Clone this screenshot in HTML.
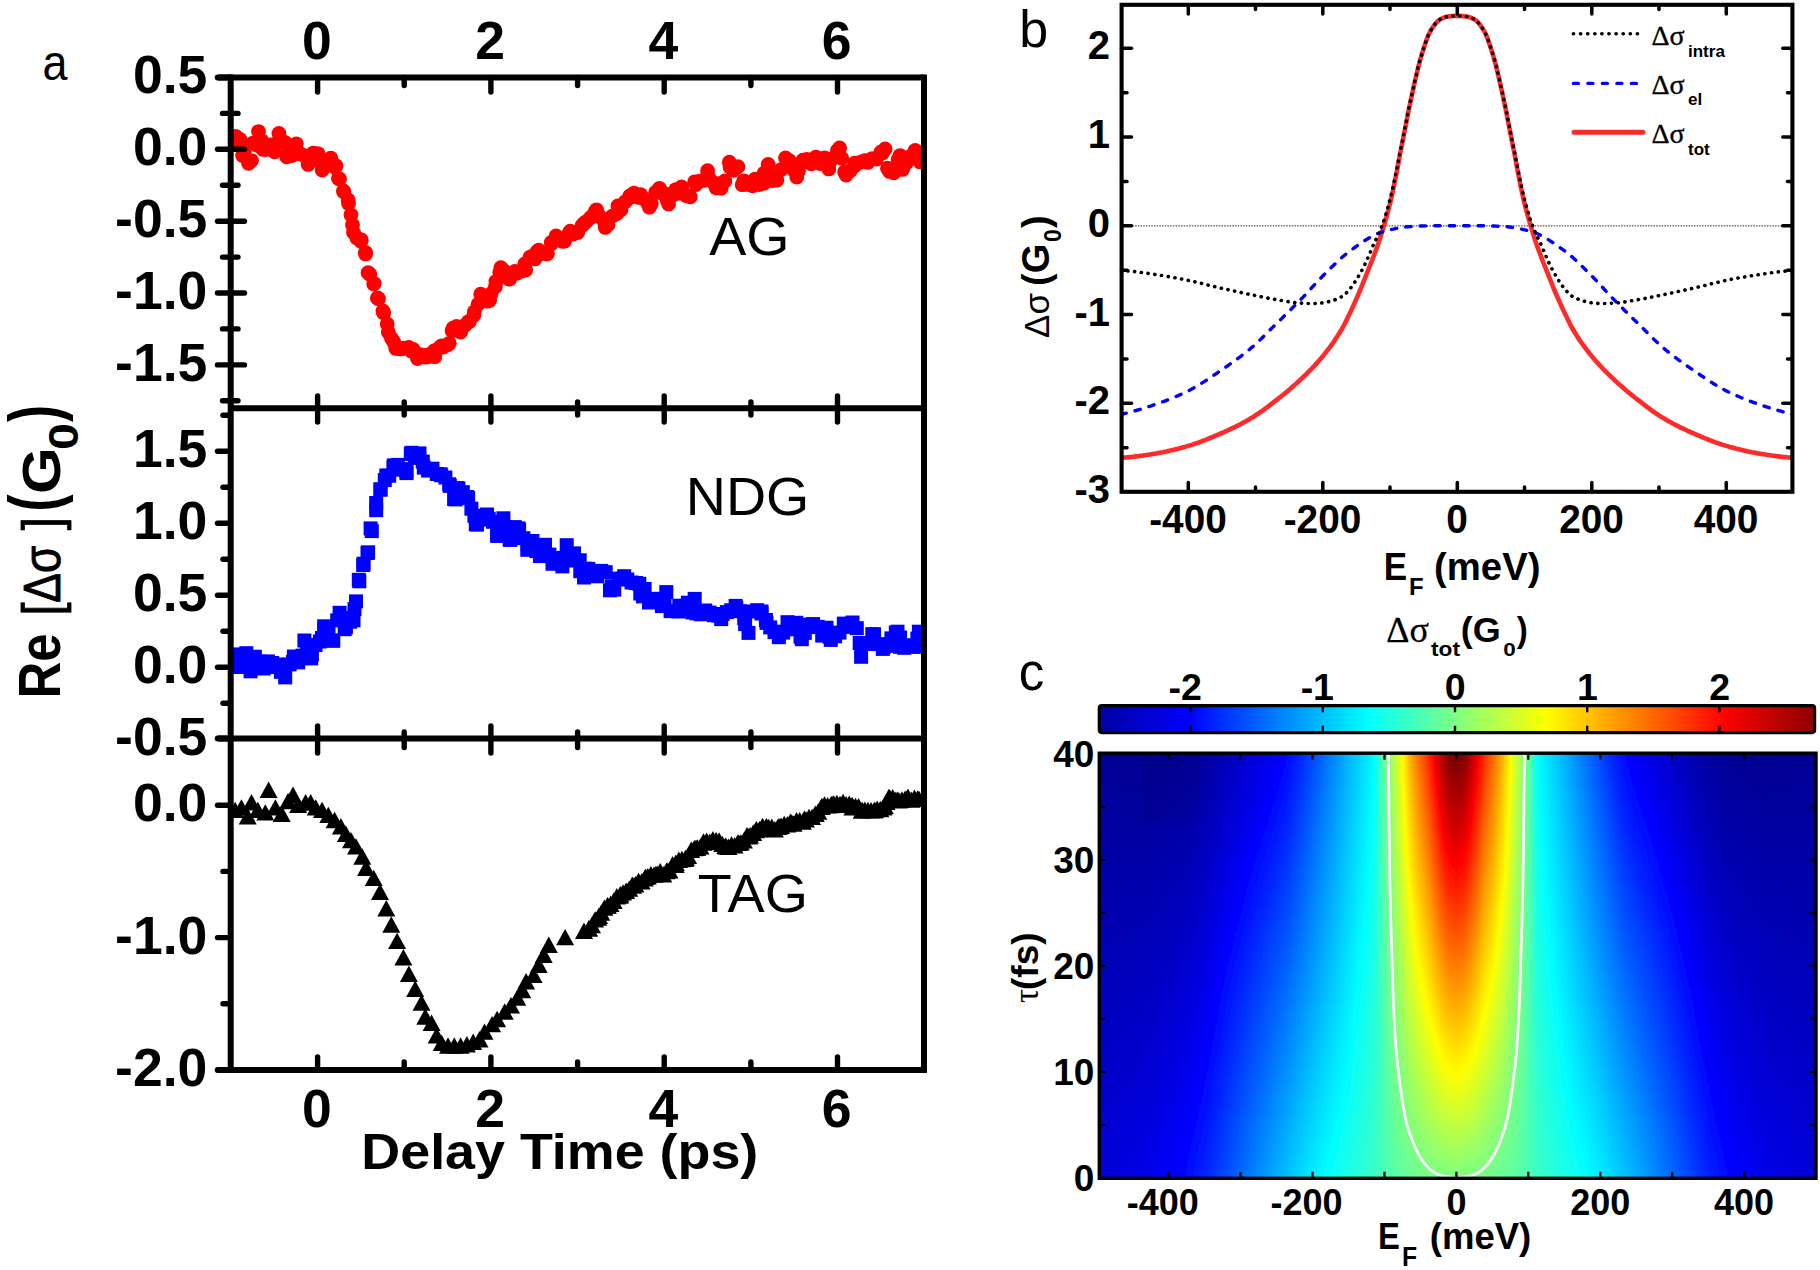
<!DOCTYPE html>
<html lang="en"><head><meta charset="utf-8"><title>Figure</title>
<style>html,body{margin:0;padding:0;background:#fff}svg{display:block}text{white-space:pre}</style></head>
<body>
<svg width="1820" height="1270" viewBox="0 0 1820 1270">
<rect width="1820" height="1270" fill="#fff"/>
<g id="pa">
<clipPath id="c1"><rect x="230.7" y="77.4" width="693.3" height="330.8"/></clipPath>
<g fill="#ff0000" clip-path="url(#c1)">
<circle cx="231.3" cy="144.8" r="7.4"/>
<circle cx="235.6" cy="136.3" r="7.4"/>
<circle cx="240" cy="139.5" r="7.4"/>
<circle cx="244.3" cy="151.2" r="7.4"/>
<circle cx="248.6" cy="163.3" r="7.4"/>
<circle cx="253" cy="143.1" r="7.4"/>
<circle cx="257.3" cy="145.4" r="7.4"/>
<circle cx="261.6" cy="140.6" r="7.4"/>
<circle cx="265.9" cy="149.6" r="7.4"/>
<circle cx="270.3" cy="145" r="7.4"/>
<circle cx="274.6" cy="151.8" r="7.4"/>
<circle cx="278.9" cy="133.5" r="7.4"/>
<circle cx="283.3" cy="141.7" r="7.4"/>
<circle cx="287.6" cy="153.7" r="7.4"/>
<circle cx="291.9" cy="155.6" r="7.4"/>
<circle cx="296.3" cy="143.8" r="7.4"/>
<circle cx="300.6" cy="153.9" r="7.4"/>
<circle cx="304.9" cy="155.9" r="7.4"/>
<circle cx="309.2" cy="162.1" r="7.4"/>
<circle cx="313.6" cy="156.5" r="7.4"/>
<circle cx="317.9" cy="153.6" r="7.4"/>
<circle cx="322.2" cy="170" r="7.4"/>
<circle cx="326.6" cy="165.6" r="7.4"/>
<circle cx="330.9" cy="159.7" r="7.4"/>
<circle cx="335.2" cy="167.4" r="7.4"/>
<circle cx="339.6" cy="179.1" r="7.4"/>
<circle cx="343.9" cy="191.7" r="7.4"/>
<circle cx="348.2" cy="200" r="7.4"/>
<circle cx="352.5" cy="224.8" r="7.4"/>
<circle cx="356.9" cy="238" r="7.4"/>
<circle cx="361.2" cy="239.8" r="7.4"/>
<circle cx="365.5" cy="252.5" r="7.4"/>
<circle cx="369.9" cy="274.2" r="7.4"/>
<circle cx="374.2" cy="283.4" r="7.4"/>
<circle cx="378.5" cy="298.7" r="7.4"/>
<circle cx="382.9" cy="311" r="7.4"/>
<circle cx="387.2" cy="324" r="7.4"/>
<circle cx="391.5" cy="338.5" r="7.4"/>
<circle cx="395.8" cy="348.4" r="7.4"/>
<circle cx="400.2" cy="348.8" r="7.4"/>
<circle cx="404.5" cy="348.3" r="7.4"/>
<circle cx="408.8" cy="347.5" r="7.4"/>
<circle cx="413.2" cy="349.4" r="7.4"/>
<circle cx="417.5" cy="358.5" r="7.4"/>
<circle cx="421.8" cy="355.4" r="7.4"/>
<circle cx="426.2" cy="355.1" r="7.4"/>
<circle cx="430.5" cy="354.5" r="7.4"/>
<circle cx="434.8" cy="356.7" r="7.4"/>
<circle cx="439.1" cy="347.9" r="7.4"/>
<circle cx="443.5" cy="347.1" r="7.4"/>
<circle cx="447.8" cy="344.7" r="7.4"/>
<circle cx="452.1" cy="330.7" r="7.4"/>
<circle cx="456.5" cy="326.5" r="7.4"/>
<circle cx="460.8" cy="330.7" r="7.4"/>
<circle cx="465.1" cy="325.3" r="7.4"/>
<circle cx="469.5" cy="321.5" r="7.4"/>
<circle cx="473.8" cy="315.3" r="7.4"/>
<circle cx="478.1" cy="304.2" r="7.4"/>
<circle cx="482.4" cy="296.3" r="7.4"/>
<circle cx="486.8" cy="301.2" r="7.4"/>
<circle cx="491.1" cy="293.7" r="7.4"/>
<circle cx="495.4" cy="286.8" r="7.4"/>
<circle cx="499.8" cy="272.4" r="7.4"/>
<circle cx="504.1" cy="270.9" r="7.4"/>
<circle cx="508.4" cy="278.8" r="7.4"/>
<circle cx="512.8" cy="274.3" r="7.4"/>
<circle cx="517.1" cy="273.2" r="7.4"/>
<circle cx="521.4" cy="271" r="7.4"/>
<circle cx="525.7" cy="270" r="7.4"/>
<circle cx="530.1" cy="257.1" r="7.4"/>
<circle cx="534.4" cy="254.8" r="7.4"/>
<circle cx="538.7" cy="250.2" r="7.4"/>
<circle cx="543.1" cy="253.4" r="7.4"/>
<circle cx="547.4" cy="253.8" r="7.4"/>
<circle cx="551.7" cy="243.4" r="7.4"/>
<circle cx="556.1" cy="235.9" r="7.4"/>
<circle cx="560.4" cy="240.6" r="7.4"/>
<circle cx="564.7" cy="241" r="7.4"/>
<circle cx="569" cy="233.4" r="7.4"/>
<circle cx="573.4" cy="234" r="7.4"/>
<circle cx="577.7" cy="231.7" r="7.4"/>
<circle cx="582" cy="225.7" r="7.4"/>
<circle cx="586.4" cy="221.6" r="7.4"/>
<circle cx="590.7" cy="217.4" r="7.4"/>
<circle cx="595" cy="212" r="7.4"/>
<circle cx="599.4" cy="215.9" r="7.4"/>
<circle cx="603.7" cy="220.8" r="7.4"/>
<circle cx="608" cy="224.7" r="7.4"/>
<circle cx="612.3" cy="216.1" r="7.4"/>
<circle cx="616.7" cy="213.7" r="7.4"/>
<circle cx="621" cy="209.8" r="7.4"/>
<circle cx="625.3" cy="201.7" r="7.4"/>
<circle cx="629.7" cy="195.9" r="7.4"/>
<circle cx="634" cy="193.1" r="7.4"/>
<circle cx="638.3" cy="197.3" r="7.4"/>
<circle cx="642.7" cy="198" r="7.4"/>
<circle cx="647" cy="202.1" r="7.4"/>
<circle cx="651.3" cy="203.8" r="7.4"/>
<circle cx="655.6" cy="192.3" r="7.4"/>
<circle cx="660" cy="192.6" r="7.4"/>
<circle cx="664.3" cy="193.4" r="7.4"/>
<circle cx="668.6" cy="204" r="7.4"/>
<circle cx="673" cy="194.9" r="7.4"/>
<circle cx="677.3" cy="193.3" r="7.4"/>
<circle cx="681.6" cy="187" r="7.4"/>
<circle cx="686" cy="195.5" r="7.4"/>
<circle cx="690.3" cy="196.8" r="7.4"/>
<circle cx="694.6" cy="181.9" r="7.4"/>
<circle cx="698.9" cy="181.5" r="7.4"/>
<circle cx="703.3" cy="180.4" r="7.4"/>
<circle cx="707.6" cy="170.7" r="7.4"/>
<circle cx="711.9" cy="181.6" r="7.4"/>
<circle cx="716.3" cy="188.1" r="7.4"/>
<circle cx="720.6" cy="183.5" r="7.4"/>
<circle cx="724.9" cy="181" r="7.4"/>
<circle cx="729.3" cy="162.2" r="7.4"/>
<circle cx="733.6" cy="170.3" r="7.4"/>
<circle cx="737.9" cy="166.7" r="7.4"/>
<circle cx="742.2" cy="184.7" r="7.4"/>
<circle cx="746.6" cy="184.4" r="7.4"/>
<circle cx="750.9" cy="184.7" r="7.4"/>
<circle cx="755.2" cy="179.1" r="7.4"/>
<circle cx="759.6" cy="184.5" r="7.4"/>
<circle cx="763.9" cy="183.2" r="7.4"/>
<circle cx="768.2" cy="164.5" r="7.4"/>
<circle cx="772.6" cy="180.5" r="7.4"/>
<circle cx="776.9" cy="180.1" r="7.4"/>
<circle cx="781.2" cy="169.6" r="7.4"/>
<circle cx="785.5" cy="158" r="7.4"/>
<circle cx="789.9" cy="166.4" r="7.4"/>
<circle cx="794.2" cy="170.5" r="7.4"/>
<circle cx="798.5" cy="170.9" r="7.4"/>
<circle cx="802.9" cy="160.2" r="7.4"/>
<circle cx="807.2" cy="162.2" r="7.4"/>
<circle cx="811.5" cy="163.8" r="7.4"/>
<circle cx="815.9" cy="157.1" r="7.4"/>
<circle cx="820.2" cy="163.6" r="7.4"/>
<circle cx="824.5" cy="157.8" r="7.4"/>
<circle cx="828.8" cy="168.9" r="7.4"/>
<circle cx="833.2" cy="158.3" r="7.4"/>
<circle cx="837.5" cy="150.4" r="7.4"/>
<circle cx="841.8" cy="158.2" r="7.4"/>
<circle cx="846.2" cy="175" r="7.4"/>
<circle cx="850.5" cy="170.6" r="7.4"/>
<circle cx="854.8" cy="165.7" r="7.4"/>
<circle cx="859.2" cy="162.7" r="7.4"/>
<circle cx="863.5" cy="161.3" r="7.4"/>
<circle cx="867.8" cy="162.4" r="7.4"/>
<circle cx="872.1" cy="158.6" r="7.4"/>
<circle cx="876.5" cy="159" r="7.4"/>
<circle cx="880.8" cy="152.2" r="7.4"/>
<circle cx="885.1" cy="149" r="7.4"/>
<circle cx="889.5" cy="171.4" r="7.4"/>
<circle cx="893.8" cy="172.8" r="7.4"/>
<circle cx="898.1" cy="159.8" r="7.4"/>
<circle cx="902.5" cy="168.1" r="7.4"/>
<circle cx="906.8" cy="162.4" r="7.4"/>
<circle cx="911.1" cy="156" r="7.4"/>
<circle cx="915.4" cy="151.1" r="7.4"/>
<circle cx="919.8" cy="155.3" r="7.4"/>
<circle cx="231.3" cy="136.7" r="7.4"/>
<circle cx="241.4" cy="143" r="7.4"/>
<circle cx="242.6" cy="155.6" r="7.4"/>
<circle cx="251.5" cy="160.6" r="7.4"/>
<circle cx="258.5" cy="131.6" r="7.4"/>
<circle cx="262.8" cy="149.3" r="7.4"/>
<circle cx="275.4" cy="144.2" r="7.4"/>
<circle cx="285.5" cy="143" r="7.4"/>
<circle cx="286.7" cy="156.8" r="7.4"/>
<circle cx="294.3" cy="146.8" r="7.4"/>
<circle cx="308.1" cy="164.4" r="7.4"/>
<circle cx="313.2" cy="153.1" r="7.4"/>
<circle cx="322" cy="164.4" r="7.4"/>
<circle cx="330.8" cy="158.1" r="7.4"/>
<circle cx="335.9" cy="165.7" r="7.4"/>
<circle cx="338.4" cy="178.3" r="7.4"/>
<circle cx="343.4" cy="190.9" r="7.4"/>
<circle cx="348.5" cy="203.5" r="7.4"/>
<circle cx="351" cy="214.8" r="7.4"/>
<circle cx="353.5" cy="232.4" r="7.4"/>
<circle cx="361" cy="241.3" r="7.4"/>
<circle cx="365.6" cy="253.9" r="7.4"/>
<circle cx="368.1" cy="272.7" r="7.4"/>
<circle cx="373.7" cy="284.1" r="7.4"/>
<circle cx="377.4" cy="298" r="7.4"/>
<circle cx="383.7" cy="313.1" r="7.4"/>
<circle cx="388.3" cy="332" r="7.4"/>
<circle cx="393.8" cy="342" r="7.4"/>
<circle cx="402.6" cy="348.3" r="7.4"/>
<circle cx="411.4" cy="350.9" r="7.4"/>
<circle cx="420.3" cy="354.6" r="7.4"/>
<circle cx="426.6" cy="357.2" r="7.4"/>
<circle cx="434.1" cy="350.9" r="7.4"/>
<circle cx="441.7" cy="345.8" r="7.4"/>
<circle cx="449.3" cy="343.3" r="7.4"/>
<circle cx="453" cy="328.2" r="7.4"/>
<circle cx="460.6" cy="332" r="7.4"/>
<circle cx="468.1" cy="321.9" r="7.4"/>
<circle cx="474.4" cy="311.8" r="7.4"/>
<circle cx="480.7" cy="294.2" r="7.4"/>
<circle cx="489.6" cy="300.5" r="7.4"/>
<circle cx="495.9" cy="281.6" r="7.4"/>
<circle cx="500.9" cy="267.7" r="7.4"/>
<circle cx="509.7" cy="279" r="7.4"/>
<circle cx="514.8" cy="271.5" r="7.4"/>
<circle cx="524.8" cy="263.9" r="7.4"/>
<circle cx="534.9" cy="258.9" r="7.4"/>
<circle cx="537.4" cy="251.3" r="7.4"/>
<circle cx="546.2" cy="253.8" r="7.4"/>
<circle cx="551.3" cy="242.5" r="7.4"/>
<circle cx="562.6" cy="241.3" r="7.4"/>
<circle cx="570.2" cy="231.2" r="7.4"/>
<circle cx="577.7" cy="232.4" r="7.4"/>
<circle cx="584" cy="223.6" r="7.4"/>
<circle cx="596.5" cy="209.8" r="7.4"/>
<circle cx="605.3" cy="227.4" r="7.4"/>
<circle cx="617.9" cy="206" r="7.4"/>
<circle cx="630.5" cy="197.2" r="7.4"/>
<circle cx="640.5" cy="194.6" r="7.4"/>
<circle cx="649.4" cy="207.2" r="7.4"/>
<circle cx="659.4" cy="188.3" r="7.4"/>
<circle cx="667" cy="199.7" r="7.4"/>
<circle cx="675.8" cy="189.6" r="7.4"/>
<circle cx="688.4" cy="195.9" r="7.4"/>
<circle cx="696" cy="184.6" r="7.4"/>
<circle cx="708.6" cy="177" r="7.4"/>
<circle cx="721.2" cy="188.3" r="7.4"/>
<circle cx="730" cy="166.9" r="7.4"/>
<circle cx="743.9" cy="180.8" r="7.4"/>
<circle cx="752.7" cy="185.8" r="7.4"/>
<circle cx="764" cy="173.2" r="7.4"/>
<circle cx="774.1" cy="174.5" r="7.4"/>
<circle cx="789.2" cy="160.6" r="7.4"/>
<circle cx="796.8" cy="177" r="7.4"/>
<circle cx="806.8" cy="159.4" r="7.4"/>
<circle cx="819.4" cy="160.6" r="7.4"/>
<circle cx="828.3" cy="165.7" r="7.4"/>
<circle cx="839.6" cy="148" r="7.4"/>
<circle cx="844.6" cy="172" r="7.4"/>
<circle cx="854.7" cy="163.1" r="7.4"/>
<circle cx="864.8" cy="160.6" r="7.4"/>
<circle cx="882.4" cy="153.1" r="7.4"/>
<circle cx="887.5" cy="168.2" r="7.4"/>
<circle cx="900.1" cy="155.6" r="7.4"/>
<circle cx="902.6" cy="169.4" r="7.4"/>
<circle cx="915.2" cy="150.5" r="7.4"/>
<circle cx="920.2" cy="161.9" r="7.4"/>
</g>
<clipPath id="c2"><rect x="230.7" y="408.2" width="693.3" height="330.4"/></clipPath>
<g fill="#0000ff" clip-path="url(#c2)">
<rect x="230.6" y="651.8" width="14" height="14"/>
<rect x="234.9" y="654.5" width="14" height="14"/>
<rect x="239.3" y="646.2" width="14" height="14"/>
<rect x="243.6" y="664.3" width="14" height="14"/>
<rect x="247.9" y="649.7" width="14" height="14"/>
<rect x="252.3" y="654.7" width="14" height="14"/>
<rect x="256.6" y="661.5" width="14" height="14"/>
<rect x="260.9" y="654.4" width="14" height="14"/>
<rect x="265.2" y="656" width="14" height="14"/>
<rect x="269.6" y="657.5" width="14" height="14"/>
<rect x="273.9" y="664.8" width="14" height="14"/>
<rect x="278.2" y="670.4" width="14" height="14"/>
<rect x="282.6" y="657.4" width="14" height="14"/>
<rect x="286.9" y="649.5" width="14" height="14"/>
<rect x="291.2" y="655.4" width="14" height="14"/>
<rect x="295.6" y="648.6" width="14" height="14"/>
<rect x="299.9" y="638" width="14" height="14"/>
<rect x="304.2" y="651.4" width="14" height="14"/>
<rect x="308.5" y="638.1" width="14" height="14"/>
<rect x="312.9" y="634.5" width="14" height="14"/>
<rect x="317.2" y="619.3" width="14" height="14"/>
<rect x="321.5" y="626.7" width="14" height="14"/>
<rect x="325.9" y="633.7" width="14" height="14"/>
<rect x="330.2" y="613.4" width="14" height="14"/>
<rect x="334.5" y="611" width="14" height="14"/>
<rect x="338.9" y="620.3" width="14" height="14"/>
<rect x="343.2" y="614.7" width="14" height="14"/>
<rect x="347.5" y="602.1" width="14" height="14"/>
<rect x="351.8" y="572.8" width="14" height="14"/>
<rect x="356.2" y="558" width="14" height="14"/>
<rect x="360.5" y="546" width="14" height="14"/>
<rect x="364.8" y="524.1" width="14" height="14"/>
<rect x="369.2" y="496" width="14" height="14"/>
<rect x="373.5" y="482.7" width="14" height="14"/>
<rect x="377.8" y="473.1" width="14" height="14"/>
<rect x="382.2" y="468.7" width="14" height="14"/>
<rect x="386.5" y="460.3" width="14" height="14"/>
<rect x="390.8" y="457.9" width="14" height="14"/>
<rect x="395.1" y="462.6" width="14" height="14"/>
<rect x="399.5" y="466.1" width="14" height="14"/>
<rect x="403.8" y="447.1" width="14" height="14"/>
<rect x="408.1" y="451" width="14" height="14"/>
<rect x="412.5" y="446.4" width="14" height="14"/>
<rect x="416.8" y="460.6" width="14" height="14"/>
<rect x="421.1" y="463.6" width="14" height="14"/>
<rect x="425.5" y="461.7" width="14" height="14"/>
<rect x="429.8" y="467" width="14" height="14"/>
<rect x="434.1" y="468.2" width="14" height="14"/>
<rect x="438.4" y="470.5" width="14" height="14"/>
<rect x="442.8" y="478.9" width="14" height="14"/>
<rect x="447.1" y="492" width="14" height="14"/>
<rect x="451.4" y="481.4" width="14" height="14"/>
<rect x="455.8" y="485.2" width="14" height="14"/>
<rect x="460.1" y="490" width="14" height="14"/>
<rect x="464.4" y="501.7" width="14" height="14"/>
<rect x="468.8" y="517.2" width="14" height="14"/>
<rect x="473.1" y="512.6" width="14" height="14"/>
<rect x="477.4" y="511.6" width="14" height="14"/>
<rect x="481.7" y="511.8" width="14" height="14"/>
<rect x="486.1" y="514.8" width="14" height="14"/>
<rect x="490.4" y="526.8" width="14" height="14"/>
<rect x="494.7" y="515.6" width="14" height="14"/>
<rect x="499.1" y="520.2" width="14" height="14"/>
<rect x="503.4" y="532.8" width="14" height="14"/>
<rect x="507.7" y="520.1" width="14" height="14"/>
<rect x="512.1" y="522.9" width="14" height="14"/>
<rect x="516.4" y="531.2" width="14" height="14"/>
<rect x="520.7" y="537.8" width="14" height="14"/>
<rect x="525" y="536.2" width="14" height="14"/>
<rect x="529.4" y="544.1" width="14" height="14"/>
<rect x="533.7" y="545.6" width="14" height="14"/>
<rect x="538" y="540.4" width="14" height="14"/>
<rect x="542.4" y="547.6" width="14" height="14"/>
<rect x="546.7" y="556.4" width="14" height="14"/>
<rect x="551" y="550.9" width="14" height="14"/>
<rect x="555.4" y="559.4" width="14" height="14"/>
<rect x="559.7" y="538.2" width="14" height="14"/>
<rect x="564" y="547.6" width="14" height="14"/>
<rect x="568.3" y="553.5" width="14" height="14"/>
<rect x="572.7" y="553.3" width="14" height="14"/>
<rect x="577" y="569.6" width="14" height="14"/>
<rect x="581.3" y="561.9" width="14" height="14"/>
<rect x="585.7" y="566.7" width="14" height="14"/>
<rect x="590" y="569.3" width="14" height="14"/>
<rect x="594.3" y="563.9" width="14" height="14"/>
<rect x="598.7" y="565.2" width="14" height="14"/>
<rect x="603" y="583.3" width="14" height="14"/>
<rect x="607.3" y="582.6" width="14" height="14"/>
<rect x="611.6" y="571.6" width="14" height="14"/>
<rect x="616" y="571.8" width="14" height="14"/>
<rect x="620.3" y="572.5" width="14" height="14"/>
<rect x="624.6" y="575.5" width="14" height="14"/>
<rect x="629" y="576" width="14" height="14"/>
<rect x="633.3" y="586.5" width="14" height="14"/>
<rect x="637.6" y="582" width="14" height="14"/>
<rect x="642" y="595.5" width="14" height="14"/>
<rect x="646.3" y="593.5" width="14" height="14"/>
<rect x="650.6" y="591.8" width="14" height="14"/>
<rect x="654.9" y="599.1" width="14" height="14"/>
<rect x="659.3" y="585.1" width="14" height="14"/>
<rect x="663.6" y="604.1" width="14" height="14"/>
<rect x="667.9" y="603.8" width="14" height="14"/>
<rect x="672.3" y="598.7" width="14" height="14"/>
<rect x="676.6" y="602.4" width="14" height="14"/>
<rect x="680.9" y="595.7" width="14" height="14"/>
<rect x="685.3" y="605.4" width="14" height="14"/>
<rect x="689.6" y="606.4" width="14" height="14"/>
<rect x="693.9" y="607.3" width="14" height="14"/>
<rect x="698.2" y="603.5" width="14" height="14"/>
<rect x="702.6" y="605.6" width="14" height="14"/>
<rect x="706.9" y="608.2" width="14" height="14"/>
<rect x="711.2" y="608.6" width="14" height="14"/>
<rect x="715.6" y="607" width="14" height="14"/>
<rect x="719.9" y="605.1" width="14" height="14"/>
<rect x="724.2" y="603.3" width="14" height="14"/>
<rect x="728.6" y="598.9" width="14" height="14"/>
<rect x="732.9" y="604.2" width="14" height="14"/>
<rect x="737.2" y="611.3" width="14" height="14"/>
<rect x="741.5" y="625.9" width="14" height="14"/>
<rect x="745.9" y="604.5" width="14" height="14"/>
<rect x="750.2" y="603.2" width="14" height="14"/>
<rect x="754.5" y="606.5" width="14" height="14"/>
<rect x="758.9" y="613" width="14" height="14"/>
<rect x="763.2" y="620.4" width="14" height="14"/>
<rect x="767.5" y="625.1" width="14" height="14"/>
<rect x="771.9" y="630.2" width="14" height="14"/>
<rect x="776.2" y="625.6" width="14" height="14"/>
<rect x="780.5" y="615.2" width="14" height="14"/>
<rect x="784.8" y="622.3" width="14" height="14"/>
<rect x="789.2" y="615.8" width="14" height="14"/>
<rect x="793.5" y="629.7" width="14" height="14"/>
<rect x="797.8" y="625.9" width="14" height="14"/>
<rect x="802.2" y="617.6" width="14" height="14"/>
<rect x="806.5" y="620.1" width="14" height="14"/>
<rect x="810.8" y="619.9" width="14" height="14"/>
<rect x="815.2" y="628.6" width="14" height="14"/>
<rect x="819.5" y="620.7" width="14" height="14"/>
<rect x="823.8" y="632.9" width="14" height="14"/>
<rect x="828.1" y="629.3" width="14" height="14"/>
<rect x="832.5" y="625.6" width="14" height="14"/>
<rect x="836.8" y="616.6" width="14" height="14"/>
<rect x="841.1" y="619.8" width="14" height="14"/>
<rect x="845.5" y="615.5" width="14" height="14"/>
<rect x="849.8" y="621.2" width="14" height="14"/>
<rect x="854.1" y="649.8" width="14" height="14"/>
<rect x="858.5" y="636.4" width="14" height="14"/>
<rect x="862.8" y="637" width="14" height="14"/>
<rect x="867.1" y="627.3" width="14" height="14"/>
<rect x="871.4" y="637.1" width="14" height="14"/>
<rect x="875.8" y="641.9" width="14" height="14"/>
<rect x="880.1" y="638.8" width="14" height="14"/>
<rect x="884.4" y="631.4" width="14" height="14"/>
<rect x="888.8" y="625.6" width="14" height="14"/>
<rect x="893.1" y="630.5" width="14" height="14"/>
<rect x="897.4" y="640.8" width="14" height="14"/>
<rect x="901.8" y="638.2" width="14" height="14"/>
<rect x="906.1" y="639.6" width="14" height="14"/>
<rect x="910.4" y="631.6" width="14" height="14"/>
<rect x="230.6" y="647.4" width="14" height="14"/>
<rect x="230.6" y="660" width="14" height="14"/>
<rect x="245.7" y="657.4" width="14" height="14"/>
<rect x="260.8" y="660" width="14" height="14"/>
<rect x="274.7" y="662.5" width="14" height="14"/>
<rect x="286" y="654.9" width="14" height="14"/>
<rect x="296.1" y="651.1" width="14" height="14"/>
<rect x="304.9" y="647.4" width="14" height="14"/>
<rect x="297.4" y="633.5" width="14" height="14"/>
<rect x="315" y="631" width="14" height="14"/>
<rect x="317.5" y="622.2" width="14" height="14"/>
<rect x="326.3" y="633.5" width="14" height="14"/>
<rect x="332.6" y="605.8" width="14" height="14"/>
<rect x="337.7" y="622.2" width="14" height="14"/>
<rect x="346.5" y="613.3" width="14" height="14"/>
<rect x="349" y="594.4" width="14" height="14"/>
<rect x="352.3" y="574.3" width="14" height="14"/>
<rect x="356.6" y="556.7" width="14" height="14"/>
<rect x="361.1" y="545.3" width="14" height="14"/>
<rect x="363.6" y="521.4" width="14" height="14"/>
<rect x="369.2" y="503.2" width="14" height="14"/>
<rect x="373.5" y="482.3" width="14" height="14"/>
<rect x="379.3" y="468.5" width="14" height="14"/>
<rect x="386.8" y="458.4" width="14" height="14"/>
<rect x="394.4" y="462.2" width="14" height="14"/>
<rect x="399.4" y="464.7" width="14" height="14"/>
<rect x="404.4" y="445.8" width="14" height="14"/>
<rect x="415.8" y="454.6" width="14" height="14"/>
<rect x="424.6" y="462.2" width="14" height="14"/>
<rect x="433.4" y="467.2" width="14" height="14"/>
<rect x="442.2" y="477.3" width="14" height="14"/>
<rect x="449.8" y="481.1" width="14" height="14"/>
<rect x="448.5" y="492.4" width="14" height="14"/>
<rect x="461.1" y="491.1" width="14" height="14"/>
<rect x="467.4" y="508.8" width="14" height="14"/>
<rect x="470" y="517.6" width="14" height="14"/>
<rect x="480" y="507.5" width="14" height="14"/>
<rect x="490.1" y="528.9" width="14" height="14"/>
<rect x="496.4" y="511.3" width="14" height="14"/>
<rect x="502.7" y="532.7" width="14" height="14"/>
<rect x="511.5" y="521.4" width="14" height="14"/>
<rect x="520.3" y="542.8" width="14" height="14"/>
<rect x="525.4" y="534" width="14" height="14"/>
<rect x="538" y="537.8" width="14" height="14"/>
<rect x="533" y="549.1" width="14" height="14"/>
<rect x="545.5" y="556.7" width="14" height="14"/>
<rect x="556.9" y="551.6" width="14" height="14"/>
<rect x="567" y="546.6" width="14" height="14"/>
<rect x="573.3" y="564.2" width="14" height="14"/>
<rect x="577" y="570.5" width="14" height="14"/>
<rect x="566.8" y="546.6" width="14" height="14"/>
<rect x="578.1" y="561.7" width="14" height="14"/>
<rect x="593.2" y="564.2" width="14" height="14"/>
<rect x="604.6" y="579.3" width="14" height="14"/>
<rect x="617.2" y="569.2" width="14" height="14"/>
<rect x="632.3" y="576.8" width="14" height="14"/>
<rect x="636" y="589.4" width="14" height="14"/>
<rect x="657.5" y="594.4" width="14" height="14"/>
<rect x="671.3" y="604.5" width="14" height="14"/>
<rect x="687.7" y="591.9" width="14" height="14"/>
<rect x="691.5" y="604.5" width="14" height="14"/>
<rect x="714.2" y="612.1" width="14" height="14"/>
<rect x="729.3" y="600.7" width="14" height="14"/>
<rect x="738.1" y="617.1" width="14" height="14"/>
<rect x="754.5" y="604.5" width="14" height="14"/>
<rect x="759.5" y="615.9" width="14" height="14"/>
<rect x="772.1" y="624.7" width="14" height="14"/>
<rect x="784.7" y="617.1" width="14" height="14"/>
<rect x="794.8" y="632.2" width="14" height="14"/>
<rect x="806.1" y="617.1" width="14" height="14"/>
<rect x="822.5" y="629.7" width="14" height="14"/>
<rect x="843.9" y="619.6" width="14" height="14"/>
<rect x="852.7" y="636" width="14" height="14"/>
<rect x="865.3" y="627.2" width="14" height="14"/>
<rect x="876.7" y="639.8" width="14" height="14"/>
<rect x="890.5" y="624.7" width="14" height="14"/>
<rect x="893" y="639.8" width="14" height="14"/>
<rect x="911.9" y="624.7" width="14" height="14"/>
<rect x="911.9" y="639.8" width="14" height="14"/>
</g>
<clipPath id="c3"><rect x="230.7" y="738.6" width="693.3" height="331.4"/></clipPath>
<g fill="#000" clip-path="url(#c3)">
<path d="M235.1 801.7l9 16.4h-18z"/>
<path d="M241.4 799.2l9 16.4h-18z"/>
<path d="M247.7 808l9 16.4h-18z"/>
<path d="M251.5 794.1l9 16.4h-18z"/>
<path d="M257.8 801.7l9 16.4h-18z"/>
<path d="M265.3 804.2l9 16.4h-18z"/>
<path d="M268.6 781.5l9 16.4h-18z"/>
<path d="M275.4 799.2l9 16.4h-18z"/>
<path d="M281.7 805.5l9 16.4h-18z"/>
<path d="M288 792.9l9 16.4h-18z"/>
<path d="M293 786.6l9 16.4h-18z"/>
<path d="M298.1 796.7l9 16.4h-18z"/>
<path d="M305.6 794.1l9 16.4h-18z"/>
<path d="M310.7 794.1l9 16.4h-18z"/>
<path d="M315.7 799.2l9 16.4h-18z"/>
<path d="M322 801.7l9 16.4h-18z"/>
<path d="M328.3 806.7l9 16.4h-18z"/>
<path d="M334.6 811.8l9 16.4h-18z"/>
<path d="M340.9 818.1l9 16.4h-18z"/>
<path d="M345.9 825.6l9 16.4h-18z"/>
<path d="M351 831.9l9 16.4h-18z"/>
<path d="M356 838.2l9 16.4h-18z"/>
<path d="M362.3 848.3l9 16.4h-18z"/>
<path d="M366.1 859.6l9 16.4h-18z"/>
<path d="M373.7 869.7l9 16.4h-18z"/>
<path d="M380 883.6l9 16.4h-18z"/>
<path d="M386.3 900l9 16.4h-18z"/>
<path d="M391.3 916.3l9 16.4h-18z"/>
<path d="M397.1 932.7l9 16.4h-18z"/>
<path d="M403.4 949.1l9 16.4h-18z"/>
<path d="M408.9 965.5l9 16.4h-18z"/>
<path d="M415.2 980.6l9 16.4h-18z"/>
<path d="M421.5 994.4l9 16.4h-18z"/>
<path d="M425.3 1008.3l9 16.4h-18z"/>
<path d="M431.6 1014.6l9 16.4h-18z"/>
<path d="M436.6 1027.2l9 16.4h-18z"/>
<path d="M441.7 1034.7l9 16.4h-18z"/>
<path d="M448 1037.3l9 16.4h-18z"/>
<path d="M454.3 1037.3l9 16.4h-18z"/>
<path d="M460.6 1037.3l9 16.4h-18z"/>
<path d="M466.9 1036l9 16.4h-18z"/>
<path d="M473.2 1033.5l9 16.4h-18z"/>
<path d="M479.5 1031l9 16.4h-18z"/>
<path d="M484.5 1023.4l9 16.4h-18z"/>
<path d="M492.1 1015.9l9 16.4h-18z"/>
<path d="M497.1 1010.8l9 16.4h-18z"/>
<path d="M504.7 1003.3l9 16.4h-18z"/>
<path d="M511 997l9 16.4h-18z"/>
<path d="M517.3 989.4l9 16.4h-18z"/>
<path d="M522.3 981.8l9 16.4h-18z"/>
<path d="M526.1 973l9 16.4h-18z"/>
<path d="M533.6 966.7l9 16.4h-18z"/>
<path d="M538.7 956.6l9 16.4h-18z"/>
<path d="M543.7 946.6l9 16.4h-18z"/>
<path d="M548.8 936.5l9 16.4h-18z"/>
<path d="M565.1 928.9l9 16.4h-18z"/>
<path d="M584 922.6l9 16.4h-18z"/>
<path d="M588.9 920.2l9 16.4h-18z"/>
<path d="M592 916.8l9 16.4h-18z"/>
<path d="M595.1 911.2l9 16.4h-18z"/>
<path d="M598.2 909.3l9 16.4h-18z"/>
<path d="M601.3 904.4l9 16.4h-18z"/>
<path d="M604.4 899.4l9 16.4h-18z"/>
<path d="M607.5 897l9 16.4h-18z"/>
<path d="M610.6 895.6l9 16.4h-18z"/>
<path d="M613.7 892.5l9 16.4h-18z"/>
<path d="M616.8 888l9 16.4h-18z"/>
<path d="M619.9 887.3l9 16.4h-18z"/>
<path d="M623 884.2l9 16.4h-18z"/>
<path d="M626.1 882.6l9 16.4h-18z"/>
<path d="M629.2 880.4l9 16.4h-18z"/>
<path d="M632.3 876.4l9 16.4h-18z"/>
<path d="M635.4 876l9 16.4h-18z"/>
<path d="M638.5 872.7l9 16.4h-18z"/>
<path d="M641.6 873.2l9 16.4h-18z"/>
<path d="M644.7 870l9 16.4h-18z"/>
<path d="M647.8 868l9 16.4h-18z"/>
<path d="M650.9 866l9 16.4h-18z"/>
<path d="M654 866.4l9 16.4h-18z"/>
<path d="M657.1 865.6l9 16.4h-18z"/>
<path d="M660.2 863l9 16.4h-18z"/>
<path d="M663.3 866.1l9 16.4h-18z"/>
<path d="M666.4 862.9l9 16.4h-18z"/>
<path d="M669.5 862.1l9 16.4h-18z"/>
<path d="M672.6 856l9 16.4h-18z"/>
<path d="M675.7 856.6l9 16.4h-18z"/>
<path d="M678.8 851.5l9 16.4h-18z"/>
<path d="M681.9 850.8l9 16.4h-18z"/>
<path d="M685 850.7l9 16.4h-18z"/>
<path d="M688.1 847.5l9 16.4h-18z"/>
<path d="M691.2 841.5l9 16.4h-18z"/>
<path d="M694.3 839.9l9 16.4h-18z"/>
<path d="M697.4 839.3l9 16.4h-18z"/>
<path d="M700.5 838.2l9 16.4h-18z"/>
<path d="M703.6 834.3l9 16.4h-18z"/>
<path d="M706.7 832.5l9 16.4h-18z"/>
<path d="M709.8 833.5l9 16.4h-18z"/>
<path d="M712.9 830.9l9 16.4h-18z"/>
<path d="M716 832.5l9 16.4h-18z"/>
<path d="M719.1 832.2l9 16.4h-18z"/>
<path d="M722.2 835.7l9 16.4h-18z"/>
<path d="M725.3 837.5l9 16.4h-18z"/>
<path d="M728.4 838.5l9 16.4h-18z"/>
<path d="M731.5 836.2l9 16.4h-18z"/>
<path d="M734.6 837.1l9 16.4h-18z"/>
<path d="M737.7 834.5l9 16.4h-18z"/>
<path d="M740.8 834.2l9 16.4h-18z"/>
<path d="M743.9 832.2l9 16.4h-18z"/>
<path d="M747 827.1l9 16.4h-18z"/>
<path d="M750.1 827.1l9 16.4h-18z"/>
<path d="M753.2 824.5l9 16.4h-18z"/>
<path d="M756.3 820.9l9 16.4h-18z"/>
<path d="M759.4 820.9l9 16.4h-18z"/>
<path d="M762.5 817.8l9 16.4h-18z"/>
<path d="M765.6 819.1l9 16.4h-18z"/>
<path d="M768.7 818.7l9 16.4h-18z"/>
<path d="M771.8 818.5l9 16.4h-18z"/>
<path d="M774.9 821.1l9 16.4h-18z"/>
<path d="M778 818.5l9 16.4h-18z"/>
<path d="M781.1 817.6l9 16.4h-18z"/>
<path d="M784.2 815.7l9 16.4h-18z"/>
<path d="M787.3 816l9 16.4h-18z"/>
<path d="M790.4 813.5l9 16.4h-18z"/>
<path d="M793.5 815.3l9 16.4h-18z"/>
<path d="M796.6 812l9 16.4h-18z"/>
<path d="M799.7 812.1l9 16.4h-18z"/>
<path d="M802.8 813.3l9 16.4h-18z"/>
<path d="M805.9 811.2l9 16.4h-18z"/>
<path d="M809 808.7l9 16.4h-18z"/>
<path d="M812.1 808.7l9 16.4h-18z"/>
<path d="M815.2 805.7l9 16.4h-18z"/>
<path d="M818.3 803.3l9 16.4h-18z"/>
<path d="M821.4 798.6l9 16.4h-18z"/>
<path d="M824.5 796.2l9 16.4h-18z"/>
<path d="M827.6 797l9 16.4h-18z"/>
<path d="M830.7 796.8l9 16.4h-18z"/>
<path d="M833.8 795.2l9 16.4h-18z"/>
<path d="M836.9 794.7l9 16.4h-18z"/>
<path d="M840 795.8l9 16.4h-18z"/>
<path d="M843.1 793.8l9 16.4h-18z"/>
<path d="M846.2 796l9 16.4h-18z"/>
<path d="M849.3 795.4l9 16.4h-18z"/>
<path d="M852.4 799.2l9 16.4h-18z"/>
<path d="M855.5 797.7l9 16.4h-18z"/>
<path d="M858.6 798l9 16.4h-18z"/>
<path d="M861.7 802.4l9 16.4h-18z"/>
<path d="M864.8 801.5l9 16.4h-18z"/>
<path d="M867.9 801.8l9 16.4h-18z"/>
<path d="M871 801.9l9 16.4h-18z"/>
<path d="M874.1 802l9 16.4h-18z"/>
<path d="M877.2 800.4l9 16.4h-18z"/>
<path d="M880.3 800.8l9 16.4h-18z"/>
<path d="M883.4 799.1l9 16.4h-18z"/>
<path d="M886.5 793.6l9 16.4h-18z"/>
<path d="M889.6 789.1l9 16.4h-18z"/>
<path d="M892.7 789.1l9 16.4h-18z"/>
<path d="M895.8 791.5l9 16.4h-18z"/>
<path d="M898.9 792.1l9 16.4h-18z"/>
<path d="M902 791.3l9 16.4h-18z"/>
<path d="M905.1 790.5l9 16.4h-18z"/>
<path d="M908.2 789l9 16.4h-18z"/>
<path d="M911.3 791.4l9 16.4h-18z"/>
<path d="M914.4 789.6l9 16.4h-18z"/>
<path d="M917.5 790.3l9 16.4h-18z"/>
<path d="M588.9 920.1l9 16.4h-18z"/>
<path d="M599 907.5l9 16.4h-18z"/>
<path d="M607.8 897.4l9 16.4h-18z"/>
<path d="M620.4 886.1l9 16.4h-18z"/>
<path d="M633 877.3l9 16.4h-18z"/>
<path d="M645.6 868.5l9 16.4h-18z"/>
<path d="M655.7 865.9l9 16.4h-18z"/>
<path d="M667 862.2l9 16.4h-18z"/>
<path d="M675.8 854.6l9 16.4h-18z"/>
<path d="M685.9 849.6l9 16.4h-18z"/>
<path d="M696 839.5l9 16.4h-18z"/>
<path d="M703.5 833.2l9 16.4h-18z"/>
<path d="M716.1 831.9l9 16.4h-18z"/>
<path d="M726.2 838.2l9 16.4h-18z"/>
<path d="M738.8 834.4l9 16.4h-18z"/>
<path d="M748.9 828.1l9 16.4h-18z"/>
<path d="M756.4 821.8l9 16.4h-18z"/>
<path d="M766.5 818.1l9 16.4h-18z"/>
<path d="M779.1 818.1l9 16.4h-18z"/>
<path d="M791.7 814.3l9 16.4h-18z"/>
<path d="M804.3 810.5l9 16.4h-18z"/>
<path d="M815.7 805.5l9 16.4h-18z"/>
<path d="M822 797.9l9 16.4h-18z"/>
<path d="M832 795.4l9 16.4h-18z"/>
<path d="M842.1 796.7l9 16.4h-18z"/>
<path d="M852.2 796.7l9 16.4h-18z"/>
<path d="M862.3 801.7l9 16.4h-18z"/>
<path d="M874.9 801.7l9 16.4h-18z"/>
<path d="M884.9 797.9l9 16.4h-18z"/>
<path d="M888.7 789.1l9 16.4h-18z"/>
<path d="M897.5 791.6l9 16.4h-18z"/>
<path d="M907.6 789.1l9 16.4h-18z"/>
<path d="M919 790.4l9 16.4h-18z"/>
</g>
<g stroke="#000" stroke-width="6" stroke-linecap="butt" fill="none">
<path d="M230.7 74.4V1073"/>
<path d="M924 74.4V1073"/>
<path d="M218 77.4H924"/>
<path d="M230.7 408.2H924"/>
<path d="M218 738.6H924"/>
<path d="M218 1070H924"/>
</g>
<g stroke="#000" stroke-width="5.4" stroke-linecap="round" fill="none">
<path d="M317.6 77.4V92"/>
<path d="M317.6 396V422"/>
<path d="M317.6 726V753"/>
<path d="M317.6 1070V1057"/>
<path d="M404.2 77.4V85.5"/>
<path d="M404.2 402V415"/>
<path d="M404.2 732V747.5"/>
<path d="M404.2 1070V1062"/>
<path d="M490.9 77.4V92"/>
<path d="M490.9 396V422"/>
<path d="M490.9 726V753"/>
<path d="M490.9 1070V1057"/>
<path d="M577.6 77.4V85.5"/>
<path d="M577.6 402V415"/>
<path d="M577.6 732V747.5"/>
<path d="M577.6 1070V1062"/>
<path d="M664.2 77.4V92"/>
<path d="M664.2 396V422"/>
<path d="M664.2 726V753"/>
<path d="M664.2 1070V1057"/>
<path d="M750.9 77.4V85.5"/>
<path d="M750.9 402V415"/>
<path d="M750.9 732V747.5"/>
<path d="M750.9 1070V1062"/>
<path d="M837.5 77.4V92"/>
<path d="M837.5 396V422"/>
<path d="M837.5 726V753"/>
<path d="M837.5 1070V1057"/>
<path d="M217.7 77.4H230" stroke-width="6"/>
<path d="M217.7 738.6H230" stroke-width="6"/>
<path d="M217.7 1070H230" stroke-width="6"/>
<path d="M217.5 149.3H244.5"/>
<path d="M217.5 221.2H244.5"/>
<path d="M217.5 293H244.5"/>
<path d="M217.5 364.9H244.5"/>
<path d="M222.5 113.4H238"/>
<path d="M222.5 185.2H238"/>
<path d="M222.5 257.1H238"/>
<path d="M222.5 328.9H238"/>
<path d="M222.5 400.8H238"/>
<path d="M217.5 451.3H230"/>
<path d="M217.5 523.3H230"/>
<path d="M217.5 595.3H230"/>
<path d="M217.5 667.3H230"/>
<path d="M223 415.3H230"/>
<path d="M223 487.3H230"/>
<path d="M223 559.3H230"/>
<path d="M223 631.3H230"/>
<path d="M223 703.3H230"/>
<path d="M217.5 805.2H230"/>
<path d="M217.5 937.6H230"/>
<path d="M223 871.4H230"/>
<path d="M223 1003.8H230"/>
</g>
<g font-family="'Liberation Sans',Arial,Helvetica,sans-serif" font-weight="bold" font-size="53.5" fill="#000">
<g text-anchor="end">
<text x="207.3" y="93.3">0.5</text>
<text x="207.3" y="165.2">0.0</text>
<text x="207.3" y="237.1">-0.5</text>
<text x="207.3" y="308.9">-1.0</text>
<text x="207.3" y="380.8">-1.5</text>
<text x="207.3" y="467.2">1.5</text>
<text x="207.3" y="539.2">1.0</text>
<text x="207.3" y="611.2">0.5</text>
<text x="207.3" y="683.2">0.0</text>
<text x="207.3" y="754.5">-0.5</text>
<text x="207.3" y="821.1">0.0</text>
<text x="207.3" y="953.5">-1.0</text>
<text x="207.3" y="1085.9">-2.0</text>
</g><g text-anchor="middle">
<text x="316.8" y="59.3">0</text>
<text x="316.8" y="1127.2">0</text>
<text x="490.1" y="59.3">2</text>
<text x="490.1" y="1127.2">2</text>
<text x="663.4" y="59.3">4</text>
<text x="663.4" y="1127.2">4</text>
<text x="836.7" y="59.3">6</text>
<text x="836.7" y="1127.2">6</text>
</g>
<text x="361.3" y="1169.3" font-size="50.5" textLength="397" lengthAdjust="spacingAndGlyphs">Delay Time (ps)</text>
</g>
<g font-family="'Liberation Sans',Arial,Helvetica,sans-serif" font-size="54.5" fill="#000">
<text transform="translate(709.3 255.2) scale(1.02 1)">AG</text>
<text transform="translate(685.8 515.3) scale(1.02 1)">NDG</text>
<text transform="translate(697.8 912.4) scale(1.02 1)">TAG</text>
<text x="42.5" y="80" font-size="49.5" textLength="25" lengthAdjust="spacingAndGlyphs">a</text>
<text x="1019.3" y="46.6" font-size="52">b</text>
<text x="1018.8" y="689.6" font-size="53" textLength="25.5" lengthAdjust="spacingAndGlyphs">c</text>
</g>
<g transform="translate(60.3 698.5) rotate(-90) scale(1.02 1.17)" font-family="'Liberation Sans',Arial,Helvetica,sans-serif" fill="#000">
<text x="0" y="0" font-weight="bold" font-size="50">Re</text>
<g stroke="#000" stroke-width=".7">
<text x="81.5" y="0" font-size="46">[</text>
<text x="94" y="0" font-size="43.5">Δσ</text>
<text x="165" y="0" font-size="46">]</text>
</g></g>
<g transform="translate(60.3 698.5) rotate(-90)" font-family="'Liberation Sans',Arial,Helvetica,sans-serif" fill="#000" font-weight="bold">
<text x="187" y="-2.5" font-size="70" textLength="17" lengthAdjust="spacingAndGlyphs">(</text>
<text transform="translate(204.5 0) scale(1.2 1.06)" font-size="50">G</text>
<text x="248.5" y="18" font-size="42" textLength="27" lengthAdjust="spacingAndGlyphs">0</text>
<text x="276.5" y="-2.5" font-size="70" textLength="17" lengthAdjust="spacingAndGlyphs">)</text>
</g>
</g>
<g id="pb">
<clipPath id="cb"><rect x="1121.6" y="4.8" width="670.8" height="487"/></clipPath>
<path d="M1121.6 225.8H1792.4" stroke="#555" stroke-width="1.2" stroke-dasharray="1.5 1.2" fill="none"/>
<g clip-path="url(#cb)" fill="none" stroke-linejoin="round">
<path d="M1121 457.9 1122.7 457.8 1124.4 457.6 1126.1 457.5 1127.8 457.3 1129.5 457.1 1131.1 457 1132.8 456.8 1134.5 456.6 1136.2 456.4 1137.9 456.2 1139.5 455.9 1141.2 455.7 1142.9 455.5 1144.6 455.2 1146.3 455 1148 454.7 1149.6 454.5 1151.3 454.2 1153 453.9 1154.7 453.7 1156.4 453.4 1158 453.1 1159.7 452.8 1161.4 452.5 1163.1 452.2 1164.8 451.8 1166.4 451.5 1168.1 451.1 1169.8 450.7 1171.5 450.3 1173.2 449.9 1174.8 449.5 1176.5 449.1 1178.2 448.7 1179.9 448.2 1181.6 447.8 1183.3 447.3 1184.9 446.9 1186.6 446.4 1188.3 445.9 1190 445.4 1191.7 444.9 1193.3 444.3 1195 443.8 1196.7 443.2 1198.4 442.6 1200.1 442 1201.8 441.4 1203.4 440.7 1205.1 440.1 1206.8 439.4 1208.5 438.7 1210.2 438 1211.8 437.3 1213.5 436.6 1215.2 435.9 1216.9 435.2 1218.6 434.5 1220.2 433.7 1221.9 433 1223.6 432.3 1225.3 431.5 1227 430.8 1228.6 430 1230.3 429.2 1232 428.4 1233.7 427.6 1235.4 426.8 1237.1 425.9 1238.7 425.1 1240.4 424.2 1242.1 423.3 1243.8 422.4 1245.5 421.5 1247.1 420.5 1248.8 419.6 1250.5 418.6 1252.2 417.6 1253.9 416.5 1255.5 415.4 1257.2 414.3 1258.9 413.2 1260.6 412 1262.3 410.8 1264 409.6 1265.6 408.3 1267.3 407.1 1269 405.8 1270.7 404.5 1272.4 403.2 1274 401.9 1275.7 400.6 1277.4 399.3 1279.1 398 1280.8 396.7 1282.5 395.3 1284.1 394 1285.8 392.6 1287.5 391.2 1289.2 389.7 1290.9 388.3 1292.5 386.8 1294.2 385.4 1295.9 383.9 1297.6 382.3 1299.3 380.8 1300.9 379.2 1302.6 377.6 1304.3 376 1306 374.4 1307.7 372.7 1309.3 371 1311 369.3 1312.7 367.5 1314.4 365.8 1316.1 363.9 1317.8 362.1 1319.4 360.2 1321.1 358.2 1322.8 356.2 1324.5 354.1 1326.2 352 1327.8 349.9 1329.5 347.7 1331.2 345.4 1332.9 343 1334.6 340.6 1336.2 338.1 1337.9 335.5 1339.6 332.8 1341.3 330 1343 327 1344.7 323.8 1346.3 320.6 1348 317.1 1349.7 313.6 1351.4 310 1353.1 306.3 1354.7 302.6 1356.4 298.8 1358.1 295 1359.8 291 1361.5 287 1363.1 282.8 1364.8 278.7 1366.5 274.4 1368.2 270.2 1369.9 265.9 1371.6 261.7 1373.2 257.4 1374.9 253 1376.6 248.4 1378.3 243.6 1380 238.5 1381.6 233.2 1383.3 227.8 1385 222.1 1386.7 216.2 1388.4 210 1390 203.4 1391.7 196.4 1393.4 188.6 1395.1 180.2 1396.8 171.5 1398.5 162.7 1400.1 153.9 1401.8 145.4 1403.5 136.8 1405.2 128.1 1406.9 119.4 1408.5 111 1410.2 102.9 1411.9 95.1 1413.6 87.3 1415.3 79.7 1417 72.4 1418.6 65.6 1420.3 59.4 1422 53.8 1423.7 48.4 1425.4 43.2 1427 38.5 1428.7 34.5 1430.4 31.1 1432.1 28.4 1433.8 25.9 1435.4 23.7 1437.1 21.8 1438.8 20.3 1440.5 19.1 1442.2 18.4 1443.8 17.7 1445.5 17.1 1447.2 16.7 1448.9 16.4 1450.6 16.2 1452.3 16.1 1453.9 16 1455.6 15.9 1457.3 15.9 1459 15.9 1460.7 16 1462.3 16.1 1464 16.2 1465.7 16.4 1467.4 16.7 1469.1 17.1 1470.8 17.7 1472.4 18.4 1474.1 19.1 1475.8 20.3 1477.5 21.8 1479.2 23.7 1480.8 25.9 1482.5 28.4 1484.2 31.1 1485.9 34.5 1487.6 38.5 1489.2 43.2 1490.9 48.4 1492.6 53.8 1494.3 59.4 1496 65.6 1497.6 72.4 1499.3 79.7 1501 87.3 1502.7 95.1 1504.4 102.9 1506.1 111 1507.7 119.4 1509.4 128.1 1511.1 136.8 1512.8 145.4 1514.5 153.9 1516.1 162.7 1517.8 171.5 1519.5 180.2 1521.2 188.6 1522.9 196.4 1524.5 203.4 1526.2 210 1527.9 216.2 1529.6 222.1 1531.3 227.8 1533 233.2 1534.6 238.5 1536.3 243.6 1538 248.4 1539.7 253 1541.4 257.4 1543 261.7 1544.7 265.9 1546.4 270.2 1548.1 274.4 1549.8 278.7 1551.5 282.8 1553.1 287 1554.8 291 1556.5 295 1558.2 298.8 1559.9 302.6 1561.5 306.3 1563.2 310 1564.9 313.6 1566.6 317.1 1568.3 320.6 1569.9 323.8 1571.6 327 1573.3 330 1575 332.8 1576.7 335.5 1578.3 338.1 1580 340.6 1581.7 343 1583.4 345.4 1585.1 347.7 1586.8 349.9 1588.4 352 1590.1 354.1 1591.8 356.2 1593.5 358.2 1595.2 360.2 1596.8 362.1 1598.5 363.9 1600.2 365.8 1601.9 367.5 1603.6 369.3 1605.2 371 1606.9 372.7 1608.6 374.4 1610.3 376 1612 377.6 1613.7 379.2 1615.3 380.8 1617 382.3 1618.7 383.9 1620.4 385.4 1622.1 386.8 1623.7 388.3 1625.4 389.7 1627.1 391.2 1628.8 392.6 1630.5 394 1632.1 395.3 1633.8 396.7 1635.5 398 1637.2 399.3 1638.9 400.6 1640.6 401.9 1642.2 403.2 1643.9 404.5 1645.6 405.8 1647.3 407.1 1649 408.3 1650.6 409.6 1652.3 410.8 1654 412 1655.7 413.2 1657.4 414.3 1659 415.4 1660.7 416.5 1662.4 417.6 1664.1 418.6 1665.8 419.6 1667.5 420.5 1669.1 421.5 1670.8 422.4 1672.5 423.3 1674.2 424.2 1675.9 425.1 1677.5 425.9 1679.2 426.8 1680.9 427.6 1682.6 428.4 1684.3 429.2 1686 430 1687.6 430.8 1689.3 431.5 1691 432.3 1692.7 433 1694.4 433.7 1696 434.5 1697.7 435.2 1699.4 435.9 1701.1 436.6 1702.8 437.3 1704.4 438 1706.1 438.7 1707.8 439.4 1709.5 440.1 1711.2 440.7 1712.8 441.4 1714.5 442 1716.2 442.6 1717.9 443.2 1719.6 443.8 1721.3 444.3 1722.9 444.9 1724.6 445.4 1726.3 445.9 1728 446.4 1729.7 446.9 1731.3 447.3 1733 447.8 1734.7 448.2 1736.4 448.7 1738.1 449.1 1739.8 449.5 1741.4 449.9 1743.1 450.3 1744.8 450.7 1746.5 451.1 1748.2 451.5 1749.8 451.8 1751.5 452.2 1753.2 452.5 1754.9 452.8 1756.6 453.1 1758.2 453.4 1759.9 453.7 1761.6 453.9 1763.3 454.2 1765 454.5 1766.6 454.7 1768.3 455 1770 455.2 1771.7 455.5 1773.4 455.7 1775.1 455.9 1776.7 456.2 1778.4 456.4 1780.1 456.6 1781.8 456.8 1783.5 457 1785.1 457.1 1786.8 457.3 1788.5 457.5 1790.2 457.6 1791.9 457.8 1793.5 457.9" stroke="#ff2a2a" stroke-width="4.6"/>
<path d="M1121 414.4 1122.7 414 1124.4 413.6 1126.1 413.2 1127.8 412.8 1129.5 412.3 1131.1 411.9 1132.8 411.4 1134.5 410.9 1136.2 410.5 1137.9 410 1139.5 409.5 1141.2 409 1142.9 408.5 1144.6 407.9 1146.3 407.4 1148 406.9 1149.6 406.3 1151.3 405.8 1153 405.2 1154.7 404.6 1156.4 404.1 1158 403.5 1159.7 402.9 1161.4 402.3 1163.1 401.7 1164.8 401.1 1166.4 400.4 1168.1 399.8 1169.8 399.1 1171.5 398.4 1173.2 397.7 1174.8 397 1176.5 396.3 1178.2 395.6 1179.9 394.8 1181.6 394.1 1183.3 393.3 1184.9 392.5 1186.6 391.7 1188.3 390.9 1190 390 1191.7 389.1 1193.3 388.2 1195 387.3 1196.7 386.3 1198.4 385.3 1200.1 384.3 1201.8 383.2 1203.4 382.1 1205.1 381.1 1206.8 380 1208.5 378.9 1210.2 377.7 1211.8 376.6 1213.5 375.5 1215.2 374.3 1216.9 373.2 1218.6 372 1220.2 370.9 1221.9 369.7 1223.6 368.6 1225.3 367.4 1227 366.3 1228.6 365.1 1230.3 363.9 1232 362.7 1233.7 361.5 1235.4 360.3 1237.1 359.1 1238.7 357.8 1240.4 356.6 1242.1 355.3 1243.8 354 1245.5 352.7 1247.1 351.3 1248.8 350 1250.5 348.6 1252.2 347.1 1253.9 345.7 1255.5 344.1 1257.2 342.6 1258.9 341 1260.6 339.4 1262.3 337.7 1264 336.1 1265.6 334.4 1267.3 332.7 1269 331 1270.7 329.3 1272.4 327.6 1274 326 1275.7 324.3 1277.4 322.7 1279.1 321 1280.8 319.4 1282.5 317.8 1284.1 316.1 1285.8 314.5 1287.5 312.8 1289.2 311.2 1290.9 309.5 1292.5 307.8 1294.2 306.1 1295.9 304.5 1297.6 302.8 1299.3 301 1300.9 299.3 1302.6 297.6 1304.3 295.8 1306 294 1307.7 292.2 1309.3 290.3 1311 288.5 1312.7 286.6 1314.4 284.8 1316.1 283 1317.8 281.2 1319.4 279.4 1321.1 277.7 1322.8 276 1324.5 274.3 1326.2 272.6 1327.8 271 1329.5 269.3 1331.2 267.6 1332.9 266 1334.6 264.3 1336.2 262.7 1337.9 261.1 1339.6 259.5 1341.3 258 1343 256.5 1344.7 255.1 1346.3 253.7 1348 252.4 1349.7 251.1 1351.4 249.9 1353.1 248.7 1354.7 247.5 1356.4 246.3 1358.1 245.1 1359.8 244 1361.5 242.8 1363.1 241.7 1364.8 240.6 1366.5 239.5 1368.2 238.5 1369.9 237.5 1371.6 236.5 1373.2 235.6 1374.9 234.8 1376.6 234 1378.3 233.3 1380 232.6 1381.6 232.1 1383.3 231.6 1385 231.1 1386.7 230.7 1388.4 230.2 1390 229.8 1391.7 229.4 1393.4 229.1 1395.1 228.7 1396.8 228.4 1398.5 228 1400.1 227.8 1401.8 227.5 1403.5 227.2 1405.2 227 1406.9 226.8 1408.5 226.7 1410.2 226.6 1411.9 226.5 1413.6 226.4 1415.3 226.3 1417 226.2 1418.6 226.1 1420.3 226 1422 226 1423.7 225.9 1425.4 225.9 1427 225.8 1428.7 225.8 1430.4 225.8 1432.1 225.8 1433.8 225.8 1435.4 225.8 1437.1 225.8 1438.8 225.8 1440.5 225.8 1442.2 225.8 1443.8 225.8 1445.5 225.8 1447.2 225.8 1448.9 225.8 1450.6 225.8 1452.3 225.8 1453.9 225.8 1455.6 225.8 1457.3 225.8 1459 225.8 1460.7 225.8 1462.3 225.8 1464 225.8 1465.7 225.8 1467.4 225.8 1469.1 225.8 1470.8 225.8 1472.4 225.8 1474.1 225.8 1475.8 225.8 1477.5 225.8 1479.2 225.8 1480.8 225.8 1482.5 225.8 1484.2 225.8 1485.9 225.8 1487.6 225.8 1489.2 225.9 1490.9 225.9 1492.6 226 1494.3 226 1496 226.1 1497.6 226.2 1499.3 226.3 1501 226.4 1502.7 226.5 1504.4 226.6 1506.1 226.7 1507.7 226.8 1509.4 227 1511.1 227.2 1512.8 227.5 1514.5 227.8 1516.1 228 1517.8 228.4 1519.5 228.7 1521.2 229.1 1522.9 229.4 1524.5 229.8 1526.2 230.2 1527.9 230.7 1529.6 231.1 1531.3 231.6 1533 232.1 1534.6 232.6 1536.3 233.3 1538 234 1539.7 234.8 1541.4 235.6 1543 236.5 1544.7 237.5 1546.4 238.5 1548.1 239.5 1549.8 240.6 1551.5 241.7 1553.1 242.8 1554.8 244 1556.5 245.1 1558.2 246.3 1559.9 247.5 1561.5 248.7 1563.2 249.9 1564.9 251.1 1566.6 252.4 1568.3 253.7 1569.9 255.1 1571.6 256.5 1573.3 258 1575 259.5 1576.7 261.1 1578.3 262.7 1580 264.3 1581.7 266 1583.4 267.6 1585.1 269.3 1586.8 271 1588.4 272.6 1590.1 274.3 1591.8 276 1593.5 277.7 1595.2 279.4 1596.8 281.2 1598.5 283 1600.2 284.8 1601.9 286.6 1603.6 288.5 1605.2 290.3 1606.9 292.2 1608.6 294 1610.3 295.8 1612 297.6 1613.7 299.3 1615.3 301 1617 302.8 1618.7 304.5 1620.4 306.1 1622.1 307.8 1623.7 309.5 1625.4 311.2 1627.1 312.8 1628.8 314.5 1630.5 316.1 1632.1 317.8 1633.8 319.4 1635.5 321 1637.2 322.7 1638.9 324.3 1640.6 326 1642.2 327.6 1643.9 329.3 1645.6 331 1647.3 332.7 1649 334.4 1650.6 336.1 1652.3 337.7 1654 339.4 1655.7 341 1657.4 342.6 1659 344.1 1660.7 345.7 1662.4 347.1 1664.1 348.6 1665.8 350 1667.5 351.3 1669.1 352.7 1670.8 354 1672.5 355.3 1674.2 356.6 1675.9 357.8 1677.5 359.1 1679.2 360.3 1680.9 361.5 1682.6 362.7 1684.3 363.9 1686 365.1 1687.6 366.3 1689.3 367.4 1691 368.6 1692.7 369.7 1694.4 370.9 1696 372 1697.7 373.2 1699.4 374.3 1701.1 375.5 1702.8 376.6 1704.4 377.7 1706.1 378.9 1707.8 380 1709.5 381.1 1711.2 382.1 1712.8 383.2 1714.5 384.3 1716.2 385.3 1717.9 386.3 1719.6 387.3 1721.3 388.2 1722.9 389.1 1724.6 390 1726.3 390.9 1728 391.7 1729.7 392.5 1731.3 393.3 1733 394.1 1734.7 394.8 1736.4 395.6 1738.1 396.3 1739.8 397 1741.4 397.7 1743.1 398.4 1744.8 399.1 1746.5 399.8 1748.2 400.4 1749.8 401.1 1751.5 401.7 1753.2 402.3 1754.9 402.9 1756.6 403.5 1758.2 404.1 1759.9 404.6 1761.6 405.2 1763.3 405.8 1765 406.3 1766.6 406.9 1768.3 407.4 1770 407.9 1771.7 408.5 1773.4 409 1775.1 409.5 1776.7 410 1778.4 410.5 1780.1 410.9 1781.8 411.4 1783.5 411.9 1785.1 412.3 1786.8 412.8 1788.5 413.2 1790.2 413.6 1791.9 414 1793.5 414.4" stroke="#0000ff" stroke-width="3.4" stroke-dasharray="5.4 9.1" stroke-linecap="round"/>
<path d="M1121 270.2 1122.7 270.3 1124.4 270.5 1126.1 270.7 1127.8 270.9 1129.5 271.1 1131.1 271.2 1132.8 271.4 1134.5 271.6 1136.2 271.8 1137.9 272.1 1139.5 272.3 1141.2 272.5 1142.9 272.7 1144.6 273 1146.3 273.2 1148 273.4 1149.6 273.7 1151.3 273.9 1153 274.2 1154.7 274.4 1156.4 274.7 1158 274.9 1159.7 275.2 1161.4 275.5 1163.1 275.7 1164.8 276 1166.4 276.3 1168.1 276.6 1169.8 276.9 1171.5 277.1 1173.2 277.4 1174.8 277.7 1176.5 278 1178.2 278.3 1179.9 278.6 1181.6 279 1183.3 279.3 1184.9 279.7 1186.6 280 1188.3 280.4 1190 280.7 1191.7 281.1 1193.3 281.5 1195 281.9 1196.7 282.3 1198.4 282.7 1200.1 283.1 1201.8 283.5 1203.4 283.9 1205.1 284.3 1206.8 284.8 1208.5 285.2 1210.2 285.6 1211.8 286 1213.5 286.4 1215.2 286.8 1216.9 287.2 1218.6 287.6 1220.2 288 1221.9 288.4 1223.6 288.7 1225.3 289.1 1227 289.5 1228.6 289.8 1230.3 290.2 1232 290.6 1233.7 290.9 1235.4 291.3 1237.1 291.7 1238.7 292 1240.4 292.4 1242.1 292.8 1243.8 293.1 1245.5 293.5 1247.1 293.9 1248.8 294.2 1250.5 294.6 1252.2 294.9 1253.9 295.3 1255.5 295.6 1257.2 296 1258.9 296.3 1260.6 296.6 1262.3 297 1264 297.3 1265.6 297.6 1267.3 298 1269 298.3 1270.7 298.6 1272.4 298.9 1274 299.2 1275.7 299.5 1277.4 299.8 1279.1 300.1 1280.8 300.4 1282.5 300.7 1284.1 301 1285.8 301.3 1287.5 301.5 1289.2 301.8 1290.9 302.1 1292.5 302.3 1294.2 302.5 1295.9 302.7 1297.6 302.9 1299.3 303 1300.9 303.1 1302.6 303.2 1304.3 303.3 1306 303.4 1307.7 303.5 1309.3 303.5 1311 303.5 1312.7 303.5 1314.4 303.5 1316.1 303.4 1317.8 303.3 1319.4 303.1 1321.1 303 1322.8 302.8 1324.5 302.6 1326.2 302.3 1327.8 301.9 1329.5 301.5 1331.2 301 1332.9 300.5 1334.6 299.9 1336.2 299.3 1337.9 298.6 1339.6 297.8 1341.3 296.9 1343 295.9 1344.7 294.6 1346.3 293 1348 291.2 1349.7 289.2 1351.4 287.1 1353.1 284.8 1354.7 282.4 1356.4 279.7 1358.1 277 1359.8 274.1 1361.5 271.1 1363.1 268 1364.8 264.6 1366.5 261 1368.2 257.2 1369.9 253.2 1371.6 249.2 1373.2 245.2 1374.9 241.7 1376.6 238.3 1378.3 234.8 1380 231 1381.6 226.9 1383.3 222.3 1385 217.3 1386.7 211.3 1388.4 205.5 1390 199.4 1391.7 192.8 1393.4 185.3 1395.1 177.3 1396.8 168.9 1398.5 160.4 1400.1 152 1401.8 143.8 1403.5 135.4 1405.2 126.8 1406.9 118.4 1408.5 110.1 1410.2 102.1 1411.9 94.4 1413.6 86.7 1415.3 79.2 1417 72 1418.6 65.3 1420.3 59.2 1422 53.7 1423.7 48.3 1425.4 43.2 1427 38.5 1428.7 34.4 1430.4 31.1 1432.1 28.4 1433.8 25.9 1435.4 23.7 1437.1 21.8 1438.8 20.3 1440.5 19.1 1442.2 18.4 1443.8 17.7 1445.5 17.1 1447.2 16.7 1448.9 16.4 1450.6 16.2 1452.3 16.1 1453.9 16 1455.6 15.9 1457.3 15.9 1459 15.9 1460.7 16 1462.3 16.1 1464 16.2 1465.7 16.4 1467.4 16.7 1469.1 17.1 1470.8 17.7 1472.4 18.4 1474.1 19.1 1475.8 20.3 1477.5 21.8 1479.2 23.7 1480.8 25.9 1482.5 28.4 1484.2 31.1 1485.9 34.4 1487.6 38.5 1489.2 43.2 1490.9 48.3 1492.6 53.7 1494.3 59.2 1496 65.3 1497.6 72 1499.3 79.2 1501 86.7 1502.7 94.4 1504.4 102.1 1506.1 110.1 1507.7 118.4 1509.4 126.8 1511.1 135.4 1512.8 143.8 1514.5 152 1516.1 160.4 1517.8 168.9 1519.5 177.3 1521.2 185.3 1522.9 192.8 1524.5 199.4 1526.2 205.5 1527.9 211.3 1529.6 217.3 1531.3 222.3 1533 226.9 1534.6 231 1536.3 234.8 1538 238.3 1539.7 241.7 1541.4 245.2 1543 249.2 1544.7 253.2 1546.4 257.2 1548.1 261 1549.8 264.6 1551.5 268 1553.1 271.1 1554.8 274.1 1556.5 277 1558.2 279.7 1559.9 282.4 1561.5 284.8 1563.2 287.1 1564.9 289.2 1566.6 291.2 1568.3 293 1569.9 294.6 1571.6 295.9 1573.3 296.9 1575 297.8 1576.7 298.6 1578.3 299.3 1580 299.9 1581.7 300.5 1583.4 301 1585.1 301.5 1586.8 301.9 1588.4 302.3 1590.1 302.6 1591.8 302.8 1593.5 303 1595.2 303.1 1596.8 303.3 1598.5 303.4 1600.2 303.5 1601.9 303.5 1603.6 303.5 1605.2 303.5 1606.9 303.5 1608.6 303.4 1610.3 303.3 1612 303.2 1613.7 303.1 1615.3 303 1617 302.9 1618.7 302.7 1620.4 302.5 1622.1 302.3 1623.7 302.1 1625.4 301.8 1627.1 301.5 1628.8 301.3 1630.5 301 1632.1 300.7 1633.8 300.4 1635.5 300.1 1637.2 299.8 1638.9 299.5 1640.6 299.2 1642.2 298.9 1643.9 298.6 1645.6 298.3 1647.3 298 1649 297.6 1650.6 297.3 1652.3 297 1654 296.6 1655.7 296.3 1657.4 296 1659 295.6 1660.7 295.3 1662.4 294.9 1664.1 294.6 1665.8 294.2 1667.5 293.9 1669.1 293.5 1670.8 293.1 1672.5 292.8 1674.2 292.4 1675.9 292 1677.5 291.7 1679.2 291.3 1680.9 290.9 1682.6 290.6 1684.3 290.2 1686 289.8 1687.6 289.5 1689.3 289.1 1691 288.7 1692.7 288.4 1694.4 288 1696 287.6 1697.7 287.2 1699.4 286.8 1701.1 286.4 1702.8 286 1704.4 285.6 1706.1 285.2 1707.8 284.8 1709.5 284.3 1711.2 283.9 1712.8 283.5 1714.5 283.1 1716.2 282.7 1717.9 282.3 1719.6 281.9 1721.3 281.5 1722.9 281.1 1724.6 280.7 1726.3 280.4 1728 280 1729.7 279.7 1731.3 279.3 1733 279 1734.7 278.6 1736.4 278.3 1738.1 278 1739.8 277.7 1741.4 277.4 1743.1 277.1 1744.8 276.9 1746.5 276.6 1748.2 276.3 1749.8 276 1751.5 275.7 1753.2 275.5 1754.9 275.2 1756.6 274.9 1758.2 274.7 1759.9 274.4 1761.6 274.2 1763.3 273.9 1765 273.7 1766.6 273.4 1768.3 273.2 1770 273 1771.7 272.7 1773.4 272.5 1775.1 272.3 1776.7 272.1 1778.4 271.8 1780.1 271.6 1781.8 271.4 1783.5 271.2 1785.1 271.1 1786.8 270.9 1788.5 270.7 1790.2 270.5 1791.9 270.3 1793.5 270.2" stroke="#000" stroke-width="3.6" stroke-dasharray="0.2 6.6" stroke-linecap="round"/>
</g>
<rect x="1121.6" y="4.8" width="670.8" height="487" fill="none" stroke="#000" stroke-width="4.1"/>
<g stroke="#000" stroke-width="3.5" fill="none" stroke-linecap="round">
<path d="M1188.3 4.8V14"/>
<path d="M1188.3 491.8V482.5"/>
<path d="M1255.5 4.8V9.5"/>
<path d="M1255.5 491.8V487"/>
<path d="M1322.8 4.8V14"/>
<path d="M1322.8 491.8V482.5"/>
<path d="M1390 4.8V9.5"/>
<path d="M1390 491.8V487"/>
<path d="M1457.3 4.8V14"/>
<path d="M1457.3 491.8V482.5"/>
<path d="M1524.5 4.8V9.5"/>
<path d="M1524.5 491.8V487"/>
<path d="M1591.8 4.8V14"/>
<path d="M1591.8 491.8V482.5"/>
<path d="M1659 4.8V9.5"/>
<path d="M1659 491.8V487"/>
<path d="M1726.3 4.8V14"/>
<path d="M1726.3 491.8V482.5"/>
<path d="M1121.6 447.7H1127"/>
<path d="M1792.4 447.7H1787.5"/>
<path d="M1121.6 403.3H1131.5"/>
<path d="M1792.4 403.3H1782.8"/>
<path d="M1121.6 358.9H1127"/>
<path d="M1792.4 358.9H1787.5"/>
<path d="M1121.6 314.6H1131.5"/>
<path d="M1792.4 314.6H1782.8"/>
<path d="M1121.6 270.2H1127"/>
<path d="M1792.4 270.2H1787.5"/>
<path d="M1121.6 225.8H1131.5"/>
<path d="M1792.4 225.8H1782.8"/>
<path d="M1121.6 181.4H1127"/>
<path d="M1792.4 181.4H1787.5"/>
<path d="M1121.6 137.1H1131.5"/>
<path d="M1792.4 137.1H1782.8"/>
<path d="M1121.6 92.7H1127"/>
<path d="M1792.4 92.7H1787.5"/>
<path d="M1121.6 48.3H1131.5"/>
<path d="M1792.4 48.3H1782.8"/>
</g>
<g font-family="'Liberation Sans',Arial,Helvetica,sans-serif" font-weight="bold" fill="#000">
<g font-size="40" text-anchor="end">
<text x="1110" y="59.4">2</text>
<text x="1110" y="148.2">1</text>
<text x="1110" y="236.9">0</text>
<text x="1110" y="325.7">-1</text>
<text x="1110" y="414.4">-2</text>
<text x="1110" y="503.2">-3</text>
</g><g font-size="40" text-anchor="middle">
<text transform="translate(1188 533) scale(.97 1)">-400</text>
<text transform="translate(1322.5 533) scale(.97 1)">-200</text>
<text transform="translate(1457 533) scale(.97 1)">0</text>
<text transform="translate(1591.5 533) scale(.97 1)">200</text>
<text transform="translate(1726 533) scale(.97 1)">400</text>
</g>
<text transform="translate(1383.8 579.6) scale(.9 1)" font-size="39">E</text>
<text x="1409" y="594.6" font-size="24">F</text>
<text x="1434" y="579.6" font-size="39" textLength="106.5" lengthAdjust="spacingAndGlyphs">(meV)</text>
</g>
<g transform="translate(1048.8 338) rotate(-90)" font-family="'Liberation Sans',Arial,Helvetica,sans-serif" fill="#000">
<text x="0" y="0" font-size="35">Δσ</text>
<text x="52" y="0" font-size="38" font-weight="bold">(G</text>
<text x="96" y="12.5" font-size="23" font-weight="bold">0</text>
<text x="110" y="0" font-size="38" font-weight="bold">)</text>
</g>
<g fill="none">
<path d="M1573.4 33.8H1643" stroke="#000" stroke-width="3.6" stroke-dasharray="0.2 6.9" stroke-linecap="round"/>
<path d="M1573.4 83.4H1640" stroke="#0000ff" stroke-width="3.4" stroke-dasharray="5 9.5" stroke-linecap="round"/>
<path d="M1574 132.2H1643" stroke="#ff2a2a" stroke-width="5" stroke-linecap="round"/>
</g>
<text x="1651.5" y="45" font-family="'Liberation Serif','Times New Roman',serif" font-size="28" fill="#000" stroke="#000" stroke-width=".35">Δσ</text>
<text x="1688" y="56.5" font-family="'Liberation Sans',Arial,Helvetica,sans-serif" font-weight="bold" font-size="17" fill="#000">intra</text>
<text x="1651.5" y="93.9" font-family="'Liberation Serif','Times New Roman',serif" font-size="28" fill="#000" stroke="#000" stroke-width=".35">Δσ</text>
<text x="1688" y="105.4" font-family="'Liberation Sans',Arial,Helvetica,sans-serif" font-weight="bold" font-size="17" fill="#000">el</text>
<text x="1651.5" y="143.2" font-family="'Liberation Serif','Times New Roman',serif" font-size="28" fill="#000" stroke="#000" stroke-width=".35">Δσ</text>
<text x="1688" y="154.7" font-family="'Liberation Sans',Arial,Helvetica,sans-serif" font-weight="bold" font-size="17" fill="#000">tot</text>
</g>
<g id="pc">
<text x="1386.3" y="641.5" font-family="'Liberation Serif','Times New Roman',serif" font-size="36" fill="#000" stroke="#000" stroke-width=".3">Δσ</text>
<g font-family="'Liberation Sans',Arial,Helvetica,sans-serif" font-weight="bold" fill="#000">
<text x="1431" y="655.9" font-size="20.5" textLength="29" lengthAdjust="spacingAndGlyphs">tot</text>
<text x="1460.8" y="641.7" font-size="35" textLength="40" lengthAdjust="spacingAndGlyphs">(G</text>
<text x="1503.3" y="655.9" font-size="17.5" textLength="12.5" lengthAdjust="spacingAndGlyphs">0</text>
<text x="1516.8" y="641.7" font-size="35" textLength="11" lengthAdjust="spacingAndGlyphs">)</text>
</g>
<defs><linearGradient id="jet" gradientUnits="userSpaceOnUse" x1="1100.7" y1="0" x2="1813.4" y2="0">
<stop offset="0" stop-color="#0000a3"/>
<stop offset="0.125" stop-color="#0000ff"/>
<stop offset="0.25" stop-color="#0080ff"/>
<stop offset="0.375" stop-color="#00ffff"/>
<stop offset="0.5" stop-color="#80ff80"/>
<stop offset="0.625" stop-color="#ffff00"/>
<stop offset="0.75" stop-color="#ff8000"/>
<stop offset="0.875" stop-color="#ff0000"/>
<stop offset="1" stop-color="#8f0000"/>
</linearGradient></defs>
<rect x="1099.3" y="705.7" width="715.3" height="26.9" rx="2.5" fill="url(#jet)" stroke="#000" stroke-width="3.2"/>
<g stroke="#000" stroke-width="2.4">
<path d="M1190.6 707V712.3M1190.6 731.2V725.8"/>
<path d="M1322.8 707V712.3M1322.8 731.2V725.8"/>
<path d="M1455 707V712.3M1455 731.2V725.8"/>
<path d="M1587.2 707V712.3M1587.2 731.2V725.8"/>
<path d="M1719.4 707V712.3M1719.4 731.2V725.8"/>
</g>
<g font-family="'Liberation Sans',Arial,Helvetica,sans-serif" font-weight="bold" font-size="37.5" fill="#000" text-anchor="middle">
<text x="1185.1" y="700">-2</text>
<text x="1317.3" y="700">-1</text>
<text x="1455.3" y="700">0</text>
<text x="1587.5" y="700">1</text>
<text x="1719.7" y="700">2</text>
</g>
<defs>
<linearGradient id="h0" gradientUnits="userSpaceOnUse" x1="1456.4" x2="1818" spreadMethod="reflect">
<stop offset="0" stop-color="#800000"/>
<stop offset=".0166" stop-color="#800000"/>
<stop offset=".0249" stop-color="#8a0000"/>
<stop offset=".0415" stop-color="#b40000"/>
<stop offset=".0636" stop-color="#fe0000"/>
<stop offset=".083" stop-color="#ff3900"/>
<stop offset=".1189" stop-color="#ff9500"/>
<stop offset=".1493" stop-color="#fffc00"/>
<stop offset=".1521" stop-color="#f8ff07"/>
<stop offset=".2074" stop-color="#4fb"/>
<stop offset=".2212" stop-color="#0dfff2"/>
<stop offset=".2268" stop-color="#00feff"/>
<stop offset=".2378" stop-color="#00f0ff"/>
<stop offset=".2931" stop-color="#00b9ff"/>
<stop offset=".365" stop-color="#006aff"/>
<stop offset=".4259" stop-color="#002aff"/>
<stop offset=".4535" stop-color="#0010ff"/>
<stop offset=".4757" stop-color="#00f"/>
<stop offset=".5144" stop-color="#0000ea"/>
<stop offset=".6858" stop-color="#0000a3"/>
<stop offset=".7218" stop-color="#009"/>
<stop offset=".7633" stop-color="#000093"/>
<stop offset=".8324" stop-color="#000090"/>
<stop offset=".9983" stop-color="#000096"/>
</linearGradient>
<linearGradient id="h1" gradientUnits="userSpaceOnUse" x1="1456.4" x2="1818" spreadMethod="reflect">
<stop offset="0" stop-color="#800000"/>
<stop offset=".0166" stop-color="#800000"/>
<stop offset=".0249" stop-color="#8a0000"/>
<stop offset=".0415" stop-color="#b40000"/>
<stop offset=".0636" stop-color="#fe0000"/>
<stop offset=".083" stop-color="#ff3900"/>
<stop offset=".1189" stop-color="#ff9500"/>
<stop offset=".1493" stop-color="#fffc00"/>
<stop offset=".1521" stop-color="#f8ff07"/>
<stop offset=".2074" stop-color="#4fb"/>
<stop offset=".2212" stop-color="#0dfff2"/>
<stop offset=".2268" stop-color="#00feff"/>
<stop offset=".2378" stop-color="#00f0ff"/>
<stop offset=".2931" stop-color="#00baff"/>
<stop offset=".365" stop-color="#006aff"/>
<stop offset=".4259" stop-color="#002bff"/>
<stop offset=".4535" stop-color="#0010ff"/>
<stop offset=".4757" stop-color="#00f"/>
<stop offset=".5144" stop-color="#0000eb"/>
<stop offset=".6858" stop-color="#0000a3"/>
<stop offset=".7218" stop-color="#009"/>
<stop offset=".7633" stop-color="#000093"/>
<stop offset=".8324" stop-color="#000090"/>
<stop offset=".9983" stop-color="#000096"/>
</linearGradient>
<linearGradient id="h2" gradientUnits="userSpaceOnUse" x1="1456.4" x2="1818" spreadMethod="reflect">
<stop offset="0" stop-color="#800000"/>
<stop offset=".0138" stop-color="#810000"/>
<stop offset=".0249" stop-color="#8f0000"/>
<stop offset=".0415" stop-color="#b80000"/>
<stop offset=".0608" stop-color="#f90000"/>
<stop offset=".0636" stop-color="#ff0300"/>
<stop offset=".0802" stop-color="#ff3500"/>
<stop offset=".1189" stop-color="#ff9700"/>
<stop offset=".1493" stop-color="#fffd00"/>
<stop offset=".1521" stop-color="#f7ff08"/>
<stop offset=".2074" stop-color="#4fb"/>
<stop offset=".2212" stop-color="#0efff1"/>
<stop offset=".2268" stop-color="#0ff"/>
<stop offset=".2378" stop-color="#00f1ff"/>
<stop offset=".2931" stop-color="#00baff"/>
<stop offset=".4259" stop-color="#002cff"/>
<stop offset=".4563" stop-color="#0010ff"/>
<stop offset=".4784" stop-color="#00f"/>
<stop offset=".5144" stop-color="#0000ec"/>
<stop offset=".6858" stop-color="#0000a4"/>
<stop offset=".7246" stop-color="#009"/>
<stop offset=".8352" stop-color="#000091"/>
<stop offset=".9983" stop-color="#000097"/>
</linearGradient>
<linearGradient id="h3" gradientUnits="userSpaceOnUse" x1="1456.4" x2="1818" spreadMethod="reflect">
<stop offset="0" stop-color="#800000"/>
<stop offset=".0138" stop-color="#860000"/>
<stop offset=".0277" stop-color="#900"/>
<stop offset=".0415" stop-color="#bd0000"/>
<stop offset=".0608" stop-color="#fd0000"/>
<stop offset=".083" stop-color="#ff3f00"/>
<stop offset=".1189" stop-color="#ff9a00"/>
<stop offset=".1493" stop-color="#ff0"/>
<stop offset=".1521" stop-color="#f6ff09"/>
<stop offset=".2074" stop-color="#4fb"/>
<stop offset=".2212" stop-color="#0efff1"/>
<stop offset=".2268" stop-color="#0ff"/>
<stop offset=".4287" stop-color="#002bff"/>
<stop offset=".4563" stop-color="#0012ff"/>
<stop offset=".4812" stop-color="#00f"/>
<stop offset=".6858" stop-color="#0000a5"/>
<stop offset=".7246" stop-color="#00009b"/>
<stop offset=".8352" stop-color="#000092"/>
<stop offset=".9983" stop-color="#000098"/>
</linearGradient>
<linearGradient id="h4" gradientUnits="userSpaceOnUse" x1="1456.4" x2="1818" spreadMethod="reflect">
<stop offset="0" stop-color="#830000"/>
<stop offset=".0138" stop-color="#8b0000"/>
<stop offset=".0277" stop-color="#9e0000"/>
<stop offset=".0415" stop-color="#c10000"/>
<stop offset=".0608" stop-color="#ff0200"/>
<stop offset=".0802" stop-color="#ff3b00"/>
<stop offset=".1189" stop-color="#ff9c00"/>
<stop offset=".1493" stop-color="#feff01"/>
<stop offset=".2074" stop-color="#4fb"/>
<stop offset=".2212" stop-color="#0efff1"/>
<stop offset=".2268" stop-color="#01fffe"/>
<stop offset=".2295" stop-color="#00fcff"/>
<stop offset=".2987" stop-color="#00b7ff"/>
<stop offset=".365" stop-color="#006eff"/>
<stop offset=".4314" stop-color="#002aff"/>
<stop offset=".4591" stop-color="#01f"/>
<stop offset=".484" stop-color="#00f"/>
<stop offset=".6858" stop-color="#0000a6"/>
<stop offset=".7246" stop-color="#00009c"/>
<stop offset=".8352" stop-color="#000093"/>
<stop offset=".9983" stop-color="#000098"/>
</linearGradient>
<linearGradient id="h5" gradientUnits="userSpaceOnUse" x1="1456.4" x2="1818" spreadMethod="reflect">
<stop offset="0" stop-color="#800"/>
<stop offset=".0138" stop-color="#900000"/>
<stop offset=".0277" stop-color="#a30000"/>
<stop offset=".0415" stop-color="#c50000"/>
<stop offset=".0581" stop-color="#fc0000"/>
<stop offset=".0608" stop-color="#ff0600"/>
<stop offset=".083" stop-color="#ff4600"/>
<stop offset=".1189" stop-color="#ff9e00"/>
<stop offset=".1466" stop-color="#fff800"/>
<stop offset=".1493" stop-color="#fcff03"/>
<stop offset=".2074" stop-color="#4fb"/>
<stop offset=".2212" stop-color="#0ffff0"/>
<stop offset=".2268" stop-color="#01fffe"/>
<stop offset=".2295" stop-color="#00fcff"/>
<stop offset=".2987" stop-color="#00b8ff"/>
<stop offset=".4314" stop-color="#002cff"/>
<stop offset=".4618" stop-color="#01f"/>
<stop offset=".4867" stop-color="#00f"/>
<stop offset=".6858" stop-color="#0000a8"/>
<stop offset=".7273" stop-color="#00009c"/>
<stop offset=".8379" stop-color="#000094"/>
<stop offset=".9983" stop-color="#009"/>
</linearGradient>
<linearGradient id="h6" gradientUnits="userSpaceOnUse" x1="1456.4" x2="1818" spreadMethod="reflect">
<stop offset="0" stop-color="#8d0000"/>
<stop offset=".0111" stop-color="#920000"/>
<stop offset=".0249" stop-color="#a20000"/>
<stop offset=".0415" stop-color="#ca0000"/>
<stop offset=".0581" stop-color="#ff0100"/>
<stop offset=".0802" stop-color="#ff4200"/>
<stop offset=".1189" stop-color="#ffa100"/>
<stop offset=".1466" stop-color="#fffa00"/>
<stop offset=".1493" stop-color="#fbff04"/>
<stop offset=".2074" stop-color="#4fb"/>
<stop offset=".2212" stop-color="#0ffff0"/>
<stop offset=".2268" stop-color="#02fffd"/>
<stop offset=".2295" stop-color="#00fdff"/>
<stop offset=".2987" stop-color="#00b8ff"/>
<stop offset=".4342" stop-color="#002bff"/>
<stop offset=".4618" stop-color="#0012ff"/>
<stop offset=".4895" stop-color="#00f"/>
<stop offset=".6886" stop-color="#0000a8"/>
<stop offset=".7273" stop-color="#00009d"/>
<stop offset=".8379" stop-color="#000094"/>
<stop offset=".9983" stop-color="#009"/>
</linearGradient>
<linearGradient id="h7" gradientUnits="userSpaceOnUse" x1="1456.4" x2="1818" spreadMethod="reflect">
<stop offset="0" stop-color="#920000"/>
<stop offset=".0111" stop-color="#970000"/>
<stop offset=".0249" stop-color="#a70000"/>
<stop offset=".0415" stop-color="#ce0000"/>
<stop offset=".0553" stop-color="#fb0000"/>
<stop offset=".0581" stop-color="#ff0500"/>
<stop offset=".0802" stop-color="#ff4500"/>
<stop offset=".1189" stop-color="#ffa300"/>
<stop offset=".1466" stop-color="#fffc00"/>
<stop offset=".1493" stop-color="#f9ff06"/>
<stop offset=".2074" stop-color="#4fb"/>
<stop offset=".2212" stop-color="#10ffef"/>
<stop offset=".224" stop-color="#08fff7"/>
<stop offset=".2295" stop-color="#00feff"/>
<stop offset=".2987" stop-color="#00b9ff"/>
<stop offset=".4342" stop-color="#002cff"/>
<stop offset=".4646" stop-color="#0012ff"/>
<stop offset=".4923" stop-color="#0001ff"/>
<stop offset=".6886" stop-color="#0000a9"/>
<stop offset=".7301" stop-color="#00009e"/>
<stop offset=".8407" stop-color="#000095"/>
<stop offset=".9983" stop-color="#00009a"/>
</linearGradient>
<linearGradient id="h8" gradientUnits="userSpaceOnUse" x1="1456.4" x2="1818" spreadMethod="reflect">
<stop offset="0" stop-color="#970000"/>
<stop offset=".0111" stop-color="#9c0000"/>
<stop offset=".0249" stop-color="#ab0000"/>
<stop offset=".0415" stop-color="#d20000"/>
<stop offset=".0553" stop-color="#f00"/>
<stop offset=".0802" stop-color="#ff4800"/>
<stop offset=".1189" stop-color="#ffa600"/>
<stop offset=".1466" stop-color="#fffd00"/>
<stop offset=".1493" stop-color="#f8ff07"/>
<stop offset=".2074" stop-color="#4fb"/>
<stop offset=".2212" stop-color="#10ffef"/>
<stop offset=".224" stop-color="#08fff7"/>
<stop offset=".2295" stop-color="#00feff"/>
<stop offset=".4369" stop-color="#002cff"/>
<stop offset=".4674" stop-color="#0012ff"/>
<stop offset=".4978" stop-color="#00f"/>
<stop offset=".6886" stop-color="#00a"/>
<stop offset=".7301" stop-color="#00009f"/>
<stop offset=".8407" stop-color="#000096"/>
<stop offset=".9983" stop-color="#00009b"/>
</linearGradient>
<linearGradient id="h9" gradientUnits="userSpaceOnUse" x1="1456.4" x2="1818" spreadMethod="reflect">
<stop offset="0" stop-color="#9c0000"/>
<stop offset=".0111" stop-color="#a10000"/>
<stop offset=".0249" stop-color="#b00000"/>
<stop offset=".0415" stop-color="#d70000"/>
<stop offset=".0525" stop-color="#f90000"/>
<stop offset=".0553" stop-color="#ff0300"/>
<stop offset=".0802" stop-color="#ff4b00"/>
<stop offset=".1189" stop-color="#ffa800"/>
<stop offset=".1466" stop-color="#ff0"/>
<stop offset=".1493" stop-color="#f6ff09"/>
<stop offset=".2074" stop-color="#4fb"/>
<stop offset=".2212" stop-color="#1fe"/>
<stop offset=".2295" stop-color="#0ff"/>
<stop offset=".4369" stop-color="#002dff"/>
<stop offset=".4674" stop-color="#0014ff"/>
<stop offset=".5006" stop-color="#00f"/>
<stop offset=".6886" stop-color="#0000ac"/>
<stop offset=".7301" stop-color="#0000a0"/>
<stop offset=".8407" stop-color="#000097"/>
<stop offset=".9983" stop-color="#00009b"/>
</linearGradient>
<linearGradient id="h10" gradientUnits="userSpaceOnUse" x1="1456.4" x2="1818" spreadMethod="reflect">
<stop offset="0" stop-color="#a10000"/>
<stop offset=".0111" stop-color="#a60000"/>
<stop offset=".0249" stop-color="#b50000"/>
<stop offset=".0415" stop-color="#db0000"/>
<stop offset=".0525" stop-color="#fd0000"/>
<stop offset=".0802" stop-color="#ff4f00"/>
<stop offset=".1189" stop-color="#fa0"/>
<stop offset=".1466" stop-color="#feff01"/>
<stop offset=".2074" stop-color="#4fb"/>
<stop offset=".2212" stop-color="#1fe"/>
<stop offset=".2295" stop-color="#0ff"/>
<stop offset=".2987" stop-color="#00bcff"/>
<stop offset=".4397" stop-color="#002cff"/>
<stop offset=".4701" stop-color="#0013ff"/>
<stop offset=".5033" stop-color="#00f"/>
<stop offset=".6886" stop-color="#0000ad"/>
<stop offset=".7301" stop-color="#0000a1"/>
<stop offset=".8407" stop-color="#000098"/>
<stop offset=".9983" stop-color="#00009c"/>
</linearGradient>
<linearGradient id="h11" gradientUnits="userSpaceOnUse" x1="1456.4" x2="1818" spreadMethod="reflect">
<stop offset="0" stop-color="#a60000"/>
<stop offset=".0111" stop-color="#a00"/>
<stop offset=".0249" stop-color="#b90000"/>
<stop offset=".0415" stop-color="#df0000"/>
<stop offset=".0525" stop-color="#ff0200"/>
<stop offset=".0802" stop-color="#ff5200"/>
<stop offset=".1189" stop-color="#ffad00"/>
<stop offset=".1438" stop-color="#fff900"/>
<stop offset=".1466" stop-color="#fcff03"/>
<stop offset=".2074" stop-color="#4fb"/>
<stop offset=".2212" stop-color="#12ffed"/>
<stop offset=".2268" stop-color="#05fffa"/>
<stop offset=".2323" stop-color="#00fcff"/>
<stop offset=".2959" stop-color="#00c0ff"/>
<stop offset=".4397" stop-color="#002eff"/>
<stop offset=".4701" stop-color="#0015ff"/>
<stop offset=".5061" stop-color="#0001ff"/>
<stop offset=".6886" stop-color="#0000ae"/>
<stop offset=".7329" stop-color="#0000a2"/>
<stop offset=".8407" stop-color="#009"/>
<stop offset=".9983" stop-color="#00009c"/>
</linearGradient>
<linearGradient id="h12" gradientUnits="userSpaceOnUse" x1="1456.4" x2="1818" spreadMethod="reflect">
<stop offset="0" stop-color="#ab0000"/>
<stop offset=".0111" stop-color="#af0000"/>
<stop offset=".0249" stop-color="#be0000"/>
<stop offset=".0415" stop-color="#e40000"/>
<stop offset=".0498" stop-color="#fc0000"/>
<stop offset=".0802" stop-color="#f50"/>
<stop offset=".1189" stop-color="#ffaf00"/>
<stop offset=".1438" stop-color="#fffb00"/>
<stop offset=".1466" stop-color="#faff05"/>
<stop offset=".2074" stop-color="#4fb"/>
<stop offset=".2212" stop-color="#12ffed"/>
<stop offset=".2268" stop-color="#05fffa"/>
<stop offset=".2323" stop-color="#00fdff"/>
<stop offset=".2959" stop-color="#00c1ff"/>
<stop offset=".4425" stop-color="#002dff"/>
<stop offset=".4729" stop-color="#0015ff"/>
<stop offset=".5116" stop-color="#00f"/>
<stop offset=".6886" stop-color="#0000af"/>
<stop offset=".7329" stop-color="#0000a3"/>
<stop offset=".8407" stop-color="#00009a"/>
<stop offset=".9983" stop-color="#00009d"/>
</linearGradient>
<linearGradient id="h13" gradientUnits="userSpaceOnUse" x1="1456.4" x2="1818" spreadMethod="reflect">
<stop offset="0" stop-color="#af0000"/>
<stop offset=".0111" stop-color="#b40000"/>
<stop offset=".0249" stop-color="#c30000"/>
<stop offset=".0387" stop-color="#e10000"/>
<stop offset=".0498" stop-color="#ff0100"/>
<stop offset=".0774" stop-color="#ff5100"/>
<stop offset=".1162" stop-color="#ffab00"/>
<stop offset=".1438" stop-color="#fffc00"/>
<stop offset=".1466" stop-color="#f9ff06"/>
<stop offset=".2074" stop-color="#4fb"/>
<stop offset=".2212" stop-color="#12ffed"/>
<stop offset=".2268" stop-color="#06fff9"/>
<stop offset=".2323" stop-color="#00feff"/>
<stop offset=".2959" stop-color="#00c2ff"/>
<stop offset=".4425" stop-color="#002fff"/>
<stop offset=".4729" stop-color="#0017ff"/>
<stop offset=".5144" stop-color="#00f"/>
<stop offset=".6886" stop-color="#0000b1"/>
<stop offset=".7329" stop-color="#0000a4"/>
<stop offset=".8407" stop-color="#00009b"/>
<stop offset=".9983" stop-color="#00009e"/>
</linearGradient>
<linearGradient id="h14" gradientUnits="userSpaceOnUse" x1="1456.4" x2="1818" spreadMethod="reflect">
<stop offset="0" stop-color="#b40000"/>
<stop offset=".0111" stop-color="#b90000"/>
<stop offset=".0249" stop-color="#c80000"/>
<stop offset=".036" stop-color="#df0000"/>
<stop offset=".047" stop-color="#fc0000"/>
<stop offset=".0498" stop-color="#ff0600"/>
<stop offset=".0608" stop-color="#ff2700"/>
<stop offset=".0802" stop-color="#ff5b00"/>
<stop offset=".1189" stop-color="#ffb400"/>
<stop offset=".1438" stop-color="#fffe00"/>
<stop offset=".1466" stop-color="#f7ff08"/>
<stop offset=".2074" stop-color="#4fb"/>
<stop offset=".2212" stop-color="#13ffec"/>
<stop offset=".2268" stop-color="#06fff9"/>
<stop offset=".2323" stop-color="#00feff"/>
<stop offset=".2959" stop-color="#00c3ff"/>
<stop offset=".4452" stop-color="#002eff"/>
<stop offset=".4757" stop-color="#0017ff"/>
<stop offset=".5171" stop-color="#0001ff"/>
<stop offset=".6886" stop-color="#0000b2"/>
<stop offset=".7356" stop-color="#0000a5"/>
<stop offset=".8435" stop-color="#00009b"/>
<stop offset=".9983" stop-color="#00009e"/>
</linearGradient>
<linearGradient id="h15" gradientUnits="userSpaceOnUse" x1="1456.4" x2="1818" spreadMethod="reflect">
<stop offset="0" stop-color="#b90000"/>
<stop offset=".0111" stop-color="#be0000"/>
<stop offset=".0249" stop-color="#c00"/>
<stop offset=".047" stop-color="#ff0100"/>
<stop offset=".0581" stop-color="#ff2300"/>
<stop offset=".0774" stop-color="#ff5800"/>
<stop offset=".1189" stop-color="#ffb600"/>
<stop offset=".1438" stop-color="#feff01"/>
<stop offset=".2074" stop-color="#4fb"/>
<stop offset=".2212" stop-color="#13ffec"/>
<stop offset=".2268" stop-color="#07fff8"/>
<stop offset=".2323" stop-color="#0ff"/>
<stop offset=".2959" stop-color="#00c4ff"/>
<stop offset=".4452" stop-color="#0030ff"/>
<stop offset=".4784" stop-color="#0017ff"/>
<stop offset=".5227" stop-color="#00f"/>
<stop offset=".6886" stop-color="#0000b3"/>
<stop offset=".7356" stop-color="#0000a6"/>
<stop offset=".8435" stop-color="#00009c"/>
<stop offset=".9983" stop-color="#00009f"/>
</linearGradient>
<linearGradient id="h16" gradientUnits="userSpaceOnUse" x1="1456.4" x2="1818" spreadMethod="reflect">
<stop offset="0" stop-color="#be0000"/>
<stop offset=".0083" stop-color="#c10000"/>
<stop offset=".0221" stop-color="#cd0000"/>
<stop offset=".0304" stop-color="#dc0000"/>
<stop offset=".0442" stop-color="#fc0000"/>
<stop offset=".0774" stop-color="#ff5b00"/>
<stop offset=".1189" stop-color="#ffb900"/>
<stop offset=".1438" stop-color="#fdff02"/>
<stop offset=".2074" stop-color="#4fb"/>
<stop offset=".2212" stop-color="#14ffeb"/>
<stop offset=".2268" stop-color="#07fff8"/>
<stop offset=".2323" stop-color="#0ff"/>
<stop offset=".2931" stop-color="#00c7ff"/>
<stop offset=".448" stop-color="#002fff"/>
<stop offset=".4812" stop-color="#0017ff"/>
<stop offset=".5254" stop-color="#00f"/>
<stop offset=".6886" stop-color="#0000b4"/>
<stop offset=".7356" stop-color="#0000a7"/>
<stop offset=".8435" stop-color="#00009d"/>
<stop offset=".9983" stop-color="#00009f"/>
</linearGradient>
<linearGradient id="h17" gradientUnits="userSpaceOnUse" x1="1456.4" x2="1818" spreadMethod="reflect">
<stop offset="0" stop-color="#c30000"/>
<stop offset=".0083" stop-color="#c60000"/>
<stop offset=".0221" stop-color="#d20000"/>
<stop offset=".0304" stop-color="#e00000"/>
<stop offset=".0442" stop-color="#ff0200"/>
<stop offset=".0747" stop-color="#ff5700"/>
<stop offset=".1162" stop-color="#ffb400"/>
<stop offset=".141" stop-color="#fffb00"/>
<stop offset=".1438" stop-color="#fbff04"/>
<stop offset=".2074" stop-color="#4fb"/>
<stop offset=".2212" stop-color="#14ffeb"/>
<stop offset=".2268" stop-color="#08fff7"/>
<stop offset=".2351" stop-color="#00fdff"/>
<stop offset=".2931" stop-color="#00c8ff"/>
<stop offset=".448" stop-color="#0031ff"/>
<stop offset=".484" stop-color="#0017ff"/>
<stop offset=".531" stop-color="#00f"/>
<stop offset=".6886" stop-color="#0000b6"/>
<stop offset=".7356" stop-color="#0000a8"/>
<stop offset=".8435" stop-color="#00009e"/>
<stop offset=".9983" stop-color="#0000a0"/>
</linearGradient>
<linearGradient id="h18" gradientUnits="userSpaceOnUse" x1="1456.4" x2="1818" spreadMethod="reflect">
<stop offset="0" stop-color="#c80000"/>
<stop offset=".0083" stop-color="#cb0000"/>
<stop offset=".0221" stop-color="#d70000"/>
<stop offset=".0304" stop-color="#e50000"/>
<stop offset=".0415" stop-color="#fe0000"/>
<stop offset=".0774" stop-color="#ff6200"/>
<stop offset=".1162" stop-color="#ffb700"/>
<stop offset=".141" stop-color="#fffd00"/>
<stop offset=".1438" stop-color="#f9ff06"/>
<stop offset=".2074" stop-color="#4fb"/>
<stop offset=".2212" stop-color="#15ffea"/>
<stop offset=".2268" stop-color="#09fff6"/>
<stop offset=".2351" stop-color="#00feff"/>
<stop offset=".2931" stop-color="#00c9ff"/>
<stop offset=".4508" stop-color="#0030ff"/>
<stop offset=".484" stop-color="#0019ff"/>
<stop offset=".5337" stop-color="#00f"/>
<stop offset=".6886" stop-color="#0000b7"/>
<stop offset=".7384" stop-color="#0000a9"/>
<stop offset=".8462" stop-color="#00009f"/>
<stop offset=".9983" stop-color="#0000a1"/>
</linearGradient>
<linearGradient id="h19" gradientUnits="userSpaceOnUse" x1="1456.4" x2="1818" spreadMethod="reflect">
<stop offset="0" stop-color="#cd0000"/>
<stop offset=".0083" stop-color="#d00000"/>
<stop offset=".0221" stop-color="#db0000"/>
<stop offset=".0387" stop-color="#fc0000"/>
<stop offset=".0415" stop-color="#ff0300"/>
<stop offset=".0774" stop-color="#ff6500"/>
<stop offset=".1189" stop-color="#ffc000"/>
<stop offset=".141" stop-color="#fffe00"/>
<stop offset=".1438" stop-color="#f8ff07"/>
<stop offset=".2074" stop-color="#4fb"/>
<stop offset=".2212" stop-color="#15ffea"/>
<stop offset=".2268" stop-color="#09fff6"/>
<stop offset=".2351" stop-color="#00feff"/>
<stop offset=".2931" stop-color="#00caff"/>
<stop offset=".4508" stop-color="#0032ff"/>
<stop offset=".4867" stop-color="#0019ff"/>
<stop offset=".5365" stop-color="#0001ff"/>
<stop offset=".6886" stop-color="#0000b8"/>
<stop offset=".7384" stop-color="#00a"/>
<stop offset=".8462" stop-color="#0000a0"/>
<stop offset=".9983" stop-color="#0000a1"/>
</linearGradient>
<linearGradient id="h20" gradientUnits="userSpaceOnUse" x1="1456.4" x2="1818" spreadMethod="reflect">
<stop offset="0" stop-color="#d20000"/>
<stop offset=".0083" stop-color="#d40000"/>
<stop offset=".0221" stop-color="#e00000"/>
<stop offset=".0387" stop-color="#ff0100"/>
<stop offset=".0747" stop-color="#ff6200"/>
<stop offset=".1189" stop-color="#ffc200"/>
<stop offset=".141" stop-color="#feff01"/>
<stop offset=".2074" stop-color="#4fb"/>
<stop offset=".2212" stop-color="#16ffe9"/>
<stop offset=".2268" stop-color="#0afff5"/>
<stop offset=".2351" stop-color="#0ff"/>
<stop offset=".2931" stop-color="#00cbff"/>
<stop offset=".4508" stop-color="#0034ff"/>
<stop offset=".4867" stop-color="#001bff"/>
<stop offset=".542" stop-color="#00f"/>
<stop offset=".6886" stop-color="#0000b9"/>
<stop offset=".7384" stop-color="#0000ab"/>
<stop offset=".8462" stop-color="#0000a0"/>
<stop offset=".9983" stop-color="#0000a2"/>
</linearGradient>
<linearGradient id="h21" gradientUnits="userSpaceOnUse" x1="1456.4" x2="1818" spreadMethod="reflect">
<stop offset="0" stop-color="#d70000"/>
<stop offset=".0083" stop-color="#d90000"/>
<stop offset=".0221" stop-color="#e50000"/>
<stop offset=".036" stop-color="#fe0000"/>
<stop offset=".0442" stop-color="#ff1300"/>
<stop offset=".0747" stop-color="#ff6500"/>
<stop offset=".1162" stop-color="#ffbe00"/>
<stop offset=".1383" stop-color="#fffa00"/>
<stop offset=".141" stop-color="#fcff03"/>
<stop offset=".2074" stop-color="#4fb"/>
<stop offset=".2212" stop-color="#16ffe9"/>
<stop offset=".2268" stop-color="#0afff5"/>
<stop offset=".2351" stop-color="#0ff"/>
<stop offset=".2904" stop-color="#00cfff"/>
<stop offset=".4535" stop-color="#03f"/>
<stop offset=".4895" stop-color="#001bff"/>
<stop offset=".5448" stop-color="#00f"/>
<stop offset=".6886" stop-color="#00b"/>
<stop offset=".7412" stop-color="#0000ab"/>
<stop offset=".8462" stop-color="#0000a1"/>
<stop offset=".9983" stop-color="#0000a2"/>
</linearGradient>
<linearGradient id="h22" gradientUnits="userSpaceOnUse" x1="1456.4" x2="1818" spreadMethod="reflect">
<stop offset="0" stop-color="#dc0000"/>
<stop offset=".0194" stop-color="#e70000"/>
<stop offset=".0332" stop-color="#fd0000"/>
<stop offset=".036" stop-color="#ff0400"/>
<stop offset=".0774" stop-color="#ff6f00"/>
<stop offset=".1162" stop-color="#ffc100"/>
<stop offset=".1383" stop-color="#fffc00"/>
<stop offset=".141" stop-color="#faff05"/>
<stop offset=".2074" stop-color="#4fb"/>
<stop offset=".2212" stop-color="#16ffe9"/>
<stop offset=".2268" stop-color="#0bfff4"/>
<stop offset=".2378" stop-color="#00fdff"/>
<stop offset=".2931" stop-color="#00cdff"/>
<stop offset=".4535" stop-color="#0035ff"/>
<stop offset=".4895" stop-color="#001dff"/>
<stop offset=".5476" stop-color="#0001ff"/>
<stop offset=".6886" stop-color="#0000bc"/>
<stop offset=".7412" stop-color="#0000ad"/>
<stop offset=".8462" stop-color="#0000a2"/>
<stop offset=".9983" stop-color="#0000a3"/>
</linearGradient>
<linearGradient id="h23" gradientUnits="userSpaceOnUse" x1="1456.4" x2="1818" spreadMethod="reflect">
<stop offset="0" stop-color="#e10000"/>
<stop offset=".0194" stop-color="#ec0000"/>
<stop offset=".0332" stop-color="#ff0200"/>
<stop offset=".0442" stop-color="#ff1b00"/>
<stop offset=".0774" stop-color="#ff7200"/>
<stop offset=".1189" stop-color="#ffca00"/>
<stop offset=".1383" stop-color="#fffe00"/>
<stop offset=".141" stop-color="#f9ff06"/>
<stop offset=".2074" stop-color="#4fb"/>
<stop offset=".2212" stop-color="#17ffe8"/>
<stop offset=".2268" stop-color="#0bfff4"/>
<stop offset=".2378" stop-color="#00feff"/>
<stop offset=".2931" stop-color="#00ceff"/>
<stop offset=".4535" stop-color="#0037ff"/>
<stop offset=".4923" stop-color="#001dff"/>
<stop offset=".5531" stop-color="#00f"/>
<stop offset=".6886" stop-color="#0000bd"/>
<stop offset=".7412" stop-color="#0000ae"/>
<stop offset=".8462" stop-color="#0000a3"/>
<stop offset=".9983" stop-color="#0000a4"/>
</linearGradient>
<linearGradient id="h24" gradientUnits="userSpaceOnUse" x1="1456.4" x2="1818" spreadMethod="reflect">
<stop offset="0" stop-color="#e60000"/>
<stop offset=".0166" stop-color="#e00"/>
<stop offset=".0304" stop-color="#ff0100"/>
<stop offset=".0442" stop-color="#ff1f00"/>
<stop offset=".0747" stop-color="#ff6f00"/>
<stop offset=".1162" stop-color="#ffc600"/>
<stop offset=".1383" stop-color="#feff01"/>
<stop offset=".2074" stop-color="#4fb"/>
<stop offset=".2212" stop-color="#17ffe8"/>
<stop offset=".2268" stop-color="#0cfff3"/>
<stop offset=".2378" stop-color="#0ff"/>
<stop offset=".2931" stop-color="#00cfff"/>
<stop offset=".4535" stop-color="#0039ff"/>
<stop offset=".4923" stop-color="#001fff"/>
<stop offset=".5559" stop-color="#00f"/>
<stop offset=".6886" stop-color="#0000be"/>
<stop offset=".7412" stop-color="#0000af"/>
<stop offset=".8462" stop-color="#0000a4"/>
<stop offset=".9983" stop-color="#0000a4"/>
</linearGradient>
<linearGradient id="h25" gradientUnits="userSpaceOnUse" x1="1456.4" x2="1818" spreadMethod="reflect">
<stop offset="0" stop-color="#ea0000"/>
<stop offset=".0111" stop-color="#ef0000"/>
<stop offset=".0249" stop-color="#fc0000"/>
<stop offset=".0304" stop-color="#ff0600"/>
<stop offset=".0442" stop-color="#ff2400"/>
<stop offset=".0774" stop-color="#ff7900"/>
<stop offset=".1162" stop-color="#ffc800"/>
<stop offset=".1383" stop-color="#fdff02"/>
<stop offset=".2074" stop-color="#4fb"/>
<stop offset=".2212" stop-color="#18ffe7"/>
<stop offset=".2268" stop-color="#0cfff3"/>
<stop offset=".2378" stop-color="#0ff"/>
<stop offset=".2904" stop-color="#00d2ff"/>
<stop offset=".4563" stop-color="#0038ff"/>
<stop offset=".495" stop-color="#001fff"/>
<stop offset=".5586" stop-color="#0001ff"/>
<stop offset=".6914" stop-color="#0000be"/>
<stop offset=".7439" stop-color="#0000af"/>
<stop offset=".849" stop-color="#0000a5"/>
<stop offset=".9983" stop-color="#0000a5"/>
</linearGradient>
<linearGradient id="h26" gradientUnits="userSpaceOnUse" x1="1456.4" x2="1818" spreadMethod="reflect">
<stop offset="0" stop-color="#ef0000"/>
<stop offset=".0083" stop-color="#f20000"/>
<stop offset=".0221" stop-color="#fd0000"/>
<stop offset=".0304" stop-color="#ff0b00"/>
<stop offset=".0442" stop-color="#ff2800"/>
<stop offset=".0774" stop-color="#ff7c00"/>
<stop offset=".1162" stop-color="#ffcb00"/>
<stop offset=".1355" stop-color="#fffc00"/>
<stop offset=".1383" stop-color="#fbff04"/>
<stop offset=".2074" stop-color="#4fb"/>
<stop offset=".2212" stop-color="#18ffe7"/>
<stop offset=".2268" stop-color="#0dfff2"/>
<stop offset=".2406" stop-color="#00fdff"/>
<stop offset=".2931" stop-color="#00d1ff"/>
<stop offset=".4563" stop-color="#003aff"/>
<stop offset=".495" stop-color="#0021ff"/>
<stop offset=".5614" stop-color="#0001ff"/>
<stop offset=".6914" stop-color="#0000c0"/>
<stop offset=".7439" stop-color="#0000b0"/>
<stop offset=".849" stop-color="#0000a5"/>
<stop offset=".9983" stop-color="#0000a5"/>
</linearGradient>
<linearGradient id="h27" gradientUnits="userSpaceOnUse" x1="1456.4" x2="1818" spreadMethod="reflect">
<stop offset="0" stop-color="#f40000"/>
<stop offset=".0194" stop-color="#f00"/>
<stop offset=".0304" stop-color="#ff0f00"/>
<stop offset=".0442" stop-color="#ff2c00"/>
<stop offset=".0774" stop-color="#ff7f00"/>
<stop offset=".1162" stop-color="#ffcd00"/>
<stop offset=".1355" stop-color="#fffe00"/>
<stop offset=".1383" stop-color="#f9ff06"/>
<stop offset=".2074" stop-color="#4fb"/>
<stop offset=".2212" stop-color="#19ffe6"/>
<stop offset=".2268" stop-color="#0efff1"/>
<stop offset=".2406" stop-color="#00feff"/>
<stop offset=".2959" stop-color="#00cfff"/>
<stop offset=".4563" stop-color="#003cff"/>
<stop offset=".4978" stop-color="#0021ff"/>
<stop offset=".5669" stop-color="#00f"/>
<stop offset=".6914" stop-color="#0000c1"/>
<stop offset=".7439" stop-color="#0000b1"/>
<stop offset=".849" stop-color="#0000a6"/>
<stop offset=".9983" stop-color="#0000a6"/>
</linearGradient>
<linearGradient id="h28" gradientUnits="userSpaceOnUse" x1="1456.4" x2="1818" spreadMethod="reflect">
<stop offset="0" stop-color="#f90000"/>
<stop offset=".0138" stop-color="#f00"/>
<stop offset=".0221" stop-color="#ff0700"/>
<stop offset=".0304" stop-color="#ff1400"/>
<stop offset=".0442" stop-color="#ff3000"/>
<stop offset=".0774" stop-color="#ff8300"/>
<stop offset=".1162" stop-color="#ffd000"/>
<stop offset=".1355" stop-color="#feff01"/>
<stop offset=".2074" stop-color="#4fb"/>
<stop offset=".2212" stop-color="#19ffe6"/>
<stop offset=".2268" stop-color="#0efff1"/>
<stop offset=".2406" stop-color="#0ff"/>
<stop offset=".2959" stop-color="#00d0ff"/>
<stop offset=".4563" stop-color="#003dff"/>
<stop offset=".4978" stop-color="#0023ff"/>
<stop offset=".5697" stop-color="#00f"/>
<stop offset=".6914" stop-color="#0000c2"/>
<stop offset=".7467" stop-color="#0000b2"/>
<stop offset=".8518" stop-color="#0000a7"/>
<stop offset=".9983" stop-color="#0000a7"/>
</linearGradient>
<linearGradient id="h29" gradientUnits="userSpaceOnUse" x1="1456.4" x2="1818" spreadMethod="reflect">
<stop offset="0" stop-color="#fe0000"/>
<stop offset=".0166" stop-color="#ff0700"/>
<stop offset=".0304" stop-color="#ff1800"/>
<stop offset=".0442" stop-color="#ff3500"/>
<stop offset=".0774" stop-color="#ff8600"/>
<stop offset=".1162" stop-color="#ffd200"/>
<stop offset=".1355" stop-color="#fcff03"/>
<stop offset=".2074" stop-color="#4fb"/>
<stop offset=".2212" stop-color="#1affe5"/>
<stop offset=".2268" stop-color="#0ffff0"/>
<stop offset=".2406" stop-color="#0ff"/>
<stop offset=".2931" stop-color="#00d3ff"/>
<stop offset=".4591" stop-color="#003dff"/>
<stop offset=".4978" stop-color="#0025ff"/>
<stop offset=".5725" stop-color="#00f"/>
<stop offset=".6914" stop-color="#0000c3"/>
<stop offset=".7467" stop-color="#0000b3"/>
<stop offset=".8518" stop-color="#0000a8"/>
<stop offset=".9983" stop-color="#0000a7"/>
</linearGradient>
<linearGradient id="h30" gradientUnits="userSpaceOnUse" x1="1456.4" x2="1818" spreadMethod="reflect">
<stop offset="0" stop-color="#ff0400"/>
<stop offset=".0194" stop-color="#ff0e00"/>
<stop offset=".0332" stop-color="#f20"/>
<stop offset=".0442" stop-color="#ff3900"/>
<stop offset=".0774" stop-color="#ff8900"/>
<stop offset=".1162" stop-color="#ffd500"/>
<stop offset=".1327" stop-color="#fffc00"/>
<stop offset=".1355" stop-color="#fbff04"/>
<stop offset=".2074" stop-color="#4fb"/>
<stop offset=".2212" stop-color="#1affe5"/>
<stop offset=".2268" stop-color="#0ffff0"/>
<stop offset=".2406" stop-color="#01fffe"/>
<stop offset=".2848" stop-color="#00dcff"/>
<stop offset=".4591" stop-color="#003fff"/>
<stop offset=".5006" stop-color="#0025ff"/>
<stop offset=".5752" stop-color="#00f"/>
<stop offset=".6914" stop-color="#0000c5"/>
<stop offset=".7467" stop-color="#0000b4"/>
<stop offset=".8518" stop-color="#0000a9"/>
<stop offset=".9983" stop-color="#0000a8"/>
</linearGradient>
<linearGradient id="h31" gradientUnits="userSpaceOnUse" x1="1456.4" x2="1818" spreadMethod="reflect">
<stop offset="0" stop-color="#ff0900"/>
<stop offset=".0194" stop-color="#ff1300"/>
<stop offset=".0332" stop-color="#ff2700"/>
<stop offset=".0442" stop-color="#ff3d00"/>
<stop offset=".0774" stop-color="#ff8d00"/>
<stop offset=".1162" stop-color="#ffd700"/>
<stop offset=".1327" stop-color="#fffe00"/>
<stop offset=".2074" stop-color="#4fb"/>
<stop offset=".2212" stop-color="#1affe5"/>
<stop offset=".2268" stop-color="#10ffef"/>
<stop offset=".2406" stop-color="#02fffd"/>
<stop offset=".2765" stop-color="#00e4ff"/>
<stop offset=".4591" stop-color="#0041ff"/>
<stop offset=".5006" stop-color="#0027ff"/>
<stop offset=".578" stop-color="#0001ff"/>
<stop offset=".6914" stop-color="#0000c6"/>
<stop offset=".7467" stop-color="#0000b5"/>
<stop offset=".8518" stop-color="#00a"/>
<stop offset=".9983" stop-color="#0000a8"/>
</linearGradient>
<linearGradient id="h32" gradientUnits="userSpaceOnUse" x1="1456.4" x2="1818" spreadMethod="reflect">
<stop offset="0" stop-color="#ff0e00"/>
<stop offset=".0194" stop-color="#ff1800"/>
<stop offset=".0304" stop-color="#ff2600"/>
<stop offset=".0442" stop-color="#ff4200"/>
<stop offset=".0774" stop-color="#ff9000"/>
<stop offset=".1162" stop-color="#ffd900"/>
<stop offset=".1327" stop-color="#feff01"/>
<stop offset=".2074" stop-color="#4fb"/>
<stop offset=".2212" stop-color="#1bffe4"/>
<stop offset=".2268" stop-color="#10ffef"/>
<stop offset=".2434" stop-color="#0ff"/>
<stop offset=".2987" stop-color="#00d1ff"/>
<stop offset=".4591" stop-color="#0042ff"/>
<stop offset=".5006" stop-color="#0028ff"/>
<stop offset=".5808" stop-color="#0001ff"/>
<stop offset=".6914" stop-color="#0000c7"/>
<stop offset=".7494" stop-color="#0000b6"/>
<stop offset=".8518" stop-color="#00a"/>
<stop offset=".9983" stop-color="#0000a9"/>
</linearGradient>
<linearGradient id="h33" gradientUnits="userSpaceOnUse" x1="1456.4" x2="1818" spreadMethod="reflect">
<stop offset="0" stop-color="#ff1300"/>
<stop offset=".0194" stop-color="#ff1d00"/>
<stop offset=".0304" stop-color="#ff2b00"/>
<stop offset=".0442" stop-color="#ff4600"/>
<stop offset=".0774" stop-color="#ff9300"/>
<stop offset=".1162" stop-color="#ffdc00"/>
<stop offset=".13" stop-color="#fffb00"/>
<stop offset=".1327" stop-color="#fcff03"/>
<stop offset=".2074" stop-color="#4fb"/>
<stop offset=".224" stop-color="#15ffea"/>
<stop offset=".2434" stop-color="#01fffe"/>
<stop offset=".2959" stop-color="#00d5ff"/>
<stop offset=".4591" stop-color="#04f"/>
<stop offset=".5006" stop-color="#002aff"/>
<stop offset=".5835" stop-color="#0001ff"/>
<stop offset=".6914" stop-color="#0000c8"/>
<stop offset=".7494" stop-color="#0000b7"/>
<stop offset=".8518" stop-color="#0000ab"/>
<stop offset=".9983" stop-color="#00a"/>
</linearGradient>
<linearGradient id="h34" gradientUnits="userSpaceOnUse" x1="1456.4" x2="1818" spreadMethod="reflect">
<stop offset="0" stop-color="#ff1800"/>
<stop offset=".0194" stop-color="#ff2100"/>
<stop offset=".0304" stop-color="#ff3000"/>
<stop offset=".0442" stop-color="#ff4a00"/>
<stop offset=".0774" stop-color="#ff9600"/>
<stop offset=".1162" stop-color="#ffde00"/>
<stop offset=".13" stop-color="#fffe00"/>
<stop offset=".2074" stop-color="#4fb"/>
<stop offset=".224" stop-color="#16ffe9"/>
<stop offset=".2434" stop-color="#01fffe"/>
<stop offset=".2848" stop-color="#00dfff"/>
<stop offset=".4618" stop-color="#04f"/>
<stop offset=".5033" stop-color="#002aff"/>
<stop offset=".589" stop-color="#00f"/>
<stop offset=".6914" stop-color="#0000c9"/>
<stop offset=".7494" stop-color="#0000b8"/>
<stop offset=".8518" stop-color="#0000ac"/>
<stop offset=".9983" stop-color="#00a"/>
</linearGradient>
<linearGradient id="h35" gradientUnits="userSpaceOnUse" x1="1456.4" x2="1818" spreadMethod="reflect">
<stop offset="0" stop-color="#ff1d00"/>
<stop offset=".0194" stop-color="#ff2600"/>
<stop offset=".0304" stop-color="#ff3400"/>
<stop offset=".0442" stop-color="#ff4e00"/>
<stop offset=".0774" stop-color="#ff9a00"/>
<stop offset=".1162" stop-color="#ffe100"/>
<stop offset=".13" stop-color="#feff01"/>
<stop offset=".2074" stop-color="#4fb"/>
<stop offset=".2212" stop-color="#1cffe3"/>
<stop offset=".2268" stop-color="#12ffed"/>
<stop offset=".2434" stop-color="#02fffd"/>
<stop offset=".2738" stop-color="#00e9ff"/>
<stop offset=".4618" stop-color="#0046ff"/>
<stop offset=".5033" stop-color="#002cff"/>
<stop offset=".5918" stop-color="#00f"/>
<stop offset=".6914" stop-color="#0000cb"/>
<stop offset=".7522" stop-color="#0000b8"/>
<stop offset=".8545" stop-color="#0000ad"/>
<stop offset=".9983" stop-color="#0000ab"/>
</linearGradient>
<linearGradient id="h36" gradientUnits="userSpaceOnUse" x1="1456.4" x2="1818" spreadMethod="reflect">
<stop offset="0" stop-color="#f20"/>
<stop offset=".0194" stop-color="#ff2b00"/>
<stop offset=".0304" stop-color="#ff3900"/>
<stop offset=".0442" stop-color="#ff5300"/>
<stop offset=".0774" stop-color="#ff9d00"/>
<stop offset=".1134" stop-color="#ffde00"/>
<stop offset=".1272" stop-color="#fffb00"/>
<stop offset=".13" stop-color="#fcff03"/>
<stop offset=".2074" stop-color="#4fb"/>
<stop offset=".224" stop-color="#17ffe8"/>
<stop offset=".2461" stop-color="#01fffe"/>
<stop offset=".3014" stop-color="#00d3ff"/>
<stop offset=".4618" stop-color="#0047ff"/>
<stop offset=".5033" stop-color="#002eff"/>
<stop offset=".5946" stop-color="#00f"/>
<stop offset=".6914" stop-color="#00c"/>
<stop offset=".7522" stop-color="#0000b9"/>
<stop offset=".8545" stop-color="#0000ae"/>
<stop offset=".9983" stop-color="#0000ab"/>
</linearGradient>
<linearGradient id="h37" gradientUnits="userSpaceOnUse" x1="1456.4" x2="1818" spreadMethod="reflect">
<stop offset="0" stop-color="#ff2600"/>
<stop offset=".0194" stop-color="#ff3000"/>
<stop offset=".0304" stop-color="#ff3d00"/>
<stop offset=".0442" stop-color="#ff5700"/>
<stop offset=".0774" stop-color="#ffa000"/>
<stop offset=".1134" stop-color="#ffe100"/>
<stop offset=".1272" stop-color="#fffd00"/>
<stop offset=".2074" stop-color="#4fb"/>
<stop offset=".224" stop-color="#17ffe8"/>
<stop offset=".2461" stop-color="#01fffe"/>
<stop offset=".2959" stop-color="#00d8ff"/>
<stop offset=".4618" stop-color="#0049ff"/>
<stop offset=".5033" stop-color="#0030ff"/>
<stop offset=".5973" stop-color="#00f"/>
<stop offset=".6914" stop-color="#0000cd"/>
<stop offset=".7522" stop-color="#00b"/>
<stop offset=".8545" stop-color="#0000ae"/>
<stop offset=".9983" stop-color="#0000ac"/>
</linearGradient>
<linearGradient id="h38" gradientUnits="userSpaceOnUse" x1="1456.4" x2="1818" spreadMethod="reflect">
<stop offset="0" stop-color="#ff2b00"/>
<stop offset=".0194" stop-color="#ff3400"/>
<stop offset=".0304" stop-color="#ff4200"/>
<stop offset=".0442" stop-color="#ff5b00"/>
<stop offset=".0774" stop-color="#ffa400"/>
<stop offset=".1134" stop-color="#ffe300"/>
<stop offset=".1272" stop-color="#feff01"/>
<stop offset=".2074" stop-color="#4fb"/>
<stop offset=".224" stop-color="#18ffe7"/>
<stop offset=".2489" stop-color="#0ff"/>
<stop offset=".4618" stop-color="#004bff"/>
<stop offset=".5033" stop-color="#0031ff"/>
<stop offset=".6001" stop-color="#00f"/>
<stop offset=".6914" stop-color="#0000ce"/>
<stop offset=".7522" stop-color="#0000bc"/>
<stop offset=".8545" stop-color="#0000af"/>
<stop offset=".9983" stop-color="#0000ad"/>
</linearGradient>
<linearGradient id="h39" gradientUnits="userSpaceOnUse" x1="1456.4" x2="1818" spreadMethod="reflect">
<stop offset="0" stop-color="#ff3000"/>
<stop offset=".0194" stop-color="#ff3900"/>
<stop offset=".0304" stop-color="#ff4700"/>
<stop offset=".0442" stop-color="#ff5f00"/>
<stop offset=".0774" stop-color="#ffa700"/>
<stop offset=".1244" stop-color="#fffc00"/>
<stop offset=".1272" stop-color="#fcff03"/>
<stop offset=".2074" stop-color="#4fb"/>
<stop offset=".224" stop-color="#18ffe7"/>
<stop offset=".2489" stop-color="#01fffe"/>
<stop offset=".3014" stop-color="#00d6ff"/>
<stop offset=".4646" stop-color="#004bff"/>
<stop offset=".5033" stop-color="#03f"/>
<stop offset=".6029" stop-color="#00f"/>
<stop offset=".6914" stop-color="#0000d0"/>
<stop offset=".755" stop-color="#0000bc"/>
<stop offset=".8545" stop-color="#0000b0"/>
<stop offset=".9983" stop-color="#0000ad"/>
</linearGradient>
<linearGradient id="h40" gradientUnits="userSpaceOnUse" x1="1456.4" x2="1818" spreadMethod="reflect">
<stop offset="0" stop-color="#ff3500"/>
<stop offset=".0194" stop-color="#ff3e00"/>
<stop offset=".0304" stop-color="#ff4b00"/>
<stop offset=".0442" stop-color="#ff6400"/>
<stop offset=".0774" stop-color="#fa0"/>
<stop offset=".1244" stop-color="#fffe00"/>
<stop offset=".2074" stop-color="#4fb"/>
<stop offset=".224" stop-color="#19ffe6"/>
<stop offset=".2489" stop-color="#01fffe"/>
<stop offset=".3014" stop-color="#00d7ff"/>
<stop offset=".4646" stop-color="#004cff"/>
<stop offset=".5033" stop-color="#0035ff"/>
<stop offset=".6056" stop-color="#00f"/>
<stop offset=".6914" stop-color="#0000d1"/>
<stop offset=".755" stop-color="#0000bd"/>
<stop offset=".8545" stop-color="#0000b1"/>
<stop offset=".9983" stop-color="#0000ae"/>
</linearGradient>
<linearGradient id="h41" gradientUnits="userSpaceOnUse" x1="1456.4" x2="1818" spreadMethod="reflect">
<stop offset="0" stop-color="#ff3a00"/>
<stop offset=".0194" stop-color="#ff4300"/>
<stop offset=".0304" stop-color="#ff5000"/>
<stop offset=".0442" stop-color="#ff6800"/>
<stop offset=".0774" stop-color="#ffad00"/>
<stop offset=".1244" stop-color="#feff01"/>
<stop offset=".2074" stop-color="#4fb"/>
<stop offset=".224" stop-color="#19ffe6"/>
<stop offset=".2517" stop-color="#0ff"/>
<stop offset=".4646" stop-color="#004eff"/>
<stop offset=".5033" stop-color="#0037ff"/>
<stop offset=".6084" stop-color="#00f"/>
<stop offset=".6941" stop-color="#0000d1"/>
<stop offset=".755" stop-color="#0000be"/>
<stop offset=".8545" stop-color="#0000b2"/>
<stop offset=".9983" stop-color="#0000ae"/>
</linearGradient>
<linearGradient id="h42" gradientUnits="userSpaceOnUse" x1="1456.4" x2="1818" spreadMethod="reflect">
<stop offset="0" stop-color="#ff3f00"/>
<stop offset=".0194" stop-color="#ff4800"/>
<stop offset=".0304" stop-color="#ff5400"/>
<stop offset=".0442" stop-color="#ff6c00"/>
<stop offset=".0774" stop-color="#ffb100"/>
<stop offset=".1217" stop-color="#fffd00"/>
<stop offset=".1272" stop-color="#f6ff09"/>
<stop offset=".2074" stop-color="#4fb"/>
<stop offset=".224" stop-color="#1affe5"/>
<stop offset=".2378" stop-color="#0bfff4"/>
<stop offset=".2544" stop-color="#00feff"/>
<stop offset=".4646" stop-color="#0050ff"/>
<stop offset=".5033" stop-color="#0038ff"/>
<stop offset=".6112" stop-color="#00f"/>
<stop offset=".6941" stop-color="#0000d2"/>
<stop offset=".7577" stop-color="#0000bf"/>
<stop offset=".8573" stop-color="#0000b2"/>
<stop offset=".9983" stop-color="#0000af"/>
</linearGradient>
<linearGradient id="h43" gradientUnits="userSpaceOnUse" x1="1456.4" x2="1818" spreadMethod="reflect">
<stop offset="0" stop-color="#f40"/>
<stop offset=".0194" stop-color="#ff4c00"/>
<stop offset=".0304" stop-color="#ff5900"/>
<stop offset=".0442" stop-color="#ff7000"/>
<stop offset=".0774" stop-color="#ffb400"/>
<stop offset=".1217" stop-color="#ff0"/>
<stop offset=".2074" stop-color="#4fb"/>
<stop offset=".224" stop-color="#1affe5"/>
<stop offset=".2351" stop-color="#0efff1"/>
<stop offset=".2544" stop-color="#0ff"/>
<stop offset=".4646" stop-color="#0052ff"/>
<stop offset=".6139" stop-color="#00f"/>
<stop offset=".6941" stop-color="#0000d3"/>
<stop offset=".7577" stop-color="#0000c0"/>
<stop offset=".8573" stop-color="#0000b3"/>
<stop offset=".9983" stop-color="#0000b0"/>
</linearGradient>
<linearGradient id="h44" gradientUnits="userSpaceOnUse" x1="1456.4" x2="1818" spreadMethod="reflect">
<stop offset="0" stop-color="#ff4900"/>
<stop offset=".0194" stop-color="#ff5100"/>
<stop offset=".0304" stop-color="#ff5e00"/>
<stop offset=".0442" stop-color="#ff7500"/>
<stop offset=".0802" stop-color="#ffbc00"/>
<stop offset=".1217" stop-color="#fdff02"/>
<stop offset=".2074" stop-color="#4fb"/>
<stop offset=".224" stop-color="#1bffe4"/>
<stop offset=".2544" stop-color="#0ff"/>
<stop offset=".4646" stop-color="#0053ff"/>
<stop offset=".6167" stop-color="#00f"/>
<stop offset=".6941" stop-color="#0000d5"/>
<stop offset=".7577" stop-color="#0000c1"/>
<stop offset=".8573" stop-color="#0000b4"/>
<stop offset=".9983" stop-color="#0000b0"/>
</linearGradient>
<linearGradient id="h45" gradientUnits="userSpaceOnUse" x1="1456.4" x2="1818" spreadMethod="reflect">
<stop offset="0" stop-color="#ff4e00"/>
<stop offset=".0194" stop-color="#ff5600"/>
<stop offset=".0304" stop-color="#ff6200"/>
<stop offset=".0442" stop-color="#ff7900"/>
<stop offset=".0774" stop-color="#fb0"/>
<stop offset=".1189" stop-color="#fffe00"/>
<stop offset=".2074" stop-color="#4fb"/>
<stop offset=".224" stop-color="#1bffe4"/>
<stop offset=".2378" stop-color="#0dfff2"/>
<stop offset=".2572" stop-color="#00feff"/>
<stop offset=".4646" stop-color="#05f"/>
<stop offset=".6195" stop-color="#00f"/>
<stop offset=".6941" stop-color="#0000d6"/>
<stop offset=".7577" stop-color="#0000c2"/>
<stop offset=".8573" stop-color="#0000b5"/>
<stop offset=".9983" stop-color="#0000b1"/>
</linearGradient>
<linearGradient id="h46" gradientUnits="userSpaceOnUse" x1="1456.4" x2="1818" spreadMethod="reflect">
<stop offset="0" stop-color="#ff5300"/>
<stop offset=".0194" stop-color="#ff5b00"/>
<stop offset=".0304" stop-color="#ff6700"/>
<stop offset=".0442" stop-color="#ff7d00"/>
<stop offset=".0802" stop-color="#ffc300"/>
<stop offset=".1189" stop-color="#fdff02"/>
<stop offset=".2074" stop-color="#4fb"/>
<stop offset=".224" stop-color="#1cffe3"/>
<stop offset=".2378" stop-color="#0efff1"/>
<stop offset=".2572" stop-color="#0ff"/>
<stop offset=".4646" stop-color="#0057ff"/>
<stop offset=".6222" stop-color="#00f"/>
<stop offset=".6941" stop-color="#0000d7"/>
<stop offset=".7605" stop-color="#0000c2"/>
<stop offset=".8601" stop-color="#0000b6"/>
<stop offset=".9983" stop-color="#0000b1"/>
</linearGradient>
<linearGradient id="h47" gradientUnits="userSpaceOnUse" x1="1456.4" x2="1818" spreadMethod="reflect">
<stop offset="0" stop-color="#ff5800"/>
<stop offset=".0194" stop-color="#ff6000"/>
<stop offset=".0304" stop-color="#ff6b00"/>
<stop offset=".0442" stop-color="#ff8100"/>
<stop offset=".0774" stop-color="#ffc100"/>
<stop offset=".1162" stop-color="#fffe00"/>
<stop offset=".177" stop-color="#84ff7b"/>
<stop offset=".2074" stop-color="#4fb"/>
<stop offset=".224" stop-color="#1cffe3"/>
<stop offset=".2378" stop-color="#0efff1"/>
<stop offset=".26" stop-color="#00feff"/>
<stop offset=".4646" stop-color="#0059ff"/>
<stop offset=".625" stop-color="#00f"/>
<stop offset=".6941" stop-color="#0000d8"/>
<stop offset=".7605" stop-color="#0000c3"/>
<stop offset=".8601" stop-color="#0000b6"/>
<stop offset=".9983" stop-color="#0000b2"/>
</linearGradient>
<linearGradient id="h48" gradientUnits="userSpaceOnUse" x1="1456.4" x2="1818" spreadMethod="reflect">
<stop offset="0" stop-color="#ff5d00"/>
<stop offset=".0194" stop-color="#ff6400"/>
<stop offset=".0304" stop-color="#ff7000"/>
<stop offset=".0442" stop-color="#ff8600"/>
<stop offset=".0802" stop-color="#ffc900"/>
<stop offset=".1162" stop-color="#fdff02"/>
<stop offset=".1798" stop-color="#7dff82"/>
<stop offset=".2074" stop-color="#4fb"/>
<stop offset=".224" stop-color="#1dffe2"/>
<stop offset=".2378" stop-color="#0ffff0"/>
<stop offset=".26" stop-color="#00feff"/>
<stop offset=".4674" stop-color="#0059ff"/>
<stop offset=".6278" stop-color="#00f"/>
<stop offset=".6941" stop-color="#0000da"/>
<stop offset=".7605" stop-color="#0000c4"/>
<stop offset=".8601" stop-color="#0000b7"/>
<stop offset=".9983" stop-color="#0000b3"/>
</linearGradient>
<linearGradient id="h49" gradientUnits="userSpaceOnUse" x1="1456.4" x2="1818" spreadMethod="reflect">
<stop offset="0" stop-color="#ff6100"/>
<stop offset=".0194" stop-color="#ff6900"/>
<stop offset=".0304" stop-color="#ff7500"/>
<stop offset=".0442" stop-color="#ff8a00"/>
<stop offset=".0774" stop-color="#ffc800"/>
<stop offset=".1134" stop-color="#ff0"/>
<stop offset=".1272" stop-color="#e7ff18"/>
<stop offset=".177" stop-color="#82ff7d"/>
<stop offset=".2074" stop-color="#4fb"/>
<stop offset=".224" stop-color="#1dffe2"/>
<stop offset=".2378" stop-color="#0ffff0"/>
<stop offset=".26" stop-color="#0ff"/>
<stop offset=".4674" stop-color="#005aff"/>
<stop offset=".6305" stop-color="#00f"/>
<stop offset=".6941" stop-color="#0000db"/>
<stop offset=".7605" stop-color="#0000c6"/>
<stop offset=".8601" stop-color="#0000b8"/>
<stop offset=".9983" stop-color="#0000b3"/>
</linearGradient>
<linearGradient id="h50" gradientUnits="userSpaceOnUse" x1="1456.4" x2="1818" spreadMethod="reflect">
<stop offset="0" stop-color="#f60"/>
<stop offset=".0194" stop-color="#ff6e00"/>
<stop offset=".0304" stop-color="#ff7900"/>
<stop offset=".0442" stop-color="#ff8e00"/>
<stop offset=".0802" stop-color="#ffd000"/>
<stop offset=".1134" stop-color="#fdff02"/>
<stop offset=".177" stop-color="#82ff7d"/>
<stop offset=".2074" stop-color="#4fb"/>
<stop offset=".224" stop-color="#1effe1"/>
<stop offset=".2378" stop-color="#10ffef"/>
<stop offset=".2627" stop-color="#00feff"/>
<stop offset=".4674" stop-color="#005cff"/>
<stop offset=".6333" stop-color="#00f"/>
<stop offset=".6941" stop-color="#0000dc"/>
<stop offset=".7633" stop-color="#0000c6"/>
<stop offset=".8601" stop-color="#0000b9"/>
<stop offset=".9983" stop-color="#0000b4"/>
</linearGradient>
<linearGradient id="h51" gradientUnits="userSpaceOnUse" x1="1456.4" x2="1818" spreadMethod="reflect">
<stop offset="0" stop-color="#ff6b00"/>
<stop offset=".0194" stop-color="#ff7300"/>
<stop offset=".0304" stop-color="#ff7e00"/>
<stop offset=".0442" stop-color="#ff9300"/>
<stop offset=".0802" stop-color="#ffd300"/>
<stop offset=".1106" stop-color="#feff01"/>
<stop offset=".1244" stop-color="#e7ff18"/>
<stop offset=".177" stop-color="#81ff7e"/>
<stop offset=".2074" stop-color="#4fb"/>
<stop offset=".224" stop-color="#1effe1"/>
<stop offset=".2378" stop-color="#1fe"/>
<stop offset=".2627" stop-color="#0ff"/>
<stop offset=".4674" stop-color="#005eff"/>
<stop offset=".6361" stop-color="#00f"/>
<stop offset=".6941" stop-color="#00d"/>
<stop offset=".7633" stop-color="#0000c7"/>
<stop offset=".8601" stop-color="#0000ba"/>
<stop offset=".9983" stop-color="#0000b4"/>
</linearGradient>
<linearGradient id="h52" gradientUnits="userSpaceOnUse" x1="1456.4" x2="1818" spreadMethod="reflect">
<stop offset="0" stop-color="#ff7000"/>
<stop offset=".0194" stop-color="#ff7800"/>
<stop offset=".0304" stop-color="#ff8300"/>
<stop offset=".0442" stop-color="#ff9700"/>
<stop offset=".0774" stop-color="#ffd200"/>
<stop offset=".1079" stop-color="#fffe00"/>
<stop offset=".1244" stop-color="#e5ff1a"/>
<stop offset=".177" stop-color="#80ff7f"/>
<stop offset=".2074" stop-color="#4fb"/>
<stop offset=".224" stop-color="#1fffe0"/>
<stop offset=".2406" stop-color="#0ffff0"/>
<stop offset=".2655" stop-color="#00feff"/>
<stop offset=".4674" stop-color="#0060ff"/>
<stop offset=".6388" stop-color="#00f"/>
<stop offset=".6941" stop-color="#0000de"/>
<stop offset=".7633" stop-color="#0000c8"/>
<stop offset=".8601" stop-color="#00b"/>
<stop offset=".9983" stop-color="#0000b5"/>
</linearGradient>
<linearGradient id="h53" gradientUnits="userSpaceOnUse" x1="1456.4" x2="1818" spreadMethod="reflect">
<stop offset="0" stop-color="#ff7500"/>
<stop offset=".0194" stop-color="#ff7c00"/>
<stop offset=".0304" stop-color="#ff8700"/>
<stop offset=".0442" stop-color="#ff9b00"/>
<stop offset=".0802" stop-color="#ffd900"/>
<stop offset=".1079" stop-color="#fdff02"/>
<stop offset=".1244" stop-color="#e3ff1c"/>
<stop offset=".177" stop-color="#7fff80"/>
<stop offset=".2074" stop-color="#4fb"/>
<stop offset=".224" stop-color="#1fffe0"/>
<stop offset=".2378" stop-color="#12ffed"/>
<stop offset=".2655" stop-color="#00feff"/>
<stop offset=".4674" stop-color="#0061ff"/>
<stop offset=".6416" stop-color="#00f"/>
<stop offset=".6969" stop-color="#0000df"/>
<stop offset=".766" stop-color="#0000c9"/>
<stop offset=".8628" stop-color="#00b"/>
<stop offset=".9983" stop-color="#0000b6"/>
</linearGradient>
<linearGradient id="h54" gradientUnits="userSpaceOnUse" x1="1456.4" x2="1818" spreadMethod="reflect">
<stop offset="0" stop-color="#ff7a00"/>
<stop offset=".0194" stop-color="#ff8100"/>
<stop offset=".0304" stop-color="#ff8c00"/>
<stop offset=".0442" stop-color="#ff9f00"/>
<stop offset=".0774" stop-color="#ffd800"/>
<stop offset=".1051" stop-color="#feff01"/>
<stop offset=".1244" stop-color="#e1ff1e"/>
<stop offset=".177" stop-color="#7fff80"/>
<stop offset=".2074" stop-color="#4fb"/>
<stop offset=".224" stop-color="#20ffdf"/>
<stop offset=".2378" stop-color="#13ffec"/>
<stop offset=".2655" stop-color="#0ff"/>
<stop offset=".4674" stop-color="#0063ff"/>
<stop offset=".6444" stop-color="#0000fe"/>
<stop offset=".6969" stop-color="#0000e0"/>
<stop offset=".766" stop-color="#0000ca"/>
<stop offset=".8628" stop-color="#0000bc"/>
<stop offset=".9983" stop-color="#0000b6"/>
</linearGradient>
<linearGradient id="h55" gradientUnits="userSpaceOnUse" x1="1456.4" x2="1818" spreadMethod="reflect">
<stop offset="0" stop-color="#ff7f00"/>
<stop offset=".0194" stop-color="#ff8600"/>
<stop offset=".0304" stop-color="#ff9000"/>
<stop offset=".0442" stop-color="#ffa400"/>
<stop offset=".0774" stop-color="#ffdc00"/>
<stop offset=".1023" stop-color="#ff0"/>
<stop offset=".13" stop-color="#d4ff2b"/>
<stop offset=".2074" stop-color="#4fb"/>
<stop offset=".224" stop-color="#20ffdf"/>
<stop offset=".2406" stop-color="#1fe"/>
<stop offset=".2683" stop-color="#00feff"/>
<stop offset=".4674" stop-color="#0065ff"/>
<stop offset=".6444" stop-color="#0001ff"/>
<stop offset=".6969" stop-color="#0000e1"/>
<stop offset=".766" stop-color="#0000cb"/>
<stop offset=".8628" stop-color="#0000bd"/>
<stop offset=".9983" stop-color="#0000b7"/>
</linearGradient>
<linearGradient id="h56" gradientUnits="userSpaceOnUse" x1="1456.4" x2="1818" spreadMethod="reflect">
<stop offset="0" stop-color="#ff8400"/>
<stop offset=".0194" stop-color="#ff8b00"/>
<stop offset=".0304" stop-color="#ff9500"/>
<stop offset=".0442" stop-color="#ffa800"/>
<stop offset=".0802" stop-color="#ffe300"/>
<stop offset=".1023" stop-color="#fdff02"/>
<stop offset=".1327" stop-color="#cdff32"/>
<stop offset=".2074" stop-color="#4fb"/>
<stop offset=".224" stop-color="#21ffde"/>
<stop offset=".2378" stop-color="#14ffeb"/>
<stop offset=".2683" stop-color="#0ff"/>
<stop offset=".4701" stop-color="#0065ff"/>
<stop offset=".6471" stop-color="#0001ff"/>
<stop offset=".6997" stop-color="#0000e1"/>
<stop offset=".7688" stop-color="#0000cb"/>
<stop offset=".8628" stop-color="#0000be"/>
<stop offset=".9983" stop-color="#0000b7"/>
</linearGradient>
<linearGradient id="h57" gradientUnits="userSpaceOnUse" x1="1456.4" x2="1818" spreadMethod="reflect">
<stop offset="0" stop-color="#ff8900"/>
<stop offset=".0194" stop-color="#ff9000"/>
<stop offset=".0304" stop-color="#ff9a00"/>
<stop offset=".0442" stop-color="#ffac00"/>
<stop offset=".0774" stop-color="#ffe200"/>
<stop offset=".0996" stop-color="#feff01"/>
<stop offset=".13" stop-color="#d0ff2f"/>
<stop offset=".2074" stop-color="#4fb"/>
<stop offset=".224" stop-color="#21ffde"/>
<stop offset=".2683" stop-color="#0ff"/>
<stop offset=".4701" stop-color="#0067ff"/>
<stop offset=".6499" stop-color="#00f"/>
<stop offset=".6997" stop-color="#0000e2"/>
<stop offset=".7688" stop-color="#00c"/>
<stop offset=".8628" stop-color="#0000be"/>
<stop offset=".9983" stop-color="#0000b8"/>
</linearGradient>
<linearGradient id="h58" gradientUnits="userSpaceOnUse" x1="1456.4" x2="1818" spreadMethod="reflect">
<stop offset="0" stop-color="#ff8e00"/>
<stop offset=".0194" stop-color="#ff9400"/>
<stop offset=".0304" stop-color="#ff9e00"/>
<stop offset=".0442" stop-color="#ffb000"/>
<stop offset=".0774" stop-color="#ffe500"/>
<stop offset=".0968" stop-color="#ff0"/>
<stop offset=".13" stop-color="#ceff31"/>
<stop offset=".1798" stop-color="#7f8"/>
<stop offset=".224" stop-color="#2fd"/>
<stop offset=".2378" stop-color="#15ffea"/>
<stop offset=".271" stop-color="#00feff"/>
<stop offset=".4701" stop-color="#0068ff"/>
<stop offset=".6527" stop-color="#00f"/>
<stop offset=".6997" stop-color="#0000e3"/>
<stop offset=".7688" stop-color="#0000cd"/>
<stop offset=".8628" stop-color="#0000bf"/>
<stop offset=".9983" stop-color="#0000b9"/>
</linearGradient>
<linearGradient id="h59" gradientUnits="userSpaceOnUse" x1="1456.4" x2="1818" spreadMethod="reflect">
<stop offset="0" stop-color="#ff9300"/>
<stop offset=".0194" stop-color="#f90"/>
<stop offset=".0304" stop-color="#ffa300"/>
<stop offset=".094" stop-color="#ff0"/>
<stop offset=".13" stop-color="#cf3"/>
<stop offset=".1798" stop-color="#76ff89"/>
<stop offset=".224" stop-color="#2fd"/>
<stop offset=".271" stop-color="#0ff"/>
<stop offset=".4701" stop-color="#006aff"/>
<stop offset=".6554" stop-color="#00f"/>
<stop offset=".6997" stop-color="#0000e5"/>
<stop offset=".7688" stop-color="#0000ce"/>
<stop offset=".8628" stop-color="#0000c0"/>
<stop offset=".9983" stop-color="#0000b9"/>
</linearGradient>
<linearGradient id="h60" gradientUnits="userSpaceOnUse" x1="1456.4" x2="1818" spreadMethod="reflect">
<stop offset="0" stop-color="#ff9800"/>
<stop offset=".0194" stop-color="#ff9e00"/>
<stop offset=".0304" stop-color="#ffa700"/>
<stop offset=".0913" stop-color="#fffe00"/>
<stop offset=".1272" stop-color="#cfff30"/>
<stop offset=".1798" stop-color="#75ff8a"/>
<stop offset=".224" stop-color="#23ffdc"/>
<stop offset=".2406" stop-color="#14ffeb"/>
<stop offset=".2738" stop-color="#00feff"/>
<stop offset=".4701" stop-color="#006cff"/>
<stop offset=".6582" stop-color="#00f"/>
<stop offset=".7052" stop-color="#0000e4"/>
<stop offset=".7716" stop-color="#0000cf"/>
<stop offset=".8656" stop-color="#0000c1"/>
<stop offset=".9983" stop-color="#0000ba"/>
</linearGradient>
<linearGradient id="h61" gradientUnits="userSpaceOnUse" x1="1456.4" x2="1818" spreadMethod="reflect">
<stop offset="0" stop-color="#ff9d00"/>
<stop offset=".0194" stop-color="#ffa300"/>
<stop offset=".0304" stop-color="#ffac00"/>
<stop offset=".0442" stop-color="#ffbd00"/>
<stop offset=".0802" stop-color="#fff300"/>
<stop offset=".0913" stop-color="#fdff02"/>
<stop offset=".13" stop-color="#c8ff37"/>
<stop offset=".1798" stop-color="#74ff8b"/>
<stop offset=".224" stop-color="#23ffdc"/>
<stop offset=".2738" stop-color="#0ff"/>
<stop offset=".4701" stop-color="#006eff"/>
<stop offset=".6582" stop-color="#0001ff"/>
<stop offset=".708" stop-color="#0000e4"/>
<stop offset=".7743" stop-color="#0000cf"/>
<stop offset=".8656" stop-color="#0000c2"/>
<stop offset=".9983" stop-color="#0000ba"/>
</linearGradient>
<linearGradient id="h62" gradientUnits="userSpaceOnUse" x1="1456.4" x2="1818" spreadMethod="reflect">
<stop offset="0" stop-color="#ffa100"/>
<stop offset=".0194" stop-color="#ffa800"/>
<stop offset=".0304" stop-color="#ffb100"/>
<stop offset=".0442" stop-color="#ffc100"/>
<stop offset=".0774" stop-color="#fff300"/>
<stop offset=".0885" stop-color="#fdff02"/>
<stop offset=".1272" stop-color="#caff35"/>
<stop offset=".177" stop-color="#79ff86"/>
<stop offset=".224" stop-color="#24ffdb"/>
<stop offset=".2738" stop-color="#0ff"/>
<stop offset=".4701" stop-color="#0070ff"/>
<stop offset=".661" stop-color="#00f"/>
<stop offset=".7107" stop-color="#0000e4"/>
<stop offset=".7771" stop-color="#0000d0"/>
<stop offset=".8684" stop-color="#0000c2"/>
<stop offset=".9983" stop-color="#00b"/>
</linearGradient>
<linearGradient id="h63" gradientUnits="userSpaceOnUse" x1="1456.4" x2="1818" spreadMethod="reflect">
<stop offset="0" stop-color="#ffa600"/>
<stop offset=".0194" stop-color="#ffac00"/>
<stop offset=".0304" stop-color="#ffb500"/>
<stop offset=".0857" stop-color="#fdff02"/>
<stop offset=".1272" stop-color="#c8ff37"/>
<stop offset=".177" stop-color="#78ff87"/>
<stop offset=".224" stop-color="#24ffdb"/>
<stop offset=".2765" stop-color="#00feff"/>
<stop offset=".4701" stop-color="#0071ff"/>
<stop offset=".6637" stop-color="#00f"/>
<stop offset=".7135" stop-color="#0000e4"/>
<stop offset=".7799" stop-color="#0000d0"/>
<stop offset=".8684" stop-color="#0000c3"/>
<stop offset=".9983" stop-color="#0000bc"/>
</linearGradient>
<linearGradient id="h64" gradientUnits="userSpaceOnUse" x1="1456.4" x2="1818" spreadMethod="reflect">
<stop offset="0" stop-color="#ffab00"/>
<stop offset=".0194" stop-color="#ffb100"/>
<stop offset=".0304" stop-color="#ffba00"/>
<stop offset=".083" stop-color="#feff01"/>
<stop offset=".1272" stop-color="#c6ff39"/>
<stop offset=".177" stop-color="#7f8"/>
<stop offset=".224" stop-color="#25ffda"/>
<stop offset=".2765" stop-color="#0ff"/>
<stop offset=".3816" stop-color="#00b6ff"/>
<stop offset=".4701" stop-color="#0073ff"/>
<stop offset=".6665" stop-color="#0000fe"/>
<stop offset=".7163" stop-color="#0000e4"/>
<stop offset=".7826" stop-color="#0000d0"/>
<stop offset=".8684" stop-color="#0000c4"/>
<stop offset=".9983" stop-color="#0000bc"/>
</linearGradient>
<linearGradient id="h65" gradientUnits="userSpaceOnUse" x1="1456.4" x2="1818" spreadMethod="reflect">
<stop offset="0" stop-color="#ffb000"/>
<stop offset=".0194" stop-color="#ffb600"/>
<stop offset=".0304" stop-color="#ffbe00"/>
<stop offset=".0802" stop-color="#feff01"/>
<stop offset=".1272" stop-color="#c4ff3b"/>
<stop offset=".177" stop-color="#76ff89"/>
<stop offset=".224" stop-color="#25ffda"/>
<stop offset=".2793" stop-color="#00feff"/>
<stop offset=".3816" stop-color="#00b7ff"/>
<stop offset=".4701" stop-color="#0075ff"/>
<stop offset=".6665" stop-color="#0001ff"/>
<stop offset=".7218" stop-color="#0000e3"/>
<stop offset=".7854" stop-color="#0000d1"/>
<stop offset=".8711" stop-color="#0000c4"/>
<stop offset=".9983" stop-color="#0000bd"/>
</linearGradient>
<linearGradient id="h66" gradientUnits="userSpaceOnUse" x1="1456.4" x2="1818" spreadMethod="reflect">
<stop offset="0" stop-color="#ffb500"/>
<stop offset=".0194" stop-color="#fb0"/>
<stop offset=".0304" stop-color="#ffc300"/>
<stop offset=".0774" stop-color="#feff01"/>
<stop offset=".1272" stop-color="#c2ff3d"/>
<stop offset=".177" stop-color="#75ff8a"/>
<stop offset=".224" stop-color="#26ffd9"/>
<stop offset=".2793" stop-color="#0ff"/>
<stop offset=".3816" stop-color="#00b9ff"/>
<stop offset=".4701" stop-color="#07f"/>
<stop offset=".6692" stop-color="#00f"/>
<stop offset=".7218" stop-color="#0000e4"/>
<stop offset=".7882" stop-color="#0000d1"/>
<stop offset=".8711" stop-color="#0000c5"/>
<stop offset=".9983" stop-color="#0000bd"/>
</linearGradient>
<linearGradient id="h67" gradientUnits="userSpaceOnUse" x1="1456.4" x2="1818" spreadMethod="reflect">
<stop offset="0" stop-color="#ffba00"/>
<stop offset=".0277" stop-color="#ffc500"/>
<stop offset=".0442" stop-color="#ffd700"/>
<stop offset=".0747" stop-color="#feff01"/>
<stop offset=".1272" stop-color="#bfff40"/>
<stop offset=".177" stop-color="#75ff8a"/>
<stop offset=".224" stop-color="#26ffd9"/>
<stop offset=".2821" stop-color="#00feff"/>
<stop offset=".3816" stop-color="#00baff"/>
<stop offset=".4701" stop-color="#0078ff"/>
<stop offset=".672" stop-color="#00f"/>
<stop offset=".7273" stop-color="#0000e3"/>
<stop offset=".7909" stop-color="#0000d2"/>
<stop offset=".8739" stop-color="#0000c6"/>
<stop offset=".9983" stop-color="#0000be"/>
</linearGradient>
<linearGradient id="h68" gradientUnits="userSpaceOnUse" x1="1456.4" x2="1818" spreadMethod="reflect">
<stop offset="0" stop-color="#ffbf00"/>
<stop offset=".0277" stop-color="#ffca00"/>
<stop offset=".0442" stop-color="#ffdb00"/>
<stop offset=".0719" stop-color="#feff01"/>
<stop offset=".1272" stop-color="#bdff42"/>
<stop offset=".177" stop-color="#74ff8b"/>
<stop offset=".224" stop-color="#27ffd8"/>
<stop offset=".2821" stop-color="#0ff"/>
<stop offset=".3816" stop-color="#00bcff"/>
<stop offset=".4701" stop-color="#007aff"/>
<stop offset=".672" stop-color="#0001ff"/>
<stop offset=".7301" stop-color="#0000e3"/>
<stop offset=".7937" stop-color="#0000d2"/>
<stop offset=".8739" stop-color="#0000c6"/>
<stop offset=".9983" stop-color="#0000bf"/>
</linearGradient>
<linearGradient id="h69" gradientUnits="userSpaceOnUse" x1="1456.4" x2="1818" spreadMethod="reflect">
<stop offset="0" stop-color="#ffc400"/>
<stop offset=".0277" stop-color="#ffce00"/>
<stop offset=".0442" stop-color="#ffdf00"/>
<stop offset=".0691" stop-color="#feff01"/>
<stop offset=".1272" stop-color="#bf4"/>
<stop offset=".177" stop-color="#73ff8c"/>
<stop offset=".224" stop-color="#27ffd8"/>
<stop offset=".2848" stop-color="#00feff"/>
<stop offset=".3816" stop-color="#00bdff"/>
<stop offset=".4701" stop-color="#007cff"/>
<stop offset=".6748" stop-color="#00f"/>
<stop offset=".7329" stop-color="#0000e3"/>
<stop offset=".7965" stop-color="#0000d3"/>
<stop offset=".8767" stop-color="#0000c7"/>
<stop offset=".9983" stop-color="#0000bf"/>
</linearGradient>
<linearGradient id="h70" gradientUnits="userSpaceOnUse" x1="1456.4" x2="1818" spreadMethod="reflect">
<stop offset="0" stop-color="#ffc900"/>
<stop offset=".0277" stop-color="#ffd300"/>
<stop offset=".0664" stop-color="#feff01"/>
<stop offset=".1272" stop-color="#b9ff46"/>
<stop offset=".177" stop-color="#72ff8d"/>
<stop offset=".224" stop-color="#28ffd7"/>
<stop offset=".2848" stop-color="#0ff"/>
<stop offset=".3816" stop-color="#00beff"/>
<stop offset=".4729" stop-color="#007cff"/>
<stop offset=".6775" stop-color="#00f"/>
<stop offset=".7356" stop-color="#0000e3"/>
<stop offset=".7992" stop-color="#0000d3"/>
<stop offset=".8767" stop-color="#0000c8"/>
<stop offset=".9983" stop-color="#0000c0"/>
</linearGradient>
<linearGradient id="h71" gradientUnits="userSpaceOnUse" x1="1456.4" x2="1818" spreadMethod="reflect">
<stop offset="0" stop-color="#ffce00"/>
<stop offset=".0277" stop-color="#ffd800"/>
<stop offset=".0636" stop-color="#feff01"/>
<stop offset=".1272" stop-color="#b7ff48"/>
<stop offset=".177" stop-color="#72ff8d"/>
<stop offset=".224" stop-color="#28ffd7"/>
<stop offset=".2876" stop-color="#00feff"/>
<stop offset=".3816" stop-color="#00c0ff"/>
<stop offset=".4729" stop-color="#007eff"/>
<stop offset=".6775" stop-color="#0001ff"/>
<stop offset=".7384" stop-color="#0000e3"/>
<stop offset=".802" stop-color="#0000d3"/>
<stop offset=".8794" stop-color="#0000c8"/>
<stop offset=".9983" stop-color="#0000c0"/>
</linearGradient>
<linearGradient id="h72" gradientUnits="userSpaceOnUse" x1="1456.4" x2="1818" spreadMethod="reflect">
<stop offset="0" stop-color="#ffd300"/>
<stop offset=".0277" stop-color="#ffdc00"/>
<stop offset=".0608" stop-color="#feff01"/>
<stop offset=".1272" stop-color="#b5ff4a"/>
<stop offset=".177" stop-color="#71ff8e"/>
<stop offset=".224" stop-color="#29ffd6"/>
<stop offset=".2876" stop-color="#0ff"/>
<stop offset=".3816" stop-color="#00c1ff"/>
<stop offset=".4729" stop-color="#0080ff"/>
<stop offset=".6803" stop-color="#00f"/>
<stop offset=".7384" stop-color="#0000e4"/>
<stop offset=".802" stop-color="#0000d4"/>
<stop offset=".8794" stop-color="#0000c9"/>
<stop offset=".9983" stop-color="#0000c1"/>
</linearGradient>
<linearGradient id="h73" gradientUnits="userSpaceOnUse" x1="1456.4" x2="1818" spreadMethod="reflect">
<stop offset="0" stop-color="#ffd800"/>
<stop offset=".0249" stop-color="#ffdf00"/>
<stop offset=".0581" stop-color="#fdff02"/>
<stop offset=".1272" stop-color="#b2ff4d"/>
<stop offset=".177" stop-color="#70ff8f"/>
<stop offset=".224" stop-color="#29ffd6"/>
<stop offset=".2904" stop-color="#00feff"/>
<stop offset=".3816" stop-color="#00c3ff"/>
<stop offset=".4729" stop-color="#0081ff"/>
<stop offset=".6831" stop-color="#00f"/>
<stop offset=".7412" stop-color="#0000e5"/>
<stop offset=".8048" stop-color="#0000d5"/>
<stop offset=".8822" stop-color="#0000ca"/>
<stop offset=".9983" stop-color="#0000c2"/>
</linearGradient>
<linearGradient id="h74" gradientUnits="userSpaceOnUse" x1="1456.4" x2="1818" spreadMethod="reflect">
<stop offset="0" stop-color="#ffdc00"/>
<stop offset=".0249" stop-color="#ffe400"/>
<stop offset=".0525" stop-color="#fffe00"/>
<stop offset=".1272" stop-color="#b0ff4f"/>
<stop offset=".177" stop-color="#6fff90"/>
<stop offset=".224" stop-color="#2affd5"/>
<stop offset=".2904" stop-color="#0ff"/>
<stop offset=".3816" stop-color="#00c4ff"/>
<stop offset=".4729" stop-color="#0083ff"/>
<stop offset=".6858" stop-color="#0000fe"/>
<stop offset=".7439" stop-color="#0000e5"/>
<stop offset=".8075" stop-color="#0000d5"/>
<stop offset=".8822" stop-color="#0000ca"/>
<stop offset=".9983" stop-color="#0000c2"/>
</linearGradient>
<linearGradient id="h75" gradientUnits="userSpaceOnUse" x1="1456.4" x2="1818" spreadMethod="reflect">
<stop offset="0" stop-color="#ffe100"/>
<stop offset=".0249" stop-color="#ffe900"/>
<stop offset=".0498" stop-color="#ff0"/>
<stop offset=".1272" stop-color="#aeff51"/>
<stop offset=".177" stop-color="#6fff90"/>
<stop offset=".224" stop-color="#2affd5"/>
<stop offset=".2931" stop-color="#00feff"/>
<stop offset=".3816" stop-color="#00c6ff"/>
<stop offset=".4729" stop-color="#0085ff"/>
<stop offset=".6858" stop-color="#0001ff"/>
<stop offset=".7439" stop-color="#0000e6"/>
<stop offset=".8075" stop-color="#0000d6"/>
<stop offset=".8822" stop-color="#0000cb"/>
<stop offset=".9983" stop-color="#0000c3"/>
</linearGradient>
<linearGradient id="h76" gradientUnits="userSpaceOnUse" x1="1456.4" x2="1818" spreadMethod="reflect">
<stop offset="0" stop-color="#ffe600"/>
<stop offset=".0221" stop-color="#ffec00"/>
<stop offset=".047" stop-color="#feff01"/>
<stop offset=".1272" stop-color="#acff53"/>
<stop offset=".177" stop-color="#6eff91"/>
<stop offset=".224" stop-color="#2bffd4"/>
<stop offset=".2931" stop-color="#0ff"/>
<stop offset=".3816" stop-color="#00c7ff"/>
<stop offset=".4729" stop-color="#0087ff"/>
<stop offset=".6886" stop-color="#00f"/>
<stop offset=".7467" stop-color="#0000e6"/>
<stop offset=".8103" stop-color="#0000d6"/>
<stop offset=".885" stop-color="#00c"/>
<stop offset=".9983" stop-color="#0000c3"/>
</linearGradient>
<linearGradient id="h77" gradientUnits="userSpaceOnUse" x1="1456.4" x2="1818" spreadMethod="reflect">
<stop offset="0" stop-color="#ffeb00"/>
<stop offset=".0221" stop-color="#fff100"/>
<stop offset=".0442" stop-color="#fdff02"/>
<stop offset=".1272" stop-color="#af5"/>
<stop offset=".177" stop-color="#6dff92"/>
<stop offset=".224" stop-color="#2bffd4"/>
<stop offset=".2959" stop-color="#00feff"/>
<stop offset=".3816" stop-color="#00c9ff"/>
<stop offset=".4729" stop-color="#08f"/>
<stop offset=".6914" stop-color="#00f"/>
<stop offset=".7494" stop-color="#0000e6"/>
<stop offset=".8131" stop-color="#0000d7"/>
<stop offset=".8877" stop-color="#00c"/>
<stop offset=".9983" stop-color="#0000c4"/>
</linearGradient>
<linearGradient id="h78" gradientUnits="userSpaceOnUse" x1="1456.4" x2="1818" spreadMethod="reflect">
<stop offset="0" stop-color="#fff000"/>
<stop offset=".0221" stop-color="#fff500"/>
<stop offset=".036" stop-color="#ff0"/>
<stop offset=".0415" stop-color="#fbff04"/>
<stop offset=".1272" stop-color="#a7ff58"/>
<stop offset=".177" stop-color="#6cff93"/>
<stop offset=".224" stop-color="#2cffd3"/>
<stop offset=".2959" stop-color="#0ff"/>
<stop offset=".3816" stop-color="#00caff"/>
<stop offset=".4729" stop-color="#008aff"/>
<stop offset=".6941" stop-color="#00f"/>
<stop offset=".7522" stop-color="#0000e6"/>
<stop offset=".8158" stop-color="#0000d7"/>
<stop offset=".8877" stop-color="#0000cd"/>
<stop offset=".9983" stop-color="#0000c5"/>
</linearGradient>
<linearGradient id="h79" gradientUnits="userSpaceOnUse" x1="1456.4" x2="1818" spreadMethod="reflect">
<stop offset="0" stop-color="#fff500"/>
<stop offset=".0304" stop-color="#ff0"/>
<stop offset=".0415" stop-color="#f7ff08"/>
<stop offset=".1272" stop-color="#a5ff5a"/>
<stop offset=".177" stop-color="#6cff93"/>
<stop offset=".224" stop-color="#2cffd3"/>
<stop offset=".2987" stop-color="#00feff"/>
<stop offset=".3623" stop-color="#00d8ff"/>
<stop offset=".4701" stop-color="#008eff"/>
<stop offset=".6941" stop-color="#0001ff"/>
<stop offset=".7522" stop-color="#0000e7"/>
<stop offset=".8158" stop-color="#0000d8"/>
<stop offset=".8877" stop-color="#0000ce"/>
<stop offset=".9983" stop-color="#0000c5"/>
</linearGradient>
<linearGradient id="h80" gradientUnits="userSpaceOnUse" x1="1456.4" x2="1818" spreadMethod="reflect">
<stop offset="0" stop-color="#fffa00"/>
<stop offset=".0221" stop-color="#ff0"/>
<stop offset=".0415" stop-color="#f2ff0d"/>
<stop offset=".13" stop-color="#a0ff5f"/>
<stop offset=".177" stop-color="#6bff94"/>
<stop offset=".224" stop-color="#2dffd2"/>
<stop offset=".2987" stop-color="#0ff"/>
<stop offset=".3678" stop-color="#00d6ff"/>
<stop offset=".4701" stop-color="#0090ff"/>
<stop offset=".6969" stop-color="#0001ff"/>
<stop offset=".755" stop-color="#0000e8"/>
<stop offset=".8186" stop-color="#0000d9"/>
<stop offset=".8905" stop-color="#0000ce"/>
<stop offset=".9983" stop-color="#0000c6"/>
</linearGradient>
<linearGradient id="h81" gradientUnits="userSpaceOnUse" x1="1456.4" x2="1818" spreadMethod="reflect">
<stop offset="0" stop-color="#ff0"/>
<stop offset=".0221" stop-color="#faff05"/>
<stop offset=".0387" stop-color="#f0ff0f"/>
<stop offset=".1189" stop-color="#a9ff56"/>
<stop offset=".1742" stop-color="#6dff92"/>
<stop offset=".2268" stop-color="#2bffd4"/>
<stop offset=".3014" stop-color="#0ff"/>
<stop offset=".3789" stop-color="#00d1ff"/>
<stop offset=".4701" stop-color="#0091ff"/>
<stop offset=".6997" stop-color="#00f"/>
<stop offset=".755" stop-color="#0000e9"/>
<stop offset=".8213" stop-color="#0000d9"/>
<stop offset=".8933" stop-color="#0000cf"/>
<stop offset=".9983" stop-color="#0000c6"/>
</linearGradient>
<linearGradient id="h82" gradientUnits="userSpaceOnUse" x1="1456.4" x2="1818" spreadMethod="reflect">
<stop offset="0" stop-color="#faff05"/>
<stop offset=".0221" stop-color="#f6ff09"/>
<stop offset=".0387" stop-color="#ecff13"/>
<stop offset=".1189" stop-color="#a7ff58"/>
<stop offset=".1742" stop-color="#6cff93"/>
<stop offset=".2268" stop-color="#2cffd3"/>
<stop offset=".3014" stop-color="#01fffe"/>
<stop offset=".3789" stop-color="#00d2ff"/>
<stop offset=".4701" stop-color="#0093ff"/>
<stop offset=".7024" stop-color="#00f"/>
<stop offset=".7577" stop-color="#0000e9"/>
<stop offset=".8213" stop-color="#0000da"/>
<stop offset=".8933" stop-color="#0000cf"/>
<stop offset=".9983" stop-color="#0000c7"/>
</linearGradient>
<linearGradient id="h83" gradientUnits="userSpaceOnUse" x1="1456.4" x2="1818" spreadMethod="reflect">
<stop offset="0" stop-color="#f5ff0a"/>
<stop offset=".0221" stop-color="#f1ff0e"/>
<stop offset=".0387" stop-color="#e7ff18"/>
<stop offset=".1189" stop-color="#a4ff5b"/>
<stop offset=".1742" stop-color="#6cff93"/>
<stop offset=".2268" stop-color="#2cffd3"/>
<stop offset=".3042" stop-color="#0ff"/>
<stop offset=".3789" stop-color="#00d3ff"/>
<stop offset=".4701" stop-color="#0095ff"/>
<stop offset=".7052" stop-color="#00f"/>
<stop offset=".7577" stop-color="#0000ea"/>
<stop offset=".8241" stop-color="#0000da"/>
<stop offset=".8933" stop-color="#0000d0"/>
<stop offset=".9983" stop-color="#0000c8"/>
</linearGradient>
<linearGradient id="h84" gradientUnits="userSpaceOnUse" x1="1456.4" x2="1818" spreadMethod="reflect">
<stop offset="0" stop-color="#f0ff0f"/>
<stop offset=".0221" stop-color="#ecff13"/>
<stop offset=".0387" stop-color="#e3ff1c"/>
<stop offset=".1189" stop-color="#a2ff5d"/>
<stop offset=".1742" stop-color="#6bff94"/>
<stop offset=".2268" stop-color="#2dffd2"/>
<stop offset=".307" stop-color="#00feff"/>
<stop offset=".3816" stop-color="#00d3ff"/>
<stop offset=".4701" stop-color="#0097ff"/>
<stop offset=".708" stop-color="#00f"/>
<stop offset=".7577" stop-color="#0000eb"/>
<stop offset=".8241" stop-color="#0000db"/>
<stop offset=".8933" stop-color="#0000d1"/>
<stop offset=".9983" stop-color="#0000c8"/>
</linearGradient>
<linearGradient id="h85" gradientUnits="userSpaceOnUse" x1="1456.4" x2="1818" spreadMethod="reflect">
<stop offset="0" stop-color="#ebff14"/>
<stop offset=".0221" stop-color="#e7ff18"/>
<stop offset=".0442" stop-color="#dbff24"/>
<stop offset=".141" stop-color="#8bff74"/>
<stop offset=".177" stop-color="#67ff98"/>
<stop offset=".224" stop-color="#2fffd0"/>
<stop offset=".307" stop-color="#0ff"/>
<stop offset=".3816" stop-color="#00d5ff"/>
<stop offset=".4701" stop-color="#0098ff"/>
<stop offset=".6886" stop-color="#000bff"/>
<stop offset=".7107" stop-color="#00f"/>
<stop offset=".7605" stop-color="#0000eb"/>
<stop offset=".8269" stop-color="#0000db"/>
<stop offset=".9983" stop-color="#0000c9"/>
</linearGradient>
<linearGradient id="h86" gradientUnits="userSpaceOnUse" x1="1456.4" x2="1818" spreadMethod="reflect">
<stop offset="0" stop-color="#e7ff18"/>
<stop offset=".0221" stop-color="#e3ff1c"/>
<stop offset=".0442" stop-color="#d6ff29"/>
<stop offset=".141" stop-color="#89ff76"/>
<stop offset=".177" stop-color="#6f9"/>
<stop offset=".224" stop-color="#30ffcf"/>
<stop offset=".3097" stop-color="#0ff"/>
<stop offset=".3844" stop-color="#00d4ff"/>
<stop offset=".6858" stop-color="#000eff"/>
<stop offset=".7135" stop-color="#00f"/>
<stop offset=".7633" stop-color="#0000eb"/>
<stop offset=".8296" stop-color="#0000dc"/>
<stop offset=".9983" stop-color="#0000c9"/>
</linearGradient>
<linearGradient id="h87" gradientUnits="userSpaceOnUse" x1="1456.4" x2="1818" spreadMethod="reflect">
<stop offset="0" stop-color="#e2ff1d"/>
<stop offset=".0249" stop-color="#df2"/>
<stop offset=".047" stop-color="#d0ff2f"/>
<stop offset=".141" stop-color="#8f7"/>
<stop offset=".177" stop-color="#65ff9a"/>
<stop offset=".224" stop-color="#31ffce"/>
<stop offset=".3125" stop-color="#00feff"/>
<stop offset=".3844" stop-color="#00d6ff"/>
<stop offset=".6858" stop-color="#0010ff"/>
<stop offset=".7135" stop-color="#0001ff"/>
<stop offset=".766" stop-color="#0000ec"/>
<stop offset=".8324" stop-color="#0000dc"/>
<stop offset=".9983" stop-color="#0000ca"/>
</linearGradient>
<linearGradient id="h88" gradientUnits="userSpaceOnUse" x1="1456.4" x2="1818" spreadMethod="reflect">
<stop offset="0" stop-color="#df2"/>
<stop offset=".0249" stop-color="#d8ff27"/>
<stop offset=".047" stop-color="#cf3"/>
<stop offset=".141" stop-color="#86ff79"/>
<stop offset=".177" stop-color="#65ff9a"/>
<stop offset=".224" stop-color="#31ffce"/>
<stop offset=".3153" stop-color="#00feff"/>
<stop offset=".3872" stop-color="#00d6ff"/>
<stop offset=".6858" stop-color="#01f"/>
<stop offset=".7163" stop-color="#0001ff"/>
<stop offset=".766" stop-color="#0000ed"/>
<stop offset=".8324" stop-color="#00d"/>
<stop offset=".9983" stop-color="#0000cb"/>
</linearGradient>
<linearGradient id="h89" gradientUnits="userSpaceOnUse" x1="1456.4" x2="1818" spreadMethod="reflect">
<stop offset="0" stop-color="#d8ff27"/>
<stop offset=".0249" stop-color="#d3ff2c"/>
<stop offset=".047" stop-color="#c8ff37"/>
<stop offset=".141" stop-color="#84ff7b"/>
<stop offset=".177" stop-color="#64ff9b"/>
<stop offset=".224" stop-color="#32ffcd"/>
<stop offset=".3153" stop-color="#0ff"/>
<stop offset=".3872" stop-color="#00d7ff"/>
<stop offset=".6858" stop-color="#0012ff"/>
<stop offset=".719" stop-color="#0001ff"/>
<stop offset=".766" stop-color="#00e"/>
<stop offset=".8352" stop-color="#00d"/>
<stop offset=".9983" stop-color="#0000cb"/>
</linearGradient>
<linearGradient id="h90" gradientUnits="userSpaceOnUse" x1="1456.4" x2="1818" spreadMethod="reflect">
<stop offset="0" stop-color="#d3ff2c"/>
<stop offset=".0221" stop-color="#cfff30"/>
<stop offset=".0415" stop-color="#c7ff38"/>
<stop offset=".1051" stop-color="#9dff62"/>
<stop offset=".1715" stop-color="#68ff97"/>
<stop offset=".224" stop-color="#32ffcd"/>
<stop offset=".318" stop-color="#0ff"/>
<stop offset=".3899" stop-color="#00d7ff"/>
<stop offset=".6886" stop-color="#0012ff"/>
<stop offset=".7218" stop-color="#0001ff"/>
<stop offset=".7688" stop-color="#00e"/>
<stop offset=".8379" stop-color="#0000de"/>
<stop offset=".9983" stop-color="#00c"/>
</linearGradient>
<linearGradient id="h91" gradientUnits="userSpaceOnUse" x1="1456.4" x2="1818" spreadMethod="reflect">
<stop offset="0" stop-color="#ceff31"/>
<stop offset=".0221" stop-color="#cbff34"/>
<stop offset=".0415" stop-color="#c3ff3c"/>
<stop offset=".1051" stop-color="#9aff65"/>
<stop offset=".1715" stop-color="#67ff98"/>
<stop offset=".224" stop-color="#3fc"/>
<stop offset=".3208" stop-color="#00feff"/>
<stop offset=".3899" stop-color="#00d8ff"/>
<stop offset=".6886" stop-color="#0013ff"/>
<stop offset=".7246" stop-color="#00f"/>
<stop offset=".7688" stop-color="#0000ef"/>
<stop offset=".8379" stop-color="#0000df"/>
<stop offset=".9983" stop-color="#00c"/>
</linearGradient>
<linearGradient id="h92" gradientUnits="userSpaceOnUse" x1="1456.4" x2="1818" spreadMethod="reflect">
<stop offset="0" stop-color="#c9ff36"/>
<stop offset=".0221" stop-color="#c6ff39"/>
<stop offset=".0415" stop-color="#beff41"/>
<stop offset=".1051" stop-color="#98ff67"/>
<stop offset=".1687" stop-color="#69ff96"/>
<stop offset=".2268" stop-color="#31ffce"/>
<stop offset=".3236" stop-color="#00feff"/>
<stop offset=".3927" stop-color="#00d8ff"/>
<stop offset=".5863" stop-color="#005bff"/>
<stop offset=".6886" stop-color="#0014ff"/>
<stop offset=".7273" stop-color="#00f"/>
<stop offset=".7716" stop-color="#0000ef"/>
<stop offset=".8407" stop-color="#0000df"/>
<stop offset=".9983" stop-color="#0000cd"/>
</linearGradient>
<linearGradient id="h93" gradientUnits="userSpaceOnUse" x1="1456.4" x2="1818" spreadMethod="reflect">
<stop offset="0" stop-color="#c4ff3b"/>
<stop offset=".0221" stop-color="#c1ff3e"/>
<stop offset=".0415" stop-color="#baff45"/>
<stop offset=".1079" stop-color="#93ff6c"/>
<stop offset=".1715" stop-color="#6f9"/>
<stop offset=".224" stop-color="#34ffcb"/>
<stop offset=".3236" stop-color="#0ff"/>
<stop offset=".3927" stop-color="#00daff"/>
<stop offset=".578" stop-color="#0062ff"/>
<stop offset=".6886" stop-color="#0015ff"/>
<stop offset=".7301" stop-color="#00f"/>
<stop offset=".7743" stop-color="#0000ef"/>
<stop offset=".8407" stop-color="#0000e0"/>
<stop offset=".9983" stop-color="#0000ce"/>
</linearGradient>
<linearGradient id="h94" gradientUnits="userSpaceOnUse" x1="1456.4" x2="1818" spreadMethod="reflect">
<stop offset="0" stop-color="#bfff40"/>
<stop offset=".0415" stop-color="#b5ff4a"/>
<stop offset=".1079" stop-color="#91ff6e"/>
<stop offset=".1715" stop-color="#65ff9a"/>
<stop offset=".2268" stop-color="#32ffcd"/>
<stop offset=".3263" stop-color="#0ff"/>
<stop offset=".3955" stop-color="#00daff"/>
<stop offset=".5752" stop-color="#0065ff"/>
<stop offset=".6886" stop-color="#0017ff"/>
<stop offset=".7329" stop-color="#00f"/>
<stop offset=".7799" stop-color="#0000ef"/>
<stop offset=".8435" stop-color="#0000e0"/>
<stop offset=".9983" stop-color="#0000ce"/>
</linearGradient>
<linearGradient id="h95" gradientUnits="userSpaceOnUse" x1="1456.4" x2="1818" spreadMethod="reflect">
<stop offset="0" stop-color="#baff45"/>
<stop offset=".0415" stop-color="#b1ff4e"/>
<stop offset=".1079" stop-color="#8eff71"/>
<stop offset=".1687" stop-color="#6f9"/>
<stop offset=".2268" stop-color="#3fc"/>
<stop offset=".3291" stop-color="#0ff"/>
<stop offset=".4065" stop-color="#00d4ff"/>
<stop offset=".5752" stop-color="#0067ff"/>
<stop offset=".6914" stop-color="#0016ff"/>
<stop offset=".7356" stop-color="#00f"/>
<stop offset=".7826" stop-color="#0000ef"/>
<stop offset=".8462" stop-color="#0000e1"/>
<stop offset=".9983" stop-color="#0000cf"/>
</linearGradient>
<linearGradient id="h96" gradientUnits="userSpaceOnUse" x1="1456.4" x2="1818" spreadMethod="reflect">
<stop offset="0" stop-color="#b5ff4a"/>
<stop offset=".0415" stop-color="#adff52"/>
<stop offset=".1079" stop-color="#8cff73"/>
<stop offset=".1687" stop-color="#65ff9a"/>
<stop offset=".2268" stop-color="#3fc"/>
<stop offset=".3319" stop-color="#0ff"/>
<stop offset=".4093" stop-color="#00d4ff"/>
<stop offset=".5725" stop-color="#006aff"/>
<stop offset=".6914" stop-color="#0017ff"/>
<stop offset=".7384" stop-color="#00f"/>
<stop offset=".7854" stop-color="#0000ef"/>
<stop offset=".8462" stop-color="#0000e2"/>
<stop offset=".9983" stop-color="#0000cf"/>
</linearGradient>
<linearGradient id="h97" gradientUnits="userSpaceOnUse" x1="1456.4" x2="1818" spreadMethod="reflect">
<stop offset="0" stop-color="#b0ff4f"/>
<stop offset=".0415" stop-color="#a8ff57"/>
<stop offset=".1079" stop-color="#89ff76"/>
<stop offset=".1687" stop-color="#64ff9b"/>
<stop offset=".2268" stop-color="#34ffcb"/>
<stop offset=".3346" stop-color="#0ff"/>
<stop offset=".4148" stop-color="#00d2ff"/>
<stop offset=".5725" stop-color="#006cff"/>
<stop offset=".6914" stop-color="#0019ff"/>
<stop offset=".7412" stop-color="#00f"/>
<stop offset=".7882" stop-color="#0000f0"/>
<stop offset=".849" stop-color="#0000e2"/>
<stop offset=".9983" stop-color="#0000d0"/>
</linearGradient>
<linearGradient id="h98" gradientUnits="userSpaceOnUse" x1="1456.4" x2="1818" spreadMethod="reflect">
<stop offset="0" stop-color="#acff53"/>
<stop offset=".0442" stop-color="#a3ff5c"/>
<stop offset=".1106" stop-color="#85ff7a"/>
<stop offset=".1687" stop-color="#63ff9c"/>
<stop offset=".2268" stop-color="#34ffcb"/>
<stop offset=".3374" stop-color="#0ff"/>
<stop offset=".3955" stop-color="#00e0ff"/>
<stop offset=".5254" stop-color="#008cff"/>
<stop offset=".6914" stop-color="#001aff"/>
<stop offset=".7439" stop-color="#00f"/>
<stop offset=".7909" stop-color="#0000f0"/>
<stop offset=".8518" stop-color="#0000e2"/>
<stop offset=".9983" stop-color="#0000d1"/>
</linearGradient>
<linearGradient id="h99" gradientUnits="userSpaceOnUse" x1="1456.4" x2="1818" spreadMethod="reflect">
<stop offset="0" stop-color="#a7ff58"/>
<stop offset=".0442" stop-color="#9fff60"/>
<stop offset=".1106" stop-color="#82ff7d"/>
<stop offset=".1687" stop-color="#62ff9d"/>
<stop offset=".2268" stop-color="#35ffca"/>
<stop offset=".3402" stop-color="#0ff"/>
<stop offset=".3982" stop-color="#00e0ff"/>
<stop offset=".5227" stop-color="#0090ff"/>
<stop offset=".6914" stop-color="#001bff"/>
<stop offset=".7467" stop-color="#00f"/>
<stop offset=".8518" stop-color="#0000e3"/>
<stop offset=".9983" stop-color="#0000d1"/>
</linearGradient>
<linearGradient id="h100" gradientUnits="userSpaceOnUse" x1="1456.4" x2="1818" spreadMethod="reflect">
<stop offset="0" stop-color="#a2ff5d"/>
<stop offset=".0442" stop-color="#9bff64"/>
<stop offset=".1134" stop-color="#7eff81"/>
<stop offset=".1687" stop-color="#61ff9e"/>
<stop offset=".2268" stop-color="#36ffc9"/>
<stop offset=".3429" stop-color="#0ff"/>
<stop offset=".3982" stop-color="#00e1ff"/>
<stop offset=".5199" stop-color="#0093ff"/>
<stop offset=".6914" stop-color="#001cff"/>
<stop offset=".7467" stop-color="#0001ff"/>
<stop offset=".8545" stop-color="#0000e3"/>
<stop offset=".9983" stop-color="#0000d2"/>
</linearGradient>
<linearGradient id="h101" gradientUnits="userSpaceOnUse" x1="1456.4" x2="1818" spreadMethod="reflect">
<stop offset="0" stop-color="#9dff62"/>
<stop offset=".047" stop-color="#96ff69"/>
<stop offset=".1162" stop-color="#7bff84"/>
<stop offset=".1715" stop-color="#5effa1"/>
<stop offset=".2268" stop-color="#36ffc9"/>
<stop offset=".3457" stop-color="#0ff"/>
<stop offset=".401" stop-color="#00e1ff"/>
<stop offset=".5199" stop-color="#0095ff"/>
<stop offset=".6914" stop-color="#001eff"/>
<stop offset=".7494" stop-color="#0001ff"/>
<stop offset=".8573" stop-color="#0000e4"/>
<stop offset=".9983" stop-color="#0000d2"/>
</linearGradient>
<linearGradient id="h102" gradientUnits="userSpaceOnUse" x1="1456.4" x2="1818" spreadMethod="reflect">
<stop offset="0" stop-color="#98ff67"/>
<stop offset=".047" stop-color="#91ff6e"/>
<stop offset=".1189" stop-color="#7f8"/>
<stop offset=".1715" stop-color="#5dffa2"/>
<stop offset=".2295" stop-color="#35ffca"/>
<stop offset=".3485" stop-color="#0ff"/>
<stop offset=".4038" stop-color="#00e1ff"/>
<stop offset=".5171" stop-color="#0098ff"/>
<stop offset=".6914" stop-color="#001fff"/>
<stop offset=".7494" stop-color="#0002ff"/>
<stop offset=".8601" stop-color="#0000e4"/>
<stop offset=".9983" stop-color="#0000d3"/>
</linearGradient>
<linearGradient id="h103" gradientUnits="userSpaceOnUse" x1="1456.4" x2="1818" spreadMethod="reflect">
<stop offset="0" stop-color="#93ff6c"/>
<stop offset=".0553" stop-color="#8bff74"/>
<stop offset=".1383" stop-color="#6dff92"/>
<stop offset=".1742" stop-color="#5bffa4"/>
<stop offset=".2268" stop-color="#37ffc8"/>
<stop offset=".3512" stop-color="#0ff"/>
<stop offset=".4065" stop-color="#00e1ff"/>
<stop offset=".5171" stop-color="#009aff"/>
<stop offset=".6914" stop-color="#0020ff"/>
<stop offset=".7494" stop-color="#0003ff"/>
<stop offset=".7577" stop-color="#00f"/>
<stop offset=".8628" stop-color="#0000e4"/>
<stop offset=".9983" stop-color="#0000d4"/>
</linearGradient>
<linearGradient id="h104" gradientUnits="userSpaceOnUse" x1="1456.4" x2="1818" spreadMethod="reflect">
<stop offset="0" stop-color="#8eff71"/>
<stop offset=".0664" stop-color="#84ff7b"/>
<stop offset=".1438" stop-color="#69ff96"/>
<stop offset=".1742" stop-color="#5affa5"/>
<stop offset=".2295" stop-color="#36ffc9"/>
<stop offset=".354" stop-color="#0ff"/>
<stop offset=".4093" stop-color="#00e1ff"/>
<stop offset=".5171" stop-color="#009cff"/>
<stop offset=".6914" stop-color="#0021ff"/>
<stop offset=".7494" stop-color="#0004ff"/>
<stop offset=".7633" stop-color="#0000fe"/>
<stop offset=".8684" stop-color="#0000e4"/>
<stop offset=".9983" stop-color="#0000d4"/>
</linearGradient>
<linearGradient id="h105" gradientUnits="userSpaceOnUse" x1="1456.4" x2="1818" spreadMethod="reflect">
<stop offset="0" stop-color="#89ff76"/>
<stop offset=".0664" stop-color="#81ff7e"/>
<stop offset=".1466" stop-color="#6f9"/>
<stop offset=".1742" stop-color="#59ffa6"/>
<stop offset=".2295" stop-color="#37ffc8"/>
<stop offset=".3567" stop-color="#0ff"/>
<stop offset=".4121" stop-color="#00e1ff"/>
<stop offset=".5171" stop-color="#009eff"/>
<stop offset=".6914" stop-color="#0023ff"/>
<stop offset=".7494" stop-color="#0005ff"/>
<stop offset=".766" stop-color="#0000fe"/>
<stop offset=".8711" stop-color="#0000e5"/>
<stop offset=".9983" stop-color="#0000d5"/>
</linearGradient>
<linearGradient id="h106" gradientUnits="userSpaceOnUse" x1="1456.4" x2="1818" spreadMethod="reflect">
<stop offset="0" stop-color="#84ff7b"/>
<stop offset=".0691" stop-color="#7cff83"/>
<stop offset=".1521" stop-color="#62ff9d"/>
<stop offset=".2295" stop-color="#37ffc8"/>
<stop offset=".3595" stop-color="#0ff"/>
<stop offset=".4121" stop-color="#00e2ff"/>
<stop offset=".5144" stop-color="#00a1ff"/>
<stop offset=".6914" stop-color="#0024ff"/>
<stop offset=".7494" stop-color="#0006ff"/>
<stop offset=".7688" stop-color="#0000fe"/>
<stop offset=".8656" stop-color="#0000e6"/>
<stop offset=".9983" stop-color="#0000d5"/>
</linearGradient>
<linearGradient id="h107" gradientUnits="userSpaceOnUse" x1="1456.4" x2="1818" spreadMethod="reflect">
<stop offset="0" stop-color="#80ff80"/>
<stop offset=".0691" stop-color="#79ff86"/>
<stop offset=".1521" stop-color="#61ff9e"/>
<stop offset=".2295" stop-color="#38ffc7"/>
<stop offset=".3623" stop-color="#0ff"/>
<stop offset=".4148" stop-color="#00e2ff"/>
<stop offset=".5144" stop-color="#00a3ff"/>
<stop offset=".6914" stop-color="#0025ff"/>
<stop offset=".7522" stop-color="#0006ff"/>
<stop offset=".7716" stop-color="#0000fe"/>
<stop offset=".8656" stop-color="#0000e7"/>
<stop offset=".9983" stop-color="#0000d6"/>
</linearGradient>
<linearGradient id="h108" gradientUnits="userSpaceOnUse" x1="1456.4" x2="1818" spreadMethod="reflect">
<stop offset="0" stop-color="#80ff80"/>
<stop offset=".0691" stop-color="#79ff86"/>
<stop offset=".1521" stop-color="#61ff9e"/>
<stop offset=".2295" stop-color="#38ffc7"/>
<stop offset=".3623" stop-color="#0ff"/>
<stop offset=".4148" stop-color="#00e2ff"/>
<stop offset=".5144" stop-color="#00a3ff"/>
<stop offset=".6914" stop-color="#0025ff"/>
<stop offset=".7522" stop-color="#0006ff"/>
<stop offset=".7716" stop-color="#0000fe"/>
<stop offset=".8656" stop-color="#0000e7"/>
<stop offset=".9983" stop-color="#0000d6"/>
</linearGradient>
<filter id="vb" x="-2%" y="-2%" width="104%" height="104%"><feGaussianBlur stdDeviation="0 2"/></filter>
</defs>
<clipPath id="ch"><rect x="1099.3" y="753.2" width="716.7" height="425.1"/></clipPath>
<g clip-path="url(#ch)">
<g filter="url(#vb)">
<rect x="1090" y="748" width="734" height="5" fill="url(#h0)"/>
<rect x="1090" y="752" width="734" height="5" fill="url(#h1)"/>
<rect x="1090" y="756" width="734" height="5" fill="url(#h2)"/>
<rect x="1090" y="760" width="734" height="5" fill="url(#h3)"/>
<rect x="1090" y="764" width="734" height="5" fill="url(#h4)"/>
<rect x="1090" y="768" width="734" height="5" fill="url(#h5)"/>
<rect x="1090" y="772" width="734" height="5" fill="url(#h6)"/>
<rect x="1090" y="776" width="734" height="5" fill="url(#h7)"/>
<rect x="1090" y="780" width="734" height="5" fill="url(#h8)"/>
<rect x="1090" y="784" width="734" height="5" fill="url(#h9)"/>
<rect x="1090" y="788" width="734" height="5" fill="url(#h10)"/>
<rect x="1090" y="792" width="734" height="5" fill="url(#h11)"/>
<rect x="1090" y="796" width="734" height="5" fill="url(#h12)"/>
<rect x="1090" y="800" width="734" height="5" fill="url(#h13)"/>
<rect x="1090" y="804" width="734" height="5" fill="url(#h14)"/>
<rect x="1090" y="808" width="734" height="5" fill="url(#h15)"/>
<rect x="1090" y="812" width="734" height="5" fill="url(#h16)"/>
<rect x="1090" y="816" width="734" height="5" fill="url(#h17)"/>
<rect x="1090" y="820" width="734" height="5" fill="url(#h18)"/>
<rect x="1090" y="824" width="734" height="5" fill="url(#h19)"/>
<rect x="1090" y="828" width="734" height="5" fill="url(#h20)"/>
<rect x="1090" y="832" width="734" height="5" fill="url(#h21)"/>
<rect x="1090" y="836" width="734" height="5" fill="url(#h22)"/>
<rect x="1090" y="840" width="734" height="5" fill="url(#h23)"/>
<rect x="1090" y="844" width="734" height="5" fill="url(#h24)"/>
<rect x="1090" y="848" width="734" height="5" fill="url(#h25)"/>
<rect x="1090" y="852" width="734" height="5" fill="url(#h26)"/>
<rect x="1090" y="856" width="734" height="5" fill="url(#h27)"/>
<rect x="1090" y="860" width="734" height="5" fill="url(#h28)"/>
<rect x="1090" y="864" width="734" height="5" fill="url(#h29)"/>
<rect x="1090" y="868" width="734" height="5" fill="url(#h30)"/>
<rect x="1090" y="872" width="734" height="5" fill="url(#h31)"/>
<rect x="1090" y="876" width="734" height="5" fill="url(#h32)"/>
<rect x="1090" y="880" width="734" height="5" fill="url(#h33)"/>
<rect x="1090" y="884" width="734" height="5" fill="url(#h34)"/>
<rect x="1090" y="888" width="734" height="5" fill="url(#h35)"/>
<rect x="1090" y="892" width="734" height="5" fill="url(#h36)"/>
<rect x="1090" y="896" width="734" height="5" fill="url(#h37)"/>
<rect x="1090" y="900" width="734" height="5" fill="url(#h38)"/>
<rect x="1090" y="904" width="734" height="5" fill="url(#h39)"/>
<rect x="1090" y="908" width="734" height="5" fill="url(#h40)"/>
<rect x="1090" y="912" width="734" height="5" fill="url(#h41)"/>
<rect x="1090" y="916" width="734" height="5" fill="url(#h42)"/>
<rect x="1090" y="920" width="734" height="5" fill="url(#h43)"/>
<rect x="1090" y="924" width="734" height="5" fill="url(#h44)"/>
<rect x="1090" y="928" width="734" height="5" fill="url(#h45)"/>
<rect x="1090" y="932" width="734" height="5" fill="url(#h46)"/>
<rect x="1090" y="936" width="734" height="5" fill="url(#h47)"/>
<rect x="1090" y="940" width="734" height="5" fill="url(#h48)"/>
<rect x="1090" y="944" width="734" height="5" fill="url(#h49)"/>
<rect x="1090" y="948" width="734" height="5" fill="url(#h50)"/>
<rect x="1090" y="952" width="734" height="5" fill="url(#h51)"/>
<rect x="1090" y="956" width="734" height="5" fill="url(#h52)"/>
<rect x="1090" y="960" width="734" height="5" fill="url(#h53)"/>
<rect x="1090" y="964" width="734" height="5" fill="url(#h54)"/>
<rect x="1090" y="968" width="734" height="5" fill="url(#h55)"/>
<rect x="1090" y="972" width="734" height="5" fill="url(#h56)"/>
<rect x="1090" y="976" width="734" height="5" fill="url(#h57)"/>
<rect x="1090" y="980" width="734" height="5" fill="url(#h58)"/>
<rect x="1090" y="984" width="734" height="5" fill="url(#h59)"/>
<rect x="1090" y="988" width="734" height="5" fill="url(#h60)"/>
<rect x="1090" y="992" width="734" height="5" fill="url(#h61)"/>
<rect x="1090" y="996" width="734" height="5" fill="url(#h62)"/>
<rect x="1090" y="1000" width="734" height="5" fill="url(#h63)"/>
<rect x="1090" y="1004" width="734" height="5" fill="url(#h64)"/>
<rect x="1090" y="1008" width="734" height="5" fill="url(#h65)"/>
<rect x="1090" y="1012" width="734" height="5" fill="url(#h66)"/>
<rect x="1090" y="1016" width="734" height="5" fill="url(#h67)"/>
<rect x="1090" y="1020" width="734" height="5" fill="url(#h68)"/>
<rect x="1090" y="1024" width="734" height="5" fill="url(#h69)"/>
<rect x="1090" y="1028" width="734" height="5" fill="url(#h70)"/>
<rect x="1090" y="1032" width="734" height="5" fill="url(#h71)"/>
<rect x="1090" y="1036" width="734" height="5" fill="url(#h72)"/>
<rect x="1090" y="1040" width="734" height="5" fill="url(#h73)"/>
<rect x="1090" y="1044" width="734" height="5" fill="url(#h74)"/>
<rect x="1090" y="1048" width="734" height="5" fill="url(#h75)"/>
<rect x="1090" y="1052" width="734" height="5" fill="url(#h76)"/>
<rect x="1090" y="1056" width="734" height="5" fill="url(#h77)"/>
<rect x="1090" y="1060" width="734" height="5" fill="url(#h78)"/>
<rect x="1090" y="1064" width="734" height="5" fill="url(#h79)"/>
<rect x="1090" y="1068" width="734" height="5" fill="url(#h80)"/>
<rect x="1090" y="1072" width="734" height="5" fill="url(#h81)"/>
<rect x="1090" y="1076" width="734" height="5" fill="url(#h82)"/>
<rect x="1090" y="1080" width="734" height="5" fill="url(#h83)"/>
<rect x="1090" y="1084" width="734" height="5" fill="url(#h84)"/>
<rect x="1090" y="1088" width="734" height="5" fill="url(#h85)"/>
<rect x="1090" y="1092" width="734" height="5" fill="url(#h86)"/>
<rect x="1090" y="1096" width="734" height="5" fill="url(#h87)"/>
<rect x="1090" y="1100" width="734" height="5" fill="url(#h88)"/>
<rect x="1090" y="1104" width="734" height="5" fill="url(#h89)"/>
<rect x="1090" y="1108" width="734" height="5" fill="url(#h90)"/>
<rect x="1090" y="1112" width="734" height="5" fill="url(#h91)"/>
<rect x="1090" y="1116" width="734" height="5" fill="url(#h92)"/>
<rect x="1090" y="1120" width="734" height="5" fill="url(#h93)"/>
<rect x="1090" y="1124" width="734" height="5" fill="url(#h94)"/>
<rect x="1090" y="1128" width="734" height="5" fill="url(#h95)"/>
<rect x="1090" y="1132" width="734" height="5" fill="url(#h96)"/>
<rect x="1090" y="1136" width="734" height="5" fill="url(#h97)"/>
<rect x="1090" y="1140" width="734" height="5" fill="url(#h98)"/>
<rect x="1090" y="1144" width="734" height="5" fill="url(#h99)"/>
<rect x="1090" y="1148" width="734" height="5" fill="url(#h100)"/>
<rect x="1090" y="1152" width="734" height="5" fill="url(#h101)"/>
<rect x="1090" y="1156" width="734" height="5" fill="url(#h102)"/>
<rect x="1090" y="1160" width="734" height="5" fill="url(#h103)"/>
<rect x="1090" y="1164" width="734" height="5" fill="url(#h104)"/>
<rect x="1090" y="1168" width="734" height="5" fill="url(#h105)"/>
<rect x="1090" y="1172" width="734" height="5" fill="url(#h106)"/>
<rect x="1090" y="1176" width="734" height="5" fill="url(#h107)"/>
<rect x="1090" y="1180" width="734" height="5" fill="url(#h108)"/>
</g>
<rect x="1143" y="757" width="57" height="64" fill="#00006a" opacity=".13"/>
<path d="M1388.1 732.6 1388.6 774.9 1389 816.7 1389.4 851.3 1389.8 875.8 1390.2 894.9 1390.6 911.7 1391 927 1391.4 941.1 1391.9 954.5 1392.3 968 1392.7 981.3 1393.1 993.5 1393.5 1004.1 1393.9 1013.3 1394.3 1021.8 1394.8 1029.5 1395.2 1036.4 1395.6 1042.5 1396 1047.8 1396.4 1052.6 1396.8 1057 1397.2 1061.2 1397.6 1065 1398.1 1068.6 1398.5 1072 1398.9 1075.4 1399.3 1078.7 1399.7 1081.9 1400.1 1085 1400.5 1088 1401 1091 1401.4 1093.9 1401.8 1096.7 1402.2 1099.6 1402.6 1102.3 1403 1105 1403.4 1107.5 1403.8 1109.8 1404.3 1112 1404.7 1114.2 1405.1 1116.2 1405.5 1118.2 1405.9 1120 1406.3 1121.8 1406.7 1123.4 1407.1 1125 1407.6 1126.5 1408 1128 1408.4 1129.4 1408.8 1130.7 1409.2 1132 1409.6 1133.2 1410 1134.5 1410.5 1135.6 1410.9 1136.8 1411.3 1137.9 1411.7 1139 1412.1 1140.1 1412.5 1141.1 1413.2 1142.9 1415 1147 1416.8 1150.9 1418.6 1154.4 1420.4 1157.5 1422.2 1160.2 1424 1162.6 1425.8 1164.8 1427.6 1166.8 1429.4 1168.7 1431.2 1170.4 1433 1171.7 1434.8 1172.8 1436.6 1173.8 1438.4 1174.6 1440.2 1175.3 1442 1175.8 1443.8 1176.1 1445.6 1176.5 1447.4 1176.7 1449.2 1177 1451 1177.1 1452.8 1177.3 1454.6 1177.4 1456.4 1177.5 1456.4 1177.5 1458.2 1177.4 1460 1177.3 1461.8 1177.1 1463.6 1177 1465.4 1176.7 1467.2 1176.5 1469 1176.1 1470.8 1175.8 1472.6 1175.3 1474.4 1174.6 1476.2 1173.8 1478 1172.8 1479.8 1171.7 1481.6 1170.4 1483.4 1168.7 1485.2 1166.8 1487 1164.8 1488.8 1162.6 1490.6 1160.2 1492.4 1157.5 1494.2 1154.4 1496 1150.9 1497.8 1147 1499.6 1142.9 1500.3 1141.1 1500.7 1140.1 1501.1 1139 1501.5 1137.9 1501.9 1136.8 1502.3 1135.6 1502.8 1134.5 1503.2 1133.2 1503.6 1132 1504 1130.7 1504.4 1129.4 1504.8 1128 1505.2 1126.5 1505.7 1125 1506.1 1123.4 1506.5 1121.8 1506.9 1120 1507.3 1118.2 1507.7 1116.2 1508.1 1114.2 1508.5 1112 1509 1109.8 1509.4 1107.5 1509.8 1105 1510.2 1102.3 1510.6 1099.6 1511 1096.7 1511.4 1093.9 1511.8 1091 1512.3 1088 1512.7 1085 1513.1 1081.9 1513.5 1078.7 1513.9 1075.4 1514.3 1072 1514.7 1068.6 1515.2 1065 1515.6 1061.2 1516 1057 1516.4 1052.6 1516.8 1047.8 1517.2 1042.5 1517.6 1036.4 1518 1029.5 1518.5 1021.8 1518.9 1013.3 1519.3 1004.1 1519.7 993.5 1520.1 981.3 1520.5 968 1520.9 954.5 1521.4 941.1 1521.8 927 1522.2 911.7 1522.6 894.9 1523 875.8 1523.4 851.3 1523.8 816.7 1524.2 774.9 1524.7 732.6" fill="none" stroke="#fff" stroke-width="2.7" stroke-linejoin="round"/>
</g>
<rect x="1099.3" y="753.2" width="716.7" height="425.1" fill="none" stroke="#000" stroke-width="3.4"/>
<g stroke="#000" stroke-width="2.2">
<path d="M1168.7 753.2v6.5M1168.7 1178.3v-6.5"/>
<path d="M1240.6 753.2v6.5M1240.6 1178.3v-6.5"/>
<path d="M1312.5 753.2v6.5M1312.5 1178.3v-6.5"/>
<path d="M1384.5 753.2v6.5M1384.5 1178.3v-6.5"/>
<path d="M1456.4 753.2v6.5M1456.4 1178.3v-6.5"/>
<path d="M1528.3 753.2v6.5M1528.3 1178.3v-6.5"/>
<path d="M1600.3 753.2v6.5M1600.3 1178.3v-6.5"/>
<path d="M1672.2 753.2v6.5M1672.2 1178.3v-6.5"/>
<path d="M1744.1 753.2v6.5M1744.1 1178.3v-6.5"/>
<path d="M1099.3 1124.8h6.5M1816 1124.8h-6.5"/>
<path d="M1099.3 1071.8h6.5M1816 1071.8h-6.5"/>
<path d="M1099.3 1018.8h6.5M1816 1018.8h-6.5"/>
<path d="M1099.3 965.8h6.5M1816 965.8h-6.5"/>
<path d="M1099.3 912.8h6.5M1816 912.8h-6.5"/>
<path d="M1099.3 859.8h6.5M1816 859.8h-6.5"/>
<path d="M1099.3 806.8h6.5M1816 806.8h-6.5"/>
</g>
<g font-family="'Liberation Sans',Arial,Helvetica,sans-serif" font-weight="bold" fill="#000">
<g font-size="37" text-anchor="end">
<text x="1094.3" y="1190.5">0</text>
<text x="1094.3" y="1084.5">10</text>
<text x="1094.3" y="978.5">20</text>
<text x="1094.3" y="872.5">30</text>
<text x="1094.3" y="766.5">40</text>
</g><g font-size="36" text-anchor="middle">
<text x="1162.7" y="1215">-400</text>
<text x="1306.5" y="1215">-200</text>
<text x="1456.4" y="1215">0</text>
<text x="1600.3" y="1215">200</text>
<text x="1744.1" y="1215">400</text>
</g>
<text transform="translate(1378 1249) scale(.9 1)" font-size="36.5">E</text>
<text transform="translate(1402 1265.8) scale(.9 1)" font-size="27.5">F</text>
<text x="1429.8" y="1249" font-size="36.5" textLength="101.5" lengthAdjust="spacingAndGlyphs">(meV)</text>
</g>
<g transform="translate(1038.4 1003) rotate(-90)" fill="#000">
<text x="0" y="0" font-family="'Liberation Serif','Times New Roman',serif" font-size="35">τ</text>
<text x="13" y="0" font-family="'Liberation Sans',Arial,Helvetica,sans-serif" font-weight="bold" font-size="37">(fs)</text>
</g>
</g>
</svg>
</body></html>
